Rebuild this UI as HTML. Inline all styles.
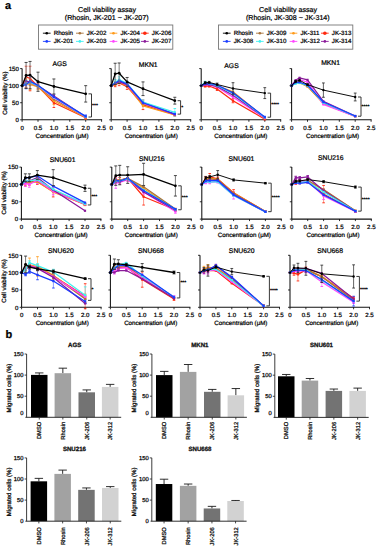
<!DOCTYPE html>
<html><head><meta charset="utf-8"><style>
html,body{margin:0;padding:0;background:#fff;}
body{width:378px;height:550px;overflow:hidden;}
svg{display:block;font-family:"Liberation Sans", sans-serif;text-rendering:geometricPrecision;}
text{stroke:#000;stroke-width:0.22px;paint-order:stroke;}
text.b{stroke:#111;stroke-width:0.28px;}
</style></head><body>
<svg width="378" height="550" viewBox="0 0 378 550">
<rect width="378" height="550" fill="#fff"/>
<text x="4.9" y="8.7" font-size="11" font-weight="bold">a</text>
<text x="107" y="12.4" font-size="7.1" text-anchor="middle" font-weight="normal" fill="#000" >Cell viability assay</text>
<text x="106.7" y="19.8" font-size="7.1" text-anchor="middle" font-weight="normal" fill="#000" >(Rhosin, JK-201 ~ JK-207)</text>
<text x="288.1" y="12.4" font-size="7.1" text-anchor="middle" font-weight="normal" fill="#000" >Cell viability assay</text>
<text x="287.8" y="19.8" font-size="7.1" text-anchor="middle" font-weight="normal" fill="#000" >(Rhosin, JK-308 ~ JK-314)</text>
<rect x="38.5" y="25" width="134.3" height="24.2" fill="none" stroke="#777" stroke-width="0.9"/>
<line x1="42.9" y1="33.2" x2="50.6" y2="33.2" stroke="#000000" stroke-width="0.9" />
<circle cx="46.75" cy="33.2" r="1.3" fill="#000000"/>
<text x="53.7" y="35.2" font-size="6.2" text-anchor="start" font-weight="normal" fill="#000" >Rhosin</text>
<line x1="76" y1="33.2" x2="83.7" y2="33.2" stroke="#a8743c" stroke-width="0.9" />
<circle cx="79.85" cy="33.2" r="1.3" fill="#a8743c"/>
<text x="86.8" y="35.2" font-size="6.2" text-anchor="start" font-weight="normal" fill="#000" >JK-202</text>
<line x1="109.6" y1="33.2" x2="117.3" y2="33.2" stroke="#ff9a1a" stroke-width="0.9" />
<circle cx="113.45" cy="33.2" r="1.3" fill="#ff9a1a"/>
<text x="120.4" y="35.2" font-size="6.2" text-anchor="start" font-weight="normal" fill="#000" >JK-204</text>
<line x1="141" y1="33.2" x2="148.7" y2="33.2" stroke="#ff2a10" stroke-width="0.9" />
<circle cx="144.85" cy="33.2" r="1.8" fill="#ff2a10"/>
<text x="151.8" y="35.2" font-size="6.2" text-anchor="start" font-weight="normal" fill="#000" >JK-206</text>
<line x1="42.9" y1="41.4" x2="50.6" y2="41.4" stroke="#1a3cff" stroke-width="0.9" />
<circle cx="46.75" cy="41.4" r="1.3" fill="#1a3cff"/>
<text x="53.7" y="43.4" font-size="6.2" text-anchor="start" font-weight="normal" fill="#000" >JK-201</text>
<line x1="76" y1="41.4" x2="83.7" y2="41.4" stroke="#3ef0f0" stroke-width="0.9" />
<circle cx="79.85" cy="41.4" r="1.3" fill="#3ef0f0"/>
<text x="86.8" y="43.4" font-size="6.2" text-anchor="start" font-weight="normal" fill="#000" >JK-203</text>
<line x1="109.6" y1="41.4" x2="117.3" y2="41.4" stroke="#ff44ff" stroke-width="0.9" />
<circle cx="113.45" cy="41.4" r="1.3" fill="#ff44ff"/>
<text x="120.4" y="43.4" font-size="6.2" text-anchor="start" font-weight="normal" fill="#000" >JK-205</text>
<line x1="141" y1="41.4" x2="148.7" y2="41.4" stroke="#8a1a9a" stroke-width="0.9" />
<circle cx="144.85" cy="41.4" r="1.3" fill="#8a1a9a"/>
<text x="151.8" y="43.4" font-size="6.2" text-anchor="start" font-weight="normal" fill="#000" >JK-207</text>
<rect x="218.5" y="25" width="134.3" height="24.2" fill="none" stroke="#777" stroke-width="0.9"/>
<line x1="222.9" y1="33.2" x2="230.6" y2="33.2" stroke="#000000" stroke-width="0.9" />
<circle cx="226.75" cy="33.2" r="1.3" fill="#000000"/>
<text x="233.7" y="35.2" font-size="6.2" text-anchor="start" font-weight="normal" fill="#000" >Rhosin</text>
<line x1="256" y1="33.2" x2="263.7" y2="33.2" stroke="#a8743c" stroke-width="0.9" />
<circle cx="259.85" cy="33.2" r="1.3" fill="#a8743c"/>
<text x="266.8" y="35.2" font-size="6.2" text-anchor="start" font-weight="normal" fill="#000" >JK-309</text>
<line x1="289.6" y1="33.2" x2="297.3" y2="33.2" stroke="#ff9a1a" stroke-width="0.9" />
<circle cx="293.45" cy="33.2" r="1.3" fill="#ff9a1a"/>
<text x="300.4" y="35.2" font-size="6.2" text-anchor="start" font-weight="normal" fill="#000" >JK-311</text>
<line x1="321" y1="33.2" x2="328.7" y2="33.2" stroke="#ff2a10" stroke-width="0.9" />
<circle cx="324.85" cy="33.2" r="1.8" fill="#ff2a10"/>
<text x="331.8" y="35.2" font-size="6.2" text-anchor="start" font-weight="normal" fill="#000" >JK-313</text>
<line x1="222.9" y1="41.4" x2="230.6" y2="41.4" stroke="#1a3cff" stroke-width="0.9" />
<circle cx="226.75" cy="41.4" r="1.3" fill="#1a3cff"/>
<text x="233.7" y="43.4" font-size="6.2" text-anchor="start" font-weight="normal" fill="#000" >JK-308</text>
<line x1="256" y1="41.4" x2="263.7" y2="41.4" stroke="#3ef0f0" stroke-width="0.9" />
<circle cx="259.85" cy="41.4" r="1.3" fill="#3ef0f0"/>
<text x="266.8" y="43.4" font-size="6.2" text-anchor="start" font-weight="normal" fill="#000" >JK-310</text>
<line x1="289.6" y1="41.4" x2="297.3" y2="41.4" stroke="#ff44ff" stroke-width="0.9" />
<circle cx="293.45" cy="41.4" r="1.3" fill="#ff44ff"/>
<text x="300.4" y="43.4" font-size="6.2" text-anchor="start" font-weight="normal" fill="#000" >JK-312</text>
<line x1="321" y1="41.4" x2="328.7" y2="41.4" stroke="#8a1a9a" stroke-width="0.9" />
<circle cx="324.85" cy="41.4" r="1.3" fill="#8a1a9a"/>
<text x="331.8" y="43.4" font-size="6.2" text-anchor="start" font-weight="normal" fill="#000" >JK-314</text>
<text x="59.7" y="66.3" font-size="6.8" text-anchor="middle" font-weight="normal" fill="#000" >AGS</text>
<line x1="22.1" y1="119.8" x2="22.1" y2="68.6" stroke="#111" stroke-width="1.05" />
<line x1="20.1" y1="119.8" x2="22.1" y2="119.8" stroke="#000" stroke-width="0.8" />
<line x1="20.1" y1="102.73" x2="22.1" y2="102.73" stroke="#000" stroke-width="0.8" />
<line x1="20.1" y1="85.67" x2="22.1" y2="85.67" stroke="#000" stroke-width="0.8" />
<line x1="20.1" y1="68.6" x2="22.1" y2="68.6" stroke="#000" stroke-width="0.8" />
<line x1="22.1" y1="119.8" x2="102.1" y2="119.8" stroke="#111" stroke-width="1.05" />
<line x1="22.1" y1="119.8" x2="22.1" y2="121.8" stroke="#000" stroke-width="0.8" />
<text x="22.1" y="129.7" font-size="6.1" text-anchor="middle" font-weight="normal" fill="#000" >0</text>
<line x1="38" y1="119.8" x2="38" y2="121.8" stroke="#000" stroke-width="0.8" />
<text x="38" y="129.7" font-size="6.1" text-anchor="middle" font-weight="normal" fill="#000" >0.5</text>
<line x1="53.9" y1="119.8" x2="53.9" y2="121.8" stroke="#000" stroke-width="0.8" />
<text x="53.9" y="129.7" font-size="6.1" text-anchor="middle" font-weight="normal" fill="#000" >1.0</text>
<line x1="69.8" y1="119.8" x2="69.8" y2="121.8" stroke="#000" stroke-width="0.8" />
<text x="69.8" y="129.7" font-size="6.1" text-anchor="middle" font-weight="normal" fill="#000" >1.5</text>
<line x1="85.7" y1="119.8" x2="85.7" y2="121.8" stroke="#000" stroke-width="0.8" />
<text x="85.7" y="129.7" font-size="6.1" text-anchor="middle" font-weight="normal" fill="#000" >2.0</text>
<line x1="101.6" y1="119.8" x2="101.6" y2="121.8" stroke="#000" stroke-width="0.8" />
<text x="101.6" y="129.7" font-size="6.1" text-anchor="middle" font-weight="normal" fill="#000" >2.5</text>
<text x="62" y="137.7" font-size="6.2" text-anchor="middle" font-weight="normal" fill="#000" >Concentration (μM)</text>
<text x="18.9" y="122" font-size="6.1" text-anchor="end" font-weight="normal" fill="#000" >0</text>
<text x="18.9" y="104.93" font-size="6.1" text-anchor="end" font-weight="normal" fill="#000" >50</text>
<text x="18.9" y="87.87" font-size="6.1" text-anchor="end" font-weight="normal" fill="#000" >100</text>
<text x="18.9" y="70.8" font-size="6.1" text-anchor="end" font-weight="normal" fill="#000" >150</text>
<text transform="translate(6.9,93.15) rotate(-90)" font-size="6.1" text-anchor="middle">Cell viability (%)</text>
<line x1="26.08" y1="87.37" x2="26.08" y2="66.21" stroke="#ff2a10" stroke-width="0.5" />
<line x1="24.78" y1="66.21" x2="27.38" y2="66.21" stroke="#ff2a10" stroke-width="0.9" />
<line x1="24.78" y1="87.37" x2="27.38" y2="87.37" stroke="#ff2a10" stroke-width="0.9" />
<line x1="30.05" y1="90.79" x2="30.05" y2="66.21" stroke="#ff2a10" stroke-width="0.5" />
<line x1="28.75" y1="66.21" x2="31.35" y2="66.21" stroke="#ff2a10" stroke-width="0.9" />
<line x1="28.75" y1="90.79" x2="31.35" y2="90.79" stroke="#ff2a10" stroke-width="0.9" />
<line x1="38" y1="89.08" x2="38" y2="83.62" stroke="#ff2a10" stroke-width="0.5" />
<line x1="36.7" y1="83.62" x2="39.3" y2="83.62" stroke="#ff2a10" stroke-width="0.9" />
<line x1="36.7" y1="89.08" x2="39.3" y2="89.08" stroke="#ff2a10" stroke-width="0.9" />
<line x1="53.9" y1="107.51" x2="53.9" y2="97.95" stroke="#ff2a10" stroke-width="0.5" />
<line x1="52.6" y1="97.95" x2="55.2" y2="97.95" stroke="#ff2a10" stroke-width="0.9" />
<line x1="52.6" y1="107.51" x2="55.2" y2="107.51" stroke="#ff2a10" stroke-width="0.9" />
<line x1="85.7" y1="119.12" x2="85.7" y2="116.39" stroke="#ff2a10" stroke-width="0.5" />
<line x1="84.4" y1="116.39" x2="87" y2="116.39" stroke="#ff2a10" stroke-width="0.9" />
<line x1="84.4" y1="119.12" x2="87" y2="119.12" stroke="#ff2a10" stroke-width="0.9" />
<line x1="26.08" y1="88.4" x2="26.08" y2="78.84" stroke="#ff9a1a" stroke-width="0.5" />
<line x1="24.78" y1="78.84" x2="27.38" y2="78.84" stroke="#ff9a1a" stroke-width="0.9" />
<line x1="24.78" y1="88.4" x2="27.38" y2="88.4" stroke="#ff9a1a" stroke-width="0.9" />
<line x1="30.05" y1="89.76" x2="30.05" y2="78.84" stroke="#ff9a1a" stroke-width="0.5" />
<line x1="28.75" y1="78.84" x2="31.35" y2="78.84" stroke="#ff9a1a" stroke-width="0.9" />
<line x1="28.75" y1="89.76" x2="31.35" y2="89.76" stroke="#ff9a1a" stroke-width="0.9" />
<line x1="38" y1="89.76" x2="38" y2="84.3" stroke="#ff9a1a" stroke-width="0.5" />
<line x1="36.7" y1="84.3" x2="39.3" y2="84.3" stroke="#ff9a1a" stroke-width="0.9" />
<line x1="36.7" y1="89.76" x2="39.3" y2="89.76" stroke="#ff9a1a" stroke-width="0.9" />
<line x1="53.9" y1="104.44" x2="53.9" y2="97.61" stroke="#ff9a1a" stroke-width="0.5" />
<line x1="52.6" y1="97.61" x2="55.2" y2="97.61" stroke="#ff9a1a" stroke-width="0.9" />
<line x1="52.6" y1="104.44" x2="55.2" y2="104.44" stroke="#ff9a1a" stroke-width="0.9" />
<line x1="85.7" y1="118.78" x2="85.7" y2="116.05" stroke="#ff9a1a" stroke-width="0.5" />
<line x1="84.4" y1="116.05" x2="87" y2="116.05" stroke="#ff9a1a" stroke-width="0.9" />
<line x1="84.4" y1="118.78" x2="87" y2="118.78" stroke="#ff9a1a" stroke-width="0.9" />
<line x1="26.08" y1="88.74" x2="26.08" y2="80.55" stroke="#1a3cff" stroke-width="0.5" />
<line x1="24.78" y1="80.55" x2="27.38" y2="80.55" stroke="#1a3cff" stroke-width="0.9" />
<line x1="24.78" y1="88.74" x2="27.38" y2="88.74" stroke="#1a3cff" stroke-width="0.9" />
<line x1="30.05" y1="85.33" x2="30.05" y2="77.13" stroke="#1a3cff" stroke-width="0.5" />
<line x1="28.75" y1="77.13" x2="31.35" y2="77.13" stroke="#1a3cff" stroke-width="0.9" />
<line x1="28.75" y1="85.33" x2="31.35" y2="85.33" stroke="#1a3cff" stroke-width="0.9" />
<line x1="38" y1="88.06" x2="38" y2="82.59" stroke="#1a3cff" stroke-width="0.5" />
<line x1="36.7" y1="82.59" x2="39.3" y2="82.59" stroke="#1a3cff" stroke-width="0.9" />
<line x1="36.7" y1="88.06" x2="39.3" y2="88.06" stroke="#1a3cff" stroke-width="0.9" />
<line x1="53.9" y1="98.98" x2="53.9" y2="94.88" stroke="#1a3cff" stroke-width="0.5" />
<line x1="52.6" y1="94.88" x2="55.2" y2="94.88" stroke="#1a3cff" stroke-width="0.9" />
<line x1="52.6" y1="98.98" x2="55.2" y2="98.98" stroke="#1a3cff" stroke-width="0.9" />
<line x1="85.7" y1="117.75" x2="85.7" y2="115.02" stroke="#1a3cff" stroke-width="0.5" />
<line x1="84.4" y1="115.02" x2="87" y2="115.02" stroke="#1a3cff" stroke-width="0.9" />
<line x1="84.4" y1="117.75" x2="87" y2="117.75" stroke="#1a3cff" stroke-width="0.9" />
<polyline points="22.1,85.67 26.08,76.79 30.05,78.5 38,86.35 53.9,102.73 85.7,117.75" fill="none" stroke="#ff2a10" stroke-width="1.25" stroke-linejoin="round"/>
<rect x="21" y="84.57" width="2.2" height="2.2" fill="#ff2a10"/>
<rect x="24.98" y="75.69" width="2.2" height="2.2" fill="#ff2a10"/>
<rect x="28.95" y="77.4" width="2.2" height="2.2" fill="#ff2a10"/>
<rect x="36.9" y="85.25" width="2.2" height="2.2" fill="#ff2a10"/>
<rect x="52.8" y="101.63" width="2.2" height="2.2" fill="#ff2a10"/>
<rect x="84.6" y="116.65" width="2.2" height="2.2" fill="#ff2a10"/>
<polyline points="22.1,85.67 26.08,83.62 30.05,84.3 38,87.03 53.9,101.03 85.7,117.41" fill="none" stroke="#ff9a1a" stroke-width="1.25" stroke-linejoin="round"/>
<rect x="21" y="84.57" width="2.2" height="2.2" fill="#ff9a1a"/>
<rect x="24.98" y="82.52" width="2.2" height="2.2" fill="#ff9a1a"/>
<rect x="28.95" y="83.2" width="2.2" height="2.2" fill="#ff9a1a"/>
<rect x="36.9" y="85.93" width="2.2" height="2.2" fill="#ff9a1a"/>
<rect x="52.8" y="99.93" width="2.2" height="2.2" fill="#ff9a1a"/>
<rect x="84.6" y="116.31" width="2.2" height="2.2" fill="#ff9a1a"/>
<polyline points="22.1,85.67 26.08,82.94 30.05,82.94 38,86.35 53.9,99.32 85.7,117.07" fill="none" stroke="#a8743c" stroke-width="1.25" stroke-linejoin="round"/>
<rect x="21" y="84.57" width="2.2" height="2.2" fill="#a8743c"/>
<rect x="24.98" y="81.84" width="2.2" height="2.2" fill="#a8743c"/>
<rect x="28.95" y="81.84" width="2.2" height="2.2" fill="#a8743c"/>
<rect x="36.9" y="85.25" width="2.2" height="2.2" fill="#a8743c"/>
<rect x="52.8" y="98.22" width="2.2" height="2.2" fill="#a8743c"/>
<rect x="84.6" y="115.97" width="2.2" height="2.2" fill="#a8743c"/>
<polyline points="22.1,85.67 26.08,82.25 30.05,82.25 38,86.01 53.9,97.95 85.7,117.07" fill="none" stroke="#ff44ff" stroke-width="1.25" stroke-linejoin="round"/>
<rect x="21" y="84.57" width="2.2" height="2.2" fill="#ff44ff"/>
<rect x="24.98" y="81.15" width="2.2" height="2.2" fill="#ff44ff"/>
<rect x="28.95" y="81.15" width="2.2" height="2.2" fill="#ff44ff"/>
<rect x="36.9" y="84.91" width="2.2" height="2.2" fill="#ff44ff"/>
<rect x="52.8" y="96.85" width="2.2" height="2.2" fill="#ff44ff"/>
<rect x="84.6" y="115.97" width="2.2" height="2.2" fill="#ff44ff"/>
<polyline points="22.1,85.67 26.08,81.57 30.05,81.57 38,85.67 53.9,95.91 85.7,116.73" fill="none" stroke="#8a1a9a" stroke-width="1.25" stroke-linejoin="round"/>
<rect x="21" y="84.57" width="2.2" height="2.2" fill="#8a1a9a"/>
<rect x="24.98" y="80.47" width="2.2" height="2.2" fill="#8a1a9a"/>
<rect x="28.95" y="80.47" width="2.2" height="2.2" fill="#8a1a9a"/>
<rect x="36.9" y="84.57" width="2.2" height="2.2" fill="#8a1a9a"/>
<rect x="52.8" y="94.81" width="2.2" height="2.2" fill="#8a1a9a"/>
<rect x="84.6" y="115.63" width="2.2" height="2.2" fill="#8a1a9a"/>
<polyline points="22.1,85.67 26.08,83.62 30.05,82.25 38,85.67 53.9,97.27 85.7,116.73" fill="none" stroke="#3ef0f0" stroke-width="1.25" stroke-linejoin="round"/>
<rect x="21" y="84.57" width="2.2" height="2.2" fill="#3ef0f0"/>
<rect x="24.98" y="82.52" width="2.2" height="2.2" fill="#3ef0f0"/>
<rect x="28.95" y="81.15" width="2.2" height="2.2" fill="#3ef0f0"/>
<rect x="36.9" y="84.57" width="2.2" height="2.2" fill="#3ef0f0"/>
<rect x="52.8" y="96.17" width="2.2" height="2.2" fill="#3ef0f0"/>
<rect x="84.6" y="115.63" width="2.2" height="2.2" fill="#3ef0f0"/>
<polyline points="22.1,85.67 26.08,84.64 30.05,81.23 38,85.33 53.9,96.93 85.7,116.39" fill="none" stroke="#1a3cff" stroke-width="1.25" stroke-linejoin="round"/>
<rect x="21" y="84.57" width="2.2" height="2.2" fill="#1a3cff"/>
<rect x="24.98" y="83.54" width="2.2" height="2.2" fill="#1a3cff"/>
<rect x="28.95" y="80.13" width="2.2" height="2.2" fill="#1a3cff"/>
<rect x="36.9" y="84.23" width="2.2" height="2.2" fill="#1a3cff"/>
<rect x="52.8" y="95.83" width="2.2" height="2.2" fill="#1a3cff"/>
<rect x="84.6" y="115.29" width="2.2" height="2.2" fill="#1a3cff"/>
<line x1="26.08" y1="88.4" x2="26.08" y2="62.46" stroke="#7a7a7a" stroke-width="1.0" />
<line x1="24.58" y1="62.46" x2="27.58" y2="62.46" stroke="#333" stroke-width="0.9" />
<line x1="24.58" y1="88.4" x2="27.58" y2="88.4" stroke="#333" stroke-width="0.9" />
<line x1="30.05" y1="88.74" x2="30.05" y2="61.43" stroke="#7a7a7a" stroke-width="1.0" />
<line x1="28.55" y1="61.43" x2="31.55" y2="61.43" stroke="#333" stroke-width="0.9" />
<line x1="28.55" y1="88.74" x2="31.55" y2="88.74" stroke="#333" stroke-width="0.9" />
<line x1="38" y1="91.3" x2="38" y2="72.18" stroke="#7a7a7a" stroke-width="1.0" />
<line x1="36.5" y1="72.18" x2="39.5" y2="72.18" stroke="#333" stroke-width="0.9" />
<line x1="36.5" y1="91.3" x2="39.5" y2="91.3" stroke="#333" stroke-width="0.9" />
<line x1="53.9" y1="94" x2="53.9" y2="78.98" stroke="#7a7a7a" stroke-width="1.0" />
<line x1="52.4" y1="78.98" x2="55.4" y2="78.98" stroke="#333" stroke-width="0.9" />
<line x1="52.4" y1="94" x2="55.4" y2="94" stroke="#333" stroke-width="0.9" />
<line x1="85.7" y1="102.05" x2="85.7" y2="85.67" stroke="#7a7a7a" stroke-width="1.0" />
<line x1="84.2" y1="85.67" x2="87.2" y2="85.67" stroke="#333" stroke-width="0.9" />
<line x1="84.2" y1="102.05" x2="87.2" y2="102.05" stroke="#333" stroke-width="0.9" />
<polyline points="22.1,85.67 26.08,75.43 30.05,75.09 38,81.74 53.9,86.49 85.7,93.86" fill="none" stroke="#000" stroke-width="1.3" stroke-linejoin="round"/>
<circle cx="22.1" cy="85.67" r="1.4" fill="#000"/>
<circle cx="26.08" cy="75.43" r="1.4" fill="#000"/>
<circle cx="30.05" cy="75.09" r="1.4" fill="#000"/>
<circle cx="38" cy="81.74" r="1.4" fill="#000"/>
<circle cx="53.9" cy="86.49" r="1.4" fill="#000"/>
<circle cx="85.7" cy="93.86" r="1.4" fill="#000"/>
<polyline points="88.5,93.86 91.5,93.86 91.5,117.02 88.5,117.02" fill="none" stroke="#222" stroke-width="0.9"/>
<text x="92.1" y="107.14" font-size="5.0" text-anchor="start" font-weight="normal" fill="#000" >***</text>
<text x="148.2" y="67.4" font-size="6.8" text-anchor="middle" font-weight="normal" fill="#000" >MKN1</text>
<line x1="111.2" y1="119.8" x2="111.2" y2="68.6" stroke="#111" stroke-width="1.05" />
<line x1="109.2" y1="119.8" x2="111.2" y2="119.8" stroke="#000" stroke-width="0.8" />
<line x1="109.2" y1="102.73" x2="111.2" y2="102.73" stroke="#000" stroke-width="0.8" />
<line x1="109.2" y1="85.67" x2="111.2" y2="85.67" stroke="#000" stroke-width="0.8" />
<line x1="109.2" y1="68.6" x2="111.2" y2="68.6" stroke="#000" stroke-width="0.8" />
<line x1="111.2" y1="119.8" x2="191.2" y2="119.8" stroke="#111" stroke-width="1.05" />
<line x1="111.2" y1="119.8" x2="111.2" y2="121.8" stroke="#000" stroke-width="0.8" />
<text x="111.2" y="129.7" font-size="6.1" text-anchor="middle" font-weight="normal" fill="#000" >0</text>
<line x1="127.1" y1="119.8" x2="127.1" y2="121.8" stroke="#000" stroke-width="0.8" />
<text x="127.1" y="129.7" font-size="6.1" text-anchor="middle" font-weight="normal" fill="#000" >0.5</text>
<line x1="143" y1="119.8" x2="143" y2="121.8" stroke="#000" stroke-width="0.8" />
<text x="143" y="129.7" font-size="6.1" text-anchor="middle" font-weight="normal" fill="#000" >1.0</text>
<line x1="158.9" y1="119.8" x2="158.9" y2="121.8" stroke="#000" stroke-width="0.8" />
<text x="158.9" y="129.7" font-size="6.1" text-anchor="middle" font-weight="normal" fill="#000" >1.5</text>
<line x1="174.8" y1="119.8" x2="174.8" y2="121.8" stroke="#000" stroke-width="0.8" />
<text x="174.8" y="129.7" font-size="6.1" text-anchor="middle" font-weight="normal" fill="#000" >2.0</text>
<line x1="190.7" y1="119.8" x2="190.7" y2="121.8" stroke="#000" stroke-width="0.8" />
<text x="190.7" y="129.7" font-size="6.1" text-anchor="middle" font-weight="normal" fill="#000" >2.5</text>
<text x="151.2" y="137.7" font-size="6.2" text-anchor="middle" font-weight="normal" fill="#000" >Concentration (μM)</text>
<line x1="115.17" y1="86.69" x2="115.17" y2="82.59" stroke="#ff2a10" stroke-width="0.5" />
<line x1="113.88" y1="82.59" x2="116.47" y2="82.59" stroke="#ff2a10" stroke-width="0.9" />
<line x1="113.88" y1="86.69" x2="116.47" y2="86.69" stroke="#ff2a10" stroke-width="0.9" />
<line x1="119.15" y1="85.67" x2="119.15" y2="80.21" stroke="#ff2a10" stroke-width="0.5" />
<line x1="117.85" y1="80.21" x2="120.45" y2="80.21" stroke="#ff2a10" stroke-width="0.9" />
<line x1="117.85" y1="85.67" x2="120.45" y2="85.67" stroke="#ff2a10" stroke-width="0.9" />
<line x1="127.1" y1="89.42" x2="127.1" y2="83.96" stroke="#ff2a10" stroke-width="0.5" />
<line x1="125.8" y1="83.96" x2="128.4" y2="83.96" stroke="#ff2a10" stroke-width="0.9" />
<line x1="125.8" y1="89.42" x2="128.4" y2="89.42" stroke="#ff2a10" stroke-width="0.9" />
<line x1="143" y1="109.56" x2="143" y2="100" stroke="#ff2a10" stroke-width="0.5" />
<line x1="141.7" y1="100" x2="144.3" y2="100" stroke="#ff2a10" stroke-width="0.9" />
<line x1="141.7" y1="109.56" x2="144.3" y2="109.56" stroke="#ff2a10" stroke-width="0.9" />
<line x1="174.8" y1="116.05" x2="174.8" y2="113.31" stroke="#ff2a10" stroke-width="0.5" />
<line x1="173.5" y1="113.31" x2="176.1" y2="113.31" stroke="#ff2a10" stroke-width="0.9" />
<line x1="173.5" y1="116.05" x2="176.1" y2="116.05" stroke="#ff2a10" stroke-width="0.9" />
<line x1="115.17" y1="84.98" x2="115.17" y2="79.52" stroke="#3ef0f0" stroke-width="0.5" />
<line x1="113.88" y1="79.52" x2="116.47" y2="79.52" stroke="#3ef0f0" stroke-width="0.9" />
<line x1="113.88" y1="84.98" x2="116.47" y2="84.98" stroke="#3ef0f0" stroke-width="0.9" />
<line x1="119.15" y1="82.25" x2="119.15" y2="76.79" stroke="#3ef0f0" stroke-width="0.5" />
<line x1="117.85" y1="76.79" x2="120.45" y2="76.79" stroke="#3ef0f0" stroke-width="0.9" />
<line x1="117.85" y1="82.25" x2="120.45" y2="82.25" stroke="#3ef0f0" stroke-width="0.9" />
<line x1="127.1" y1="85.67" x2="127.1" y2="81.57" stroke="#3ef0f0" stroke-width="0.5" />
<line x1="125.8" y1="81.57" x2="128.4" y2="81.57" stroke="#3ef0f0" stroke-width="0.9" />
<line x1="125.8" y1="85.67" x2="128.4" y2="85.67" stroke="#3ef0f0" stroke-width="0.9" />
<line x1="143" y1="104.1" x2="143" y2="100" stroke="#3ef0f0" stroke-width="0.5" />
<line x1="141.7" y1="100" x2="144.3" y2="100" stroke="#3ef0f0" stroke-width="0.9" />
<line x1="141.7" y1="104.1" x2="144.3" y2="104.1" stroke="#3ef0f0" stroke-width="0.9" />
<line x1="174.8" y1="116.05" x2="174.8" y2="108.54" stroke="#3ef0f0" stroke-width="0.5" />
<line x1="173.5" y1="108.54" x2="176.1" y2="108.54" stroke="#3ef0f0" stroke-width="0.9" />
<line x1="173.5" y1="116.05" x2="176.1" y2="116.05" stroke="#3ef0f0" stroke-width="0.9" />
<polyline points="111.2,85.67 115.17,84.64 119.15,82.94 127.1,86.69 143,104.78 174.8,114.68" fill="none" stroke="#ff2a10" stroke-width="1.25" stroke-linejoin="round"/>
<rect x="110.1" y="84.57" width="2.2" height="2.2" fill="#ff2a10"/>
<rect x="114.08" y="83.54" width="2.2" height="2.2" fill="#ff2a10"/>
<rect x="118.05" y="81.84" width="2.2" height="2.2" fill="#ff2a10"/>
<rect x="126" y="85.59" width="2.2" height="2.2" fill="#ff2a10"/>
<rect x="141.9" y="103.68" width="2.2" height="2.2" fill="#ff2a10"/>
<rect x="173.7" y="113.58" width="2.2" height="2.2" fill="#ff2a10"/>
<polyline points="111.2,85.67 115.17,84.3 119.15,82.42 127.1,85.67 143,105.81 174.8,115.02" fill="none" stroke="#ff9a1a" stroke-width="1.25" stroke-linejoin="round"/>
<rect x="110.1" y="84.57" width="2.2" height="2.2" fill="#ff9a1a"/>
<rect x="114.08" y="83.2" width="2.2" height="2.2" fill="#ff9a1a"/>
<rect x="118.05" y="81.32" width="2.2" height="2.2" fill="#ff9a1a"/>
<rect x="126" y="84.57" width="2.2" height="2.2" fill="#ff9a1a"/>
<rect x="141.9" y="104.71" width="2.2" height="2.2" fill="#ff9a1a"/>
<rect x="173.7" y="113.92" width="2.2" height="2.2" fill="#ff9a1a"/>
<polyline points="111.2,85.67 115.17,83.62 119.15,82.25 127.1,84.98 143,103.76 174.8,114.34" fill="none" stroke="#a8743c" stroke-width="1.25" stroke-linejoin="round"/>
<rect x="110.1" y="84.57" width="2.2" height="2.2" fill="#a8743c"/>
<rect x="114.08" y="82.52" width="2.2" height="2.2" fill="#a8743c"/>
<rect x="118.05" y="81.15" width="2.2" height="2.2" fill="#a8743c"/>
<rect x="126" y="83.88" width="2.2" height="2.2" fill="#a8743c"/>
<rect x="141.9" y="102.66" width="2.2" height="2.2" fill="#a8743c"/>
<rect x="173.7" y="113.24" width="2.2" height="2.2" fill="#a8743c"/>
<polyline points="111.2,85.67 115.17,83.28 119.15,81.57 127.1,84.98 143,103.07 174.8,114.34" fill="none" stroke="#ff44ff" stroke-width="1.25" stroke-linejoin="round"/>
<rect x="110.1" y="84.57" width="2.2" height="2.2" fill="#ff44ff"/>
<rect x="114.08" y="82.18" width="2.2" height="2.2" fill="#ff44ff"/>
<rect x="118.05" y="80.47" width="2.2" height="2.2" fill="#ff44ff"/>
<rect x="126" y="83.88" width="2.2" height="2.2" fill="#ff44ff"/>
<rect x="141.9" y="101.97" width="2.2" height="2.2" fill="#ff44ff"/>
<rect x="173.7" y="113.24" width="2.2" height="2.2" fill="#ff44ff"/>
<polyline points="111.2,85.67 115.17,82.94 119.15,81.57 127.1,84.64 143,102.39 174.8,114.34" fill="none" stroke="#8a1a9a" stroke-width="1.25" stroke-linejoin="round"/>
<rect x="110.1" y="84.57" width="2.2" height="2.2" fill="#8a1a9a"/>
<rect x="114.08" y="81.84" width="2.2" height="2.2" fill="#8a1a9a"/>
<rect x="118.05" y="80.47" width="2.2" height="2.2" fill="#8a1a9a"/>
<rect x="126" y="83.54" width="2.2" height="2.2" fill="#8a1a9a"/>
<rect x="141.9" y="101.29" width="2.2" height="2.2" fill="#8a1a9a"/>
<rect x="173.7" y="113.24" width="2.2" height="2.2" fill="#8a1a9a"/>
<polyline points="111.2,85.67 115.17,82.25 119.15,79.52 127.1,83.62 143,102.05 174.8,112.29" fill="none" stroke="#3ef0f0" stroke-width="1.25" stroke-linejoin="round"/>
<rect x="110.1" y="84.57" width="2.2" height="2.2" fill="#3ef0f0"/>
<rect x="114.08" y="81.15" width="2.2" height="2.2" fill="#3ef0f0"/>
<rect x="118.05" y="78.42" width="2.2" height="2.2" fill="#3ef0f0"/>
<rect x="126" y="82.52" width="2.2" height="2.2" fill="#3ef0f0"/>
<rect x="141.9" y="100.95" width="2.2" height="2.2" fill="#3ef0f0"/>
<rect x="173.7" y="111.19" width="2.2" height="2.2" fill="#3ef0f0"/>
<polyline points="111.2,85.67 115.17,82.94 119.15,80.68 127.1,83.96 143,102.73 174.8,114" fill="none" stroke="#1a3cff" stroke-width="1.25" stroke-linejoin="round"/>
<rect x="110.1" y="84.57" width="2.2" height="2.2" fill="#1a3cff"/>
<rect x="114.08" y="81.84" width="2.2" height="2.2" fill="#1a3cff"/>
<rect x="118.05" y="79.58" width="2.2" height="2.2" fill="#1a3cff"/>
<rect x="126" y="82.86" width="2.2" height="2.2" fill="#1a3cff"/>
<rect x="141.9" y="101.63" width="2.2" height="2.2" fill="#1a3cff"/>
<rect x="173.7" y="112.9" width="2.2" height="2.2" fill="#1a3cff"/>
<line x1="115.17" y1="84.4" x2="115.17" y2="63.24" stroke="#7a7a7a" stroke-width="1.0" />
<line x1="113.67" y1="63.24" x2="116.67" y2="63.24" stroke="#333" stroke-width="0.9" />
<line x1="113.67" y1="84.4" x2="116.67" y2="84.4" stroke="#333" stroke-width="0.9" />
<line x1="119.15" y1="83.45" x2="119.15" y2="62.97" stroke="#7a7a7a" stroke-width="1.0" />
<line x1="117.65" y1="62.97" x2="120.65" y2="62.97" stroke="#333" stroke-width="0.9" />
<line x1="117.65" y1="83.45" x2="120.65" y2="83.45" stroke="#333" stroke-width="0.9" />
<line x1="127.1" y1="86.35" x2="127.1" y2="77.47" stroke="#7a7a7a" stroke-width="1.0" />
<line x1="125.6" y1="77.47" x2="128.6" y2="77.47" stroke="#333" stroke-width="0.9" />
<line x1="125.6" y1="86.35" x2="128.6" y2="86.35" stroke="#333" stroke-width="0.9" />
<line x1="143" y1="95.57" x2="143" y2="81.91" stroke="#7a7a7a" stroke-width="1.0" />
<line x1="141.5" y1="81.91" x2="144.5" y2="81.91" stroke="#333" stroke-width="0.9" />
<line x1="141.5" y1="95.57" x2="144.5" y2="95.57" stroke="#333" stroke-width="0.9" />
<line x1="174.8" y1="104.1" x2="174.8" y2="97.27" stroke="#7a7a7a" stroke-width="1.0" />
<line x1="173.3" y1="97.27" x2="176.3" y2="97.27" stroke="#333" stroke-width="0.9" />
<line x1="173.3" y1="104.1" x2="176.3" y2="104.1" stroke="#333" stroke-width="0.9" />
<polyline points="111.2,85.67 115.17,73.82 119.15,73.21 127.1,81.91 143,88.74 174.8,100.69" fill="none" stroke="#000" stroke-width="1.3" stroke-linejoin="round"/>
<circle cx="111.2" cy="85.67" r="1.4" fill="#000"/>
<circle cx="115.17" cy="73.82" r="1.4" fill="#000"/>
<circle cx="119.15" cy="73.21" r="1.4" fill="#000"/>
<circle cx="127.1" cy="81.91" r="1.4" fill="#000"/>
<circle cx="143" cy="88.74" r="1.4" fill="#000"/>
<circle cx="174.8" cy="100.69" r="1.4" fill="#000"/>
<polyline points="177.6,100.69 180.6,100.69 180.6,114.14 177.6,114.14" fill="none" stroke="#222" stroke-width="0.9"/>
<text x="181.2" y="109.11" font-size="5.0" text-anchor="start" font-weight="normal" fill="#000" >*</text>
<text x="231.5" y="67.8" font-size="6.8" text-anchor="middle" font-weight="normal" fill="#000" >AGS</text>
<line x1="201.2" y1="119.8" x2="201.2" y2="68.6" stroke="#111" stroke-width="1.05" />
<line x1="199.2" y1="119.8" x2="201.2" y2="119.8" stroke="#000" stroke-width="0.8" />
<line x1="199.2" y1="102.73" x2="201.2" y2="102.73" stroke="#000" stroke-width="0.8" />
<line x1="199.2" y1="85.67" x2="201.2" y2="85.67" stroke="#000" stroke-width="0.8" />
<line x1="199.2" y1="68.6" x2="201.2" y2="68.6" stroke="#000" stroke-width="0.8" />
<line x1="201.2" y1="119.8" x2="281.2" y2="119.8" stroke="#111" stroke-width="1.05" />
<line x1="201.2" y1="119.8" x2="201.2" y2="121.8" stroke="#000" stroke-width="0.8" />
<text x="201.2" y="129.7" font-size="6.1" text-anchor="middle" font-weight="normal" fill="#000" >0</text>
<line x1="217.1" y1="119.8" x2="217.1" y2="121.8" stroke="#000" stroke-width="0.8" />
<text x="217.1" y="129.7" font-size="6.1" text-anchor="middle" font-weight="normal" fill="#000" >0.5</text>
<line x1="233" y1="119.8" x2="233" y2="121.8" stroke="#000" stroke-width="0.8" />
<text x="233" y="129.7" font-size="6.1" text-anchor="middle" font-weight="normal" fill="#000" >1.0</text>
<line x1="248.9" y1="119.8" x2="248.9" y2="121.8" stroke="#000" stroke-width="0.8" />
<text x="248.9" y="129.7" font-size="6.1" text-anchor="middle" font-weight="normal" fill="#000" >1.5</text>
<line x1="264.8" y1="119.8" x2="264.8" y2="121.8" stroke="#000" stroke-width="0.8" />
<text x="264.8" y="129.7" font-size="6.1" text-anchor="middle" font-weight="normal" fill="#000" >2.0</text>
<line x1="280.7" y1="119.8" x2="280.7" y2="121.8" stroke="#000" stroke-width="0.8" />
<text x="280.7" y="129.7" font-size="6.1" text-anchor="middle" font-weight="normal" fill="#000" >2.5</text>
<text x="240.9" y="137.7" font-size="6.2" text-anchor="middle" font-weight="normal" fill="#000" >Concentration (μM)</text>
<line x1="205.17" y1="87.03" x2="205.17" y2="84.98" stroke="#ff2a10" stroke-width="0.5" />
<line x1="203.87" y1="84.98" x2="206.47" y2="84.98" stroke="#ff2a10" stroke-width="0.9" />
<line x1="203.87" y1="87.03" x2="206.47" y2="87.03" stroke="#ff2a10" stroke-width="0.9" />
<line x1="209.15" y1="87.03" x2="209.15" y2="84.98" stroke="#ff2a10" stroke-width="0.5" />
<line x1="207.85" y1="84.98" x2="210.45" y2="84.98" stroke="#ff2a10" stroke-width="0.9" />
<line x1="207.85" y1="87.03" x2="210.45" y2="87.03" stroke="#ff2a10" stroke-width="0.9" />
<line x1="217.1" y1="90.45" x2="217.1" y2="87.71" stroke="#ff2a10" stroke-width="0.5" />
<line x1="215.8" y1="87.71" x2="218.4" y2="87.71" stroke="#ff2a10" stroke-width="0.9" />
<line x1="215.8" y1="90.45" x2="218.4" y2="90.45" stroke="#ff2a10" stroke-width="0.9" />
<line x1="233" y1="102.73" x2="233" y2="98.64" stroke="#ff2a10" stroke-width="0.5" />
<line x1="231.7" y1="98.64" x2="234.3" y2="98.64" stroke="#ff2a10" stroke-width="0.9" />
<line x1="231.7" y1="102.73" x2="234.3" y2="102.73" stroke="#ff2a10" stroke-width="0.9" />
<line x1="264.8" y1="119.8" x2="264.8" y2="118.43" stroke="#ff2a10" stroke-width="0.5" />
<line x1="263.5" y1="118.43" x2="266.1" y2="118.43" stroke="#ff2a10" stroke-width="0.9" />
<line x1="263.5" y1="119.8" x2="266.1" y2="119.8" stroke="#ff2a10" stroke-width="0.9" />
<polyline points="201.2,85.67 205.17,86.01 209.15,86.01 217.1,89.08 233,100.69 264.8,119.12" fill="none" stroke="#ff2a10" stroke-width="1.25" stroke-linejoin="round"/>
<rect x="200.1" y="84.57" width="2.2" height="2.2" fill="#ff2a10"/>
<rect x="204.07" y="84.91" width="2.2" height="2.2" fill="#ff2a10"/>
<rect x="208.05" y="84.91" width="2.2" height="2.2" fill="#ff2a10"/>
<rect x="216" y="87.98" width="2.2" height="2.2" fill="#ff2a10"/>
<rect x="231.9" y="99.59" width="2.2" height="2.2" fill="#ff2a10"/>
<rect x="263.7" y="118.02" width="2.2" height="2.2" fill="#ff2a10"/>
<polyline points="201.2,85.67 205.17,84.3 209.15,84.3 217.1,85.67 233,91.81 264.8,117.75" fill="none" stroke="#ff9a1a" stroke-width="1.25" stroke-linejoin="round"/>
<rect x="200.1" y="84.57" width="2.2" height="2.2" fill="#ff9a1a"/>
<rect x="204.07" y="83.2" width="2.2" height="2.2" fill="#ff9a1a"/>
<rect x="208.05" y="83.2" width="2.2" height="2.2" fill="#ff9a1a"/>
<rect x="216" y="84.57" width="2.2" height="2.2" fill="#ff9a1a"/>
<rect x="231.9" y="90.71" width="2.2" height="2.2" fill="#ff9a1a"/>
<rect x="263.7" y="116.65" width="2.2" height="2.2" fill="#ff9a1a"/>
<polyline points="201.2,85.67 205.17,84.3 209.15,84.64 217.1,86.01 233,92.49 264.8,117.75" fill="none" stroke="#a8743c" stroke-width="1.25" stroke-linejoin="round"/>
<rect x="200.1" y="84.57" width="2.2" height="2.2" fill="#a8743c"/>
<rect x="204.07" y="83.2" width="2.2" height="2.2" fill="#a8743c"/>
<rect x="208.05" y="83.54" width="2.2" height="2.2" fill="#a8743c"/>
<rect x="216" y="84.91" width="2.2" height="2.2" fill="#a8743c"/>
<rect x="231.9" y="91.39" width="2.2" height="2.2" fill="#a8743c"/>
<rect x="263.7" y="116.65" width="2.2" height="2.2" fill="#a8743c"/>
<polyline points="201.2,85.67 205.17,84.64 209.15,84.98 217.1,87.03 233,97.27 264.8,118.09" fill="none" stroke="#ff44ff" stroke-width="1.25" stroke-linejoin="round"/>
<rect x="200.1" y="84.57" width="2.2" height="2.2" fill="#ff44ff"/>
<rect x="204.07" y="83.54" width="2.2" height="2.2" fill="#ff44ff"/>
<rect x="208.05" y="83.88" width="2.2" height="2.2" fill="#ff44ff"/>
<rect x="216" y="85.93" width="2.2" height="2.2" fill="#ff44ff"/>
<rect x="231.9" y="96.17" width="2.2" height="2.2" fill="#ff44ff"/>
<rect x="263.7" y="116.99" width="2.2" height="2.2" fill="#ff44ff"/>
<polyline points="201.2,85.67 205.17,84.3 209.15,84.64 217.1,86.35 233,95.22 264.8,117.75" fill="none" stroke="#8a1a9a" stroke-width="1.25" stroke-linejoin="round"/>
<rect x="200.1" y="84.57" width="2.2" height="2.2" fill="#8a1a9a"/>
<rect x="204.07" y="83.2" width="2.2" height="2.2" fill="#8a1a9a"/>
<rect x="208.05" y="83.54" width="2.2" height="2.2" fill="#8a1a9a"/>
<rect x="216" y="85.25" width="2.2" height="2.2" fill="#8a1a9a"/>
<rect x="231.9" y="94.12" width="2.2" height="2.2" fill="#8a1a9a"/>
<rect x="263.7" y="116.65" width="2.2" height="2.2" fill="#8a1a9a"/>
<polyline points="201.2,85.67 205.17,81.91 209.15,83.62 217.1,85.67 233,93.52 264.8,117.41" fill="none" stroke="#3ef0f0" stroke-width="1.25" stroke-linejoin="round"/>
<rect x="200.1" y="84.57" width="2.2" height="2.2" fill="#3ef0f0"/>
<rect x="204.07" y="80.81" width="2.2" height="2.2" fill="#3ef0f0"/>
<rect x="208.05" y="82.52" width="2.2" height="2.2" fill="#3ef0f0"/>
<rect x="216" y="84.57" width="2.2" height="2.2" fill="#3ef0f0"/>
<rect x="231.9" y="92.42" width="2.2" height="2.2" fill="#3ef0f0"/>
<rect x="263.7" y="116.31" width="2.2" height="2.2" fill="#3ef0f0"/>
<polyline points="201.2,85.67 205.17,83.62 209.15,83.28 217.1,84.98 233,92.83 264.8,116.9" fill="none" stroke="#1a3cff" stroke-width="1.25" stroke-linejoin="round"/>
<rect x="200.1" y="84.57" width="2.2" height="2.2" fill="#1a3cff"/>
<rect x="204.07" y="82.52" width="2.2" height="2.2" fill="#1a3cff"/>
<rect x="208.05" y="82.18" width="2.2" height="2.2" fill="#1a3cff"/>
<rect x="216" y="83.88" width="2.2" height="2.2" fill="#1a3cff"/>
<rect x="231.9" y="91.73" width="2.2" height="2.2" fill="#1a3cff"/>
<rect x="263.7" y="115.8" width="2.2" height="2.2" fill="#1a3cff"/>
<line x1="205.17" y1="83.79" x2="205.17" y2="81.74" stroke="#222" stroke-width="0.7" />
<line x1="203.77" y1="81.74" x2="206.57" y2="81.74" stroke="#222" stroke-width="0.8" />
<line x1="203.77" y1="83.79" x2="206.57" y2="83.79" stroke="#222" stroke-width="0.8" />
<line x1="209.15" y1="83.45" x2="209.15" y2="81.4" stroke="#222" stroke-width="0.7" />
<line x1="207.75" y1="81.4" x2="210.55" y2="81.4" stroke="#222" stroke-width="0.8" />
<line x1="207.75" y1="83.45" x2="210.55" y2="83.45" stroke="#222" stroke-width="0.8" />
<line x1="217.1" y1="85.84" x2="217.1" y2="83.11" stroke="#222" stroke-width="0.7" />
<line x1="215.7" y1="83.11" x2="218.5" y2="83.11" stroke="#222" stroke-width="0.8" />
<line x1="215.7" y1="85.84" x2="218.5" y2="85.84" stroke="#222" stroke-width="0.8" />
<line x1="233" y1="94.3" x2="233" y2="82.7" stroke="#222" stroke-width="0.7" />
<line x1="231.6" y1="82.7" x2="234.4" y2="82.7" stroke="#222" stroke-width="0.8" />
<line x1="231.6" y1="94.3" x2="234.4" y2="94.3" stroke="#222" stroke-width="0.8" />
<line x1="264.8" y1="98.57" x2="264.8" y2="87.65" stroke="#222" stroke-width="0.7" />
<line x1="263.4" y1="87.65" x2="266.2" y2="87.65" stroke="#222" stroke-width="0.8" />
<line x1="263.4" y1="98.57" x2="266.2" y2="98.57" stroke="#222" stroke-width="0.8" />
<polyline points="201.2,85.67 205.17,82.77 209.15,82.42 217.1,84.47 233,88.5 264.8,93.11" fill="none" stroke="#000" stroke-width="0.95" stroke-linejoin="round"/>
<circle cx="201.2" cy="85.67" r="1.2" fill="#000"/>
<circle cx="205.17" cy="82.77" r="1.2" fill="#000"/>
<circle cx="209.15" cy="82.42" r="1.2" fill="#000"/>
<circle cx="217.1" cy="84.47" r="1.2" fill="#000"/>
<circle cx="233" cy="88.5" r="1.2" fill="#000"/>
<circle cx="264.8" cy="93.11" r="1.2" fill="#000"/>
<polyline points="267.6,93.11 270.6,93.11 270.6,117.21 267.6,117.21" fill="none" stroke="#222" stroke-width="0.9"/>
<text x="271.2" y="106.46" font-size="5.0" text-anchor="start" font-weight="normal" fill="#000" >****</text>
<text x="330.6" y="64.9" font-size="6.8" text-anchor="middle" font-weight="normal" fill="#000" >MKN1</text>
<line x1="291.6" y1="119.8" x2="291.6" y2="68.6" stroke="#111" stroke-width="1.05" />
<line x1="289.6" y1="119.8" x2="291.6" y2="119.8" stroke="#000" stroke-width="0.8" />
<line x1="289.6" y1="102.73" x2="291.6" y2="102.73" stroke="#000" stroke-width="0.8" />
<line x1="289.6" y1="85.67" x2="291.6" y2="85.67" stroke="#000" stroke-width="0.8" />
<line x1="289.6" y1="68.6" x2="291.6" y2="68.6" stroke="#000" stroke-width="0.8" />
<line x1="291.6" y1="119.8" x2="371.6" y2="119.8" stroke="#111" stroke-width="1.05" />
<line x1="291.6" y1="119.8" x2="291.6" y2="121.8" stroke="#000" stroke-width="0.8" />
<text x="291.6" y="129.7" font-size="6.1" text-anchor="middle" font-weight="normal" fill="#000" >0</text>
<line x1="307.5" y1="119.8" x2="307.5" y2="121.8" stroke="#000" stroke-width="0.8" />
<text x="307.5" y="129.7" font-size="6.1" text-anchor="middle" font-weight="normal" fill="#000" >0.5</text>
<line x1="323.4" y1="119.8" x2="323.4" y2="121.8" stroke="#000" stroke-width="0.8" />
<text x="323.4" y="129.7" font-size="6.1" text-anchor="middle" font-weight="normal" fill="#000" >1.0</text>
<line x1="339.3" y1="119.8" x2="339.3" y2="121.8" stroke="#000" stroke-width="0.8" />
<text x="339.3" y="129.7" font-size="6.1" text-anchor="middle" font-weight="normal" fill="#000" >1.5</text>
<line x1="355.2" y1="119.8" x2="355.2" y2="121.8" stroke="#000" stroke-width="0.8" />
<text x="355.2" y="129.7" font-size="6.1" text-anchor="middle" font-weight="normal" fill="#000" >2.0</text>
<line x1="371.1" y1="119.8" x2="371.1" y2="121.8" stroke="#000" stroke-width="0.8" />
<text x="371.1" y="129.7" font-size="6.1" text-anchor="middle" font-weight="normal" fill="#000" >2.5</text>
<text x="332.6" y="137.7" font-size="6.2" text-anchor="middle" font-weight="normal" fill="#000" >Concentration (μM)</text>
<polyline points="291.6,85.67 295.58,82.94 299.55,82.25 307.5,86.35 323.4,103.42 355.2,116.39" fill="none" stroke="#ff2a10" stroke-width="1.25" stroke-linejoin="round"/>
<rect x="290.5" y="84.57" width="2.2" height="2.2" fill="#ff2a10"/>
<rect x="294.48" y="81.84" width="2.2" height="2.2" fill="#ff2a10"/>
<rect x="298.45" y="81.15" width="2.2" height="2.2" fill="#ff2a10"/>
<rect x="306.4" y="85.25" width="2.2" height="2.2" fill="#ff2a10"/>
<rect x="322.3" y="102.32" width="2.2" height="2.2" fill="#ff2a10"/>
<rect x="354.1" y="115.29" width="2.2" height="2.2" fill="#ff2a10"/>
<polyline points="291.6,85.67 295.58,82.94 299.55,82.94 307.5,86.35 323.4,103.42 355.2,116.22" fill="none" stroke="#ff9a1a" stroke-width="1.25" stroke-linejoin="round"/>
<rect x="290.5" y="84.57" width="2.2" height="2.2" fill="#ff9a1a"/>
<rect x="294.48" y="81.84" width="2.2" height="2.2" fill="#ff9a1a"/>
<rect x="298.45" y="81.84" width="2.2" height="2.2" fill="#ff9a1a"/>
<rect x="306.4" y="85.25" width="2.2" height="2.2" fill="#ff9a1a"/>
<rect x="322.3" y="102.32" width="2.2" height="2.2" fill="#ff9a1a"/>
<rect x="354.1" y="115.12" width="2.2" height="2.2" fill="#ff9a1a"/>
<polyline points="291.6,85.67 295.58,82.25 299.55,82.25 307.5,85.67 323.4,102.73 355.2,116.22" fill="none" stroke="#a8743c" stroke-width="1.25" stroke-linejoin="round"/>
<rect x="290.5" y="84.57" width="2.2" height="2.2" fill="#a8743c"/>
<rect x="294.48" y="81.15" width="2.2" height="2.2" fill="#a8743c"/>
<rect x="298.45" y="81.15" width="2.2" height="2.2" fill="#a8743c"/>
<rect x="306.4" y="84.57" width="2.2" height="2.2" fill="#a8743c"/>
<rect x="322.3" y="101.63" width="2.2" height="2.2" fill="#a8743c"/>
<rect x="354.1" y="115.12" width="2.2" height="2.2" fill="#a8743c"/>
<polyline points="291.6,85.67 295.58,81.57 299.55,79.52 307.5,82.25 323.4,104.44 355.2,116.39" fill="none" stroke="#ff44ff" stroke-width="1.25" stroke-linejoin="round"/>
<rect x="290.5" y="84.57" width="2.2" height="2.2" fill="#ff44ff"/>
<rect x="294.48" y="80.47" width="2.2" height="2.2" fill="#ff44ff"/>
<rect x="298.45" y="78.42" width="2.2" height="2.2" fill="#ff44ff"/>
<rect x="306.4" y="81.15" width="2.2" height="2.2" fill="#ff44ff"/>
<rect x="322.3" y="103.34" width="2.2" height="2.2" fill="#ff44ff"/>
<rect x="354.1" y="115.29" width="2.2" height="2.2" fill="#ff44ff"/>
<polyline points="291.6,85.67 295.58,80.21 299.55,77.82 307.5,79.86 323.4,101.37 355.2,116.05" fill="none" stroke="#8a1a9a" stroke-width="1.25" stroke-linejoin="round"/>
<rect x="290.5" y="84.57" width="2.2" height="2.2" fill="#8a1a9a"/>
<rect x="294.48" y="79.11" width="2.2" height="2.2" fill="#8a1a9a"/>
<rect x="298.45" y="76.72" width="2.2" height="2.2" fill="#8a1a9a"/>
<rect x="306.4" y="78.76" width="2.2" height="2.2" fill="#8a1a9a"/>
<rect x="322.3" y="100.27" width="2.2" height="2.2" fill="#8a1a9a"/>
<rect x="354.1" y="114.95" width="2.2" height="2.2" fill="#8a1a9a"/>
<polyline points="291.6,85.67 295.58,83.62 299.55,82.94 307.5,85.67 323.4,102.73 355.2,116.22" fill="none" stroke="#3ef0f0" stroke-width="1.25" stroke-linejoin="round"/>
<rect x="290.5" y="84.57" width="2.2" height="2.2" fill="#3ef0f0"/>
<rect x="294.48" y="82.52" width="2.2" height="2.2" fill="#3ef0f0"/>
<rect x="298.45" y="81.84" width="2.2" height="2.2" fill="#3ef0f0"/>
<rect x="306.4" y="84.57" width="2.2" height="2.2" fill="#3ef0f0"/>
<rect x="322.3" y="101.63" width="2.2" height="2.2" fill="#3ef0f0"/>
<rect x="354.1" y="115.12" width="2.2" height="2.2" fill="#3ef0f0"/>
<polyline points="291.6,85.67 295.58,82.25 299.55,82.25 307.5,84.98 323.4,102.05 355.2,115.98" fill="none" stroke="#1a3cff" stroke-width="1.25" stroke-linejoin="round"/>
<rect x="290.5" y="84.57" width="2.2" height="2.2" fill="#1a3cff"/>
<rect x="294.48" y="81.15" width="2.2" height="2.2" fill="#1a3cff"/>
<rect x="298.45" y="81.15" width="2.2" height="2.2" fill="#1a3cff"/>
<rect x="306.4" y="83.88" width="2.2" height="2.2" fill="#1a3cff"/>
<rect x="322.3" y="100.95" width="2.2" height="2.2" fill="#1a3cff"/>
<rect x="354.1" y="114.88" width="2.2" height="2.2" fill="#1a3cff"/>
<line x1="295.58" y1="82.59" x2="295.58" y2="80.55" stroke="#222" stroke-width="0.7" />
<line x1="294.18" y1="80.55" x2="296.98" y2="80.55" stroke="#222" stroke-width="0.8" />
<line x1="294.18" y1="82.59" x2="296.98" y2="82.59" stroke="#222" stroke-width="0.8" />
<line x1="299.55" y1="81.23" x2="299.55" y2="79.18" stroke="#222" stroke-width="0.7" />
<line x1="298.15" y1="79.18" x2="300.95" y2="79.18" stroke="#222" stroke-width="0.8" />
<line x1="298.15" y1="81.23" x2="300.95" y2="81.23" stroke="#222" stroke-width="0.8" />
<line x1="307.5" y1="85.67" x2="307.5" y2="83.62" stroke="#222" stroke-width="0.7" />
<line x1="306.1" y1="83.62" x2="308.9" y2="83.62" stroke="#222" stroke-width="0.8" />
<line x1="306.1" y1="85.67" x2="308.9" y2="85.67" stroke="#222" stroke-width="0.8" />
<line x1="323.4" y1="97.27" x2="323.4" y2="82.94" stroke="#222" stroke-width="0.7" />
<line x1="322" y1="82.94" x2="324.8" y2="82.94" stroke="#222" stroke-width="0.8" />
<line x1="322" y1="97.27" x2="324.8" y2="97.27" stroke="#222" stroke-width="0.8" />
<line x1="355.2" y1="100.92" x2="355.2" y2="93.07" stroke="#222" stroke-width="0.7" />
<line x1="353.8" y1="93.07" x2="356.6" y2="93.07" stroke="#222" stroke-width="0.8" />
<line x1="353.8" y1="100.92" x2="356.6" y2="100.92" stroke="#222" stroke-width="0.8" />
<polyline points="291.6,85.67 295.58,81.57 299.55,80.21 307.5,84.64 323.4,90.1 355.2,97" fill="none" stroke="#000" stroke-width="0.95" stroke-linejoin="round"/>
<circle cx="291.6" cy="85.67" r="1.2" fill="#000"/>
<circle cx="295.58" cy="81.57" r="1.2" fill="#000"/>
<circle cx="299.55" cy="80.21" r="1.2" fill="#000"/>
<circle cx="307.5" cy="84.64" r="1.2" fill="#000"/>
<circle cx="323.4" cy="90.1" r="1.2" fill="#000"/>
<circle cx="355.2" cy="97" r="1.2" fill="#000"/>
<polyline points="358,97 361,97 361,116.21 358,116.21" fill="none" stroke="#222" stroke-width="0.9"/>
<text x="361.6" y="108.1" font-size="5.0" text-anchor="start" font-weight="normal" fill="#000" >****</text>
<text x="62.6" y="161.6" font-size="6.8" text-anchor="middle" font-weight="normal" fill="#000" >SNU601</text>
<line x1="21.4" y1="219.1" x2="21.4" y2="167.1" stroke="#111" stroke-width="1.05" />
<line x1="19.4" y1="219.1" x2="21.4" y2="219.1" stroke="#000" stroke-width="0.8" />
<line x1="19.4" y1="201.77" x2="21.4" y2="201.77" stroke="#000" stroke-width="0.8" />
<line x1="19.4" y1="184.43" x2="21.4" y2="184.43" stroke="#000" stroke-width="0.8" />
<line x1="19.4" y1="167.1" x2="21.4" y2="167.1" stroke="#000" stroke-width="0.8" />
<line x1="21.4" y1="219.1" x2="101.4" y2="219.1" stroke="#111" stroke-width="1.05" />
<line x1="21.4" y1="219.1" x2="21.4" y2="221.1" stroke="#000" stroke-width="0.8" />
<text x="21.4" y="229" font-size="6.1" text-anchor="middle" font-weight="normal" fill="#000" >0</text>
<line x1="37.3" y1="219.1" x2="37.3" y2="221.1" stroke="#000" stroke-width="0.8" />
<text x="37.3" y="229" font-size="6.1" text-anchor="middle" font-weight="normal" fill="#000" >0.5</text>
<line x1="53.2" y1="219.1" x2="53.2" y2="221.1" stroke="#000" stroke-width="0.8" />
<text x="53.2" y="229" font-size="6.1" text-anchor="middle" font-weight="normal" fill="#000" >1.0</text>
<line x1="69.1" y1="219.1" x2="69.1" y2="221.1" stroke="#000" stroke-width="0.8" />
<text x="69.1" y="229" font-size="6.1" text-anchor="middle" font-weight="normal" fill="#000" >1.5</text>
<line x1="85" y1="219.1" x2="85" y2="221.1" stroke="#000" stroke-width="0.8" />
<text x="85" y="229" font-size="6.1" text-anchor="middle" font-weight="normal" fill="#000" >2.0</text>
<line x1="100.9" y1="219.1" x2="100.9" y2="221.1" stroke="#000" stroke-width="0.8" />
<text x="100.9" y="229" font-size="6.1" text-anchor="middle" font-weight="normal" fill="#000" >2.5</text>
<text x="61.1" y="237" font-size="6.2" text-anchor="middle" font-weight="normal" fill="#000" >Concentration (μM)</text>
<text x="18.2" y="221.3" font-size="6.1" text-anchor="end" font-weight="normal" fill="#000" >0</text>
<text x="18.2" y="203.97" font-size="6.1" text-anchor="end" font-weight="normal" fill="#000" >50</text>
<text x="18.2" y="186.63" font-size="6.1" text-anchor="end" font-weight="normal" fill="#000" >100</text>
<text x="18.2" y="169.3" font-size="6.1" text-anchor="end" font-weight="normal" fill="#000" >150</text>
<text transform="translate(6.2,192.8) rotate(-90)" font-size="6.1" text-anchor="middle">Cell viability (%)</text>
<line x1="25.38" y1="185.82" x2="25.38" y2="180.27" stroke="#ff2a10" stroke-width="0.5" />
<line x1="24.07" y1="180.27" x2="26.68" y2="180.27" stroke="#ff2a10" stroke-width="0.9" />
<line x1="24.07" y1="185.82" x2="26.68" y2="185.82" stroke="#ff2a10" stroke-width="0.9" />
<line x1="29.35" y1="185.13" x2="29.35" y2="179.58" stroke="#ff2a10" stroke-width="0.5" />
<line x1="28.05" y1="179.58" x2="30.65" y2="179.58" stroke="#ff2a10" stroke-width="0.9" />
<line x1="28.05" y1="185.13" x2="30.65" y2="185.13" stroke="#ff2a10" stroke-width="0.9" />
<line x1="37.3" y1="184.43" x2="37.3" y2="178.89" stroke="#ff2a10" stroke-width="0.5" />
<line x1="36" y1="178.89" x2="38.6" y2="178.89" stroke="#ff2a10" stroke-width="0.9" />
<line x1="36" y1="184.43" x2="38.6" y2="184.43" stroke="#ff2a10" stroke-width="0.9" />
<line x1="53.2" y1="196.91" x2="53.2" y2="185.82" stroke="#ff2a10" stroke-width="0.5" />
<line x1="51.9" y1="185.82" x2="54.5" y2="185.82" stroke="#ff2a10" stroke-width="0.9" />
<line x1="51.9" y1="196.91" x2="54.5" y2="196.91" stroke="#ff2a10" stroke-width="0.9" />
<line x1="85" y1="205.58" x2="85" y2="203.5" stroke="#ff2a10" stroke-width="0.5" />
<line x1="83.7" y1="203.5" x2="86.3" y2="203.5" stroke="#ff2a10" stroke-width="0.9" />
<line x1="83.7" y1="205.58" x2="86.3" y2="205.58" stroke="#ff2a10" stroke-width="0.9" />
<line x1="25.38" y1="186.51" x2="25.38" y2="180.97" stroke="#ff44ff" stroke-width="0.5" />
<line x1="24.07" y1="180.97" x2="26.68" y2="180.97" stroke="#ff44ff" stroke-width="0.9" />
<line x1="24.07" y1="186.51" x2="26.68" y2="186.51" stroke="#ff44ff" stroke-width="0.9" />
<line x1="29.35" y1="187.21" x2="29.35" y2="181.66" stroke="#ff44ff" stroke-width="0.5" />
<line x1="28.05" y1="181.66" x2="30.65" y2="181.66" stroke="#ff44ff" stroke-width="0.9" />
<line x1="28.05" y1="187.21" x2="30.65" y2="187.21" stroke="#ff44ff" stroke-width="0.9" />
<line x1="37.3" y1="183.74" x2="37.3" y2="176.81" stroke="#ff44ff" stroke-width="0.5" />
<line x1="36" y1="176.81" x2="38.6" y2="176.81" stroke="#ff44ff" stroke-width="0.9" />
<line x1="36" y1="183.74" x2="38.6" y2="183.74" stroke="#ff44ff" stroke-width="0.9" />
<line x1="53.2" y1="194.83" x2="53.2" y2="187.9" stroke="#ff44ff" stroke-width="0.5" />
<line x1="51.9" y1="187.9" x2="54.5" y2="187.9" stroke="#ff44ff" stroke-width="0.9" />
<line x1="51.9" y1="194.83" x2="54.5" y2="194.83" stroke="#ff44ff" stroke-width="0.9" />
<line x1="85" y1="205.23" x2="85" y2="203.15" stroke="#ff44ff" stroke-width="0.5" />
<line x1="83.7" y1="203.15" x2="86.3" y2="203.15" stroke="#ff44ff" stroke-width="0.9" />
<line x1="83.7" y1="205.23" x2="86.3" y2="205.23" stroke="#ff44ff" stroke-width="0.9" />
<line x1="25.38" y1="183.05" x2="25.38" y2="178.89" stroke="#3ef0f0" stroke-width="0.5" />
<line x1="24.07" y1="178.89" x2="26.68" y2="178.89" stroke="#3ef0f0" stroke-width="0.9" />
<line x1="24.07" y1="183.05" x2="26.68" y2="183.05" stroke="#3ef0f0" stroke-width="0.9" />
<line x1="29.35" y1="183.05" x2="29.35" y2="178.89" stroke="#3ef0f0" stroke-width="0.5" />
<line x1="28.05" y1="178.89" x2="30.65" y2="178.89" stroke="#3ef0f0" stroke-width="0.9" />
<line x1="28.05" y1="183.05" x2="30.65" y2="183.05" stroke="#3ef0f0" stroke-width="0.9" />
<line x1="37.3" y1="181.66" x2="37.3" y2="177.5" stroke="#3ef0f0" stroke-width="0.5" />
<line x1="36" y1="177.5" x2="38.6" y2="177.5" stroke="#3ef0f0" stroke-width="0.9" />
<line x1="36" y1="181.66" x2="38.6" y2="181.66" stroke="#3ef0f0" stroke-width="0.9" />
<line x1="53.2" y1="192.06" x2="53.2" y2="186.51" stroke="#3ef0f0" stroke-width="0.5" />
<line x1="51.9" y1="186.51" x2="54.5" y2="186.51" stroke="#3ef0f0" stroke-width="0.9" />
<line x1="51.9" y1="192.06" x2="54.5" y2="192.06" stroke="#3ef0f0" stroke-width="0.9" />
<line x1="85" y1="204.89" x2="85" y2="202.81" stroke="#3ef0f0" stroke-width="0.5" />
<line x1="83.7" y1="202.81" x2="86.3" y2="202.81" stroke="#3ef0f0" stroke-width="0.9" />
<line x1="83.7" y1="204.89" x2="86.3" y2="204.89" stroke="#3ef0f0" stroke-width="0.9" />
<polyline points="21.4,184.43 25.38,183.05 29.35,182.35 37.3,181.66 53.2,191.37 85,204.54" fill="none" stroke="#ff2a10" stroke-width="1.25" stroke-linejoin="round"/>
<rect x="20.3" y="183.33" width="2.2" height="2.2" fill="#ff2a10"/>
<rect x="24.27" y="181.95" width="2.2" height="2.2" fill="#ff2a10"/>
<rect x="28.25" y="181.25" width="2.2" height="2.2" fill="#ff2a10"/>
<rect x="36.2" y="180.56" width="2.2" height="2.2" fill="#ff2a10"/>
<rect x="52.1" y="190.27" width="2.2" height="2.2" fill="#ff2a10"/>
<rect x="83.9" y="203.44" width="2.2" height="2.2" fill="#ff2a10"/>
<polyline points="21.4,184.43 25.38,183.05 29.35,182.35 37.3,181.66 53.2,192.06 85,204.54" fill="none" stroke="#ff9a1a" stroke-width="1.25" stroke-linejoin="round"/>
<rect x="20.3" y="183.33" width="2.2" height="2.2" fill="#ff9a1a"/>
<rect x="24.27" y="181.95" width="2.2" height="2.2" fill="#ff9a1a"/>
<rect x="28.25" y="181.25" width="2.2" height="2.2" fill="#ff9a1a"/>
<rect x="36.2" y="180.56" width="2.2" height="2.2" fill="#ff9a1a"/>
<rect x="52.1" y="190.96" width="2.2" height="2.2" fill="#ff9a1a"/>
<rect x="83.9" y="203.44" width="2.2" height="2.2" fill="#ff9a1a"/>
<polyline points="21.4,184.43 25.38,182.35 29.35,181.66 37.3,180.97 53.2,190.67 85,204.19" fill="none" stroke="#a8743c" stroke-width="1.25" stroke-linejoin="round"/>
<rect x="20.3" y="183.33" width="2.2" height="2.2" fill="#a8743c"/>
<rect x="24.27" y="181.25" width="2.2" height="2.2" fill="#a8743c"/>
<rect x="28.25" y="180.56" width="2.2" height="2.2" fill="#a8743c"/>
<rect x="36.2" y="179.87" width="2.2" height="2.2" fill="#a8743c"/>
<rect x="52.1" y="189.57" width="2.2" height="2.2" fill="#a8743c"/>
<rect x="83.9" y="203.09" width="2.2" height="2.2" fill="#a8743c"/>
<polyline points="21.4,184.43 25.38,183.74 29.35,184.43 37.3,180.27 53.2,191.37 85,204.19" fill="none" stroke="#ff44ff" stroke-width="1.25" stroke-linejoin="round"/>
<rect x="20.3" y="183.33" width="2.2" height="2.2" fill="#ff44ff"/>
<rect x="24.27" y="182.64" width="2.2" height="2.2" fill="#ff44ff"/>
<rect x="28.25" y="183.33" width="2.2" height="2.2" fill="#ff44ff"/>
<rect x="36.2" y="179.17" width="2.2" height="2.2" fill="#ff44ff"/>
<rect x="52.1" y="190.27" width="2.2" height="2.2" fill="#ff44ff"/>
<rect x="83.9" y="203.09" width="2.2" height="2.2" fill="#ff44ff"/>
<polyline points="21.4,184.43 25.38,181.66 29.35,180.97 37.3,177.5 53.2,189.98 85,210.78" fill="none" stroke="#8a1a9a" stroke-width="1.25" stroke-linejoin="round"/>
<rect x="20.3" y="183.33" width="2.2" height="2.2" fill="#8a1a9a"/>
<rect x="24.27" y="180.56" width="2.2" height="2.2" fill="#8a1a9a"/>
<rect x="28.25" y="179.87" width="2.2" height="2.2" fill="#8a1a9a"/>
<rect x="36.2" y="176.4" width="2.2" height="2.2" fill="#8a1a9a"/>
<rect x="52.1" y="188.88" width="2.2" height="2.2" fill="#8a1a9a"/>
<rect x="83.9" y="209.68" width="2.2" height="2.2" fill="#8a1a9a"/>
<polyline points="21.4,184.43 25.38,180.97 29.35,180.97 37.3,179.58 53.2,189.29 85,203.85" fill="none" stroke="#3ef0f0" stroke-width="1.25" stroke-linejoin="round"/>
<rect x="20.3" y="183.33" width="2.2" height="2.2" fill="#3ef0f0"/>
<rect x="24.27" y="179.87" width="2.2" height="2.2" fill="#3ef0f0"/>
<rect x="28.25" y="179.87" width="2.2" height="2.2" fill="#3ef0f0"/>
<rect x="36.2" y="178.48" width="2.2" height="2.2" fill="#3ef0f0"/>
<rect x="52.1" y="188.19" width="2.2" height="2.2" fill="#3ef0f0"/>
<rect x="83.9" y="202.75" width="2.2" height="2.2" fill="#3ef0f0"/>
<polyline points="21.4,184.43 25.38,178.19 29.35,177.5 37.3,175.77 53.2,186.17 85,202.63" fill="none" stroke="#1a3cff" stroke-width="1.25" stroke-linejoin="round"/>
<rect x="20.3" y="183.33" width="2.2" height="2.2" fill="#1a3cff"/>
<rect x="24.27" y="177.09" width="2.2" height="2.2" fill="#1a3cff"/>
<rect x="28.25" y="176.4" width="2.2" height="2.2" fill="#1a3cff"/>
<rect x="36.2" y="174.67" width="2.2" height="2.2" fill="#1a3cff"/>
<rect x="52.1" y="185.07" width="2.2" height="2.2" fill="#1a3cff"/>
<rect x="83.9" y="201.53" width="2.2" height="2.2" fill="#1a3cff"/>
<line x1="25.38" y1="181.45" x2="25.38" y2="173.83" stroke="#7a7a7a" stroke-width="1.0" />
<line x1="23.88" y1="173.83" x2="26.88" y2="173.83" stroke="#333" stroke-width="0.9" />
<line x1="23.88" y1="181.45" x2="26.88" y2="181.45" stroke="#333" stroke-width="0.9" />
<line x1="29.35" y1="181.45" x2="29.35" y2="173.83" stroke="#7a7a7a" stroke-width="1.0" />
<line x1="27.85" y1="173.83" x2="30.85" y2="173.83" stroke="#333" stroke-width="0.9" />
<line x1="27.85" y1="181.45" x2="30.85" y2="181.45" stroke="#333" stroke-width="0.9" />
<line x1="37.3" y1="179.58" x2="37.3" y2="170.57" stroke="#7a7a7a" stroke-width="1.0" />
<line x1="35.8" y1="170.57" x2="38.8" y2="170.57" stroke="#333" stroke-width="0.9" />
<line x1="35.8" y1="179.58" x2="38.8" y2="179.58" stroke="#333" stroke-width="0.9" />
<line x1="53.2" y1="185.61" x2="53.2" y2="169.67" stroke="#7a7a7a" stroke-width="1.0" />
<line x1="51.7" y1="169.67" x2="54.7" y2="169.67" stroke="#333" stroke-width="0.9" />
<line x1="51.7" y1="185.61" x2="54.7" y2="185.61" stroke="#333" stroke-width="0.9" />
<line x1="85" y1="191.37" x2="85" y2="185.13" stroke="#7a7a7a" stroke-width="1.0" />
<line x1="83.5" y1="185.13" x2="86.5" y2="185.13" stroke="#333" stroke-width="0.9" />
<line x1="83.5" y1="191.37" x2="86.5" y2="191.37" stroke="#333" stroke-width="0.9" />
<polyline points="21.4,184.43 25.38,177.64 29.35,177.64 37.3,175.07 53.2,177.64 85,188.25" fill="none" stroke="#000" stroke-width="1.3" stroke-linejoin="round"/>
<circle cx="21.4" cy="184.43" r="1.4" fill="#000"/>
<circle cx="25.38" cy="177.64" r="1.4" fill="#000"/>
<circle cx="29.35" cy="177.64" r="1.4" fill="#000"/>
<circle cx="37.3" cy="175.07" r="1.4" fill="#000"/>
<circle cx="53.2" cy="177.64" r="1.4" fill="#000"/>
<circle cx="85" cy="188.25" r="1.4" fill="#000"/>
<polyline points="87.8,188.25 90.8,188.25 90.8,204.96 87.8,204.96" fill="none" stroke="#222" stroke-width="0.9"/>
<text x="91.4" y="198.3" font-size="5.0" text-anchor="start" font-weight="normal" fill="#000" >***</text>
<text x="151.8" y="161.1" font-size="6.8" text-anchor="middle" font-weight="normal" fill="#000" >SNU216</text>
<line x1="111.8" y1="219.1" x2="111.8" y2="167.1" stroke="#111" stroke-width="1.05" />
<line x1="109.8" y1="219.1" x2="111.8" y2="219.1" stroke="#000" stroke-width="0.8" />
<line x1="109.8" y1="201.77" x2="111.8" y2="201.77" stroke="#000" stroke-width="0.8" />
<line x1="109.8" y1="184.43" x2="111.8" y2="184.43" stroke="#000" stroke-width="0.8" />
<line x1="109.8" y1="167.1" x2="111.8" y2="167.1" stroke="#000" stroke-width="0.8" />
<line x1="111.8" y1="219.1" x2="191.8" y2="219.1" stroke="#111" stroke-width="1.05" />
<line x1="111.8" y1="219.1" x2="111.8" y2="221.1" stroke="#000" stroke-width="0.8" />
<text x="111.8" y="229" font-size="6.1" text-anchor="middle" font-weight="normal" fill="#000" >0</text>
<line x1="127.7" y1="219.1" x2="127.7" y2="221.1" stroke="#000" stroke-width="0.8" />
<text x="127.7" y="229" font-size="6.1" text-anchor="middle" font-weight="normal" fill="#000" >0.5</text>
<line x1="143.6" y1="219.1" x2="143.6" y2="221.1" stroke="#000" stroke-width="0.8" />
<text x="143.6" y="229" font-size="6.1" text-anchor="middle" font-weight="normal" fill="#000" >1.0</text>
<line x1="159.5" y1="219.1" x2="159.5" y2="221.1" stroke="#000" stroke-width="0.8" />
<text x="159.5" y="229" font-size="6.1" text-anchor="middle" font-weight="normal" fill="#000" >1.5</text>
<line x1="175.4" y1="219.1" x2="175.4" y2="221.1" stroke="#000" stroke-width="0.8" />
<text x="175.4" y="229" font-size="6.1" text-anchor="middle" font-weight="normal" fill="#000" >2.0</text>
<line x1="191.3" y1="219.1" x2="191.3" y2="221.1" stroke="#000" stroke-width="0.8" />
<text x="191.3" y="229" font-size="6.1" text-anchor="middle" font-weight="normal" fill="#000" >2.5</text>
<text x="151.3" y="237" font-size="6.2" text-anchor="middle" font-weight="normal" fill="#000" >Concentration (μM)</text>
<line x1="115.77" y1="182.35" x2="115.77" y2="176.81" stroke="#ff2a10" stroke-width="0.5" />
<line x1="114.47" y1="176.81" x2="117.07" y2="176.81" stroke="#ff2a10" stroke-width="0.9" />
<line x1="114.47" y1="182.35" x2="117.07" y2="182.35" stroke="#ff2a10" stroke-width="0.9" />
<line x1="119.75" y1="183.05" x2="119.75" y2="177.5" stroke="#ff2a10" stroke-width="0.5" />
<line x1="118.45" y1="177.5" x2="121.05" y2="177.5" stroke="#ff2a10" stroke-width="0.9" />
<line x1="118.45" y1="183.05" x2="121.05" y2="183.05" stroke="#ff2a10" stroke-width="0.9" />
<line x1="127.7" y1="180.97" x2="127.7" y2="175.42" stroke="#ff2a10" stroke-width="0.5" />
<line x1="126.4" y1="175.42" x2="129" y2="175.42" stroke="#ff2a10" stroke-width="0.9" />
<line x1="126.4" y1="180.97" x2="129" y2="180.97" stroke="#ff2a10" stroke-width="0.9" />
<line x1="143.6" y1="205.06" x2="143.6" y2="188.42" stroke="#ff2a10" stroke-width="0.5" />
<line x1="142.3" y1="188.42" x2="144.9" y2="188.42" stroke="#ff2a10" stroke-width="0.9" />
<line x1="142.3" y1="205.06" x2="144.9" y2="205.06" stroke="#ff2a10" stroke-width="0.9" />
<line x1="175.4" y1="211.13" x2="175.4" y2="208.35" stroke="#ff2a10" stroke-width="0.5" />
<line x1="174.1" y1="208.35" x2="176.7" y2="208.35" stroke="#ff2a10" stroke-width="0.9" />
<line x1="174.1" y1="211.13" x2="176.7" y2="211.13" stroke="#ff2a10" stroke-width="0.9" />
<line x1="115.77" y1="188.25" x2="115.77" y2="177.85" stroke="#ff44ff" stroke-width="0.5" />
<line x1="114.47" y1="177.85" x2="117.07" y2="177.85" stroke="#ff44ff" stroke-width="0.9" />
<line x1="114.47" y1="188.25" x2="117.07" y2="188.25" stroke="#ff44ff" stroke-width="0.9" />
<line x1="119.75" y1="184.43" x2="119.75" y2="180.27" stroke="#ff44ff" stroke-width="0.5" />
<line x1="118.45" y1="180.27" x2="121.05" y2="180.27" stroke="#ff44ff" stroke-width="0.9" />
<line x1="118.45" y1="184.43" x2="121.05" y2="184.43" stroke="#ff44ff" stroke-width="0.9" />
<line x1="127.7" y1="181.66" x2="127.7" y2="177.5" stroke="#ff44ff" stroke-width="0.5" />
<line x1="126.4" y1="177.5" x2="129" y2="177.5" stroke="#ff44ff" stroke-width="0.9" />
<line x1="126.4" y1="181.66" x2="129" y2="181.66" stroke="#ff44ff" stroke-width="0.9" />
<line x1="143.6" y1="194.14" x2="143.6" y2="189.98" stroke="#ff44ff" stroke-width="0.5" />
<line x1="142.3" y1="189.98" x2="144.9" y2="189.98" stroke="#ff44ff" stroke-width="0.9" />
<line x1="142.3" y1="194.14" x2="144.9" y2="194.14" stroke="#ff44ff" stroke-width="0.9" />
<line x1="175.4" y1="213.21" x2="175.4" y2="209.74" stroke="#ff44ff" stroke-width="0.5" />
<line x1="174.1" y1="209.74" x2="176.7" y2="209.74" stroke="#ff44ff" stroke-width="0.9" />
<line x1="174.1" y1="213.21" x2="176.7" y2="213.21" stroke="#ff44ff" stroke-width="0.9" />
<polyline points="111.8,184.43 115.77,179.58 119.75,180.27 127.7,178.19 143.6,196.74 175.4,209.74" fill="none" stroke="#ff2a10" stroke-width="1.25" stroke-linejoin="round"/>
<rect x="110.7" y="183.33" width="2.2" height="2.2" fill="#ff2a10"/>
<rect x="114.67" y="178.48" width="2.2" height="2.2" fill="#ff2a10"/>
<rect x="118.65" y="179.17" width="2.2" height="2.2" fill="#ff2a10"/>
<rect x="126.6" y="177.09" width="2.2" height="2.2" fill="#ff2a10"/>
<rect x="142.5" y="195.64" width="2.2" height="2.2" fill="#ff2a10"/>
<rect x="174.3" y="208.64" width="2.2" height="2.2" fill="#ff2a10"/>
<polyline points="111.8,184.43 115.77,180.27 119.75,180.27 127.7,178.19 143.6,188.59 175.4,209.39" fill="none" stroke="#ff9a1a" stroke-width="1.25" stroke-linejoin="round"/>
<rect x="110.7" y="183.33" width="2.2" height="2.2" fill="#ff9a1a"/>
<rect x="114.67" y="179.17" width="2.2" height="2.2" fill="#ff9a1a"/>
<rect x="118.65" y="179.17" width="2.2" height="2.2" fill="#ff9a1a"/>
<rect x="126.6" y="177.09" width="2.2" height="2.2" fill="#ff9a1a"/>
<rect x="142.5" y="187.49" width="2.2" height="2.2" fill="#ff9a1a"/>
<rect x="174.3" y="208.29" width="2.2" height="2.2" fill="#ff9a1a"/>
<polyline points="111.8,184.43 115.77,180.97 119.75,180.27 127.7,178.19 143.6,186.86 175.4,209.05" fill="none" stroke="#a8743c" stroke-width="1.25" stroke-linejoin="round"/>
<rect x="110.7" y="183.33" width="2.2" height="2.2" fill="#a8743c"/>
<rect x="114.67" y="179.87" width="2.2" height="2.2" fill="#a8743c"/>
<rect x="118.65" y="179.17" width="2.2" height="2.2" fill="#a8743c"/>
<rect x="126.6" y="177.09" width="2.2" height="2.2" fill="#a8743c"/>
<rect x="142.5" y="185.76" width="2.2" height="2.2" fill="#a8743c"/>
<rect x="174.3" y="207.95" width="2.2" height="2.2" fill="#a8743c"/>
<polyline points="111.8,184.43 115.77,183.05 119.75,182.35 127.7,179.58 143.6,192.06 175.4,211.47" fill="none" stroke="#ff44ff" stroke-width="1.25" stroke-linejoin="round"/>
<rect x="110.7" y="183.33" width="2.2" height="2.2" fill="#ff44ff"/>
<rect x="114.67" y="181.95" width="2.2" height="2.2" fill="#ff44ff"/>
<rect x="118.65" y="181.25" width="2.2" height="2.2" fill="#ff44ff"/>
<rect x="126.6" y="178.48" width="2.2" height="2.2" fill="#ff44ff"/>
<rect x="142.5" y="190.96" width="2.2" height="2.2" fill="#ff44ff"/>
<rect x="174.3" y="210.37" width="2.2" height="2.2" fill="#ff44ff"/>
<polyline points="111.8,184.43 115.77,181.66 119.75,181.66 127.7,178.89 143.6,192.06 175.4,210.09" fill="none" stroke="#8a1a9a" stroke-width="1.25" stroke-linejoin="round"/>
<rect x="110.7" y="183.33" width="2.2" height="2.2" fill="#8a1a9a"/>
<rect x="114.67" y="180.56" width="2.2" height="2.2" fill="#8a1a9a"/>
<rect x="118.65" y="180.56" width="2.2" height="2.2" fill="#8a1a9a"/>
<rect x="126.6" y="177.79" width="2.2" height="2.2" fill="#8a1a9a"/>
<rect x="142.5" y="190.96" width="2.2" height="2.2" fill="#8a1a9a"/>
<rect x="174.3" y="208.99" width="2.2" height="2.2" fill="#8a1a9a"/>
<polyline points="111.8,184.43 115.77,180.97 119.75,180.97 127.7,178.89 143.6,189.98 175.4,209.39" fill="none" stroke="#3ef0f0" stroke-width="1.25" stroke-linejoin="round"/>
<rect x="110.7" y="183.33" width="2.2" height="2.2" fill="#3ef0f0"/>
<rect x="114.67" y="179.87" width="2.2" height="2.2" fill="#3ef0f0"/>
<rect x="118.65" y="179.87" width="2.2" height="2.2" fill="#3ef0f0"/>
<rect x="126.6" y="177.79" width="2.2" height="2.2" fill="#3ef0f0"/>
<rect x="142.5" y="188.88" width="2.2" height="2.2" fill="#3ef0f0"/>
<rect x="174.3" y="208.29" width="2.2" height="2.2" fill="#3ef0f0"/>
<polyline points="111.8,184.43 115.77,180.27 119.75,180.97 127.7,178.19 143.6,190.67 175.4,209.15" fill="none" stroke="#1a3cff" stroke-width="1.25" stroke-linejoin="round"/>
<rect x="110.7" y="183.33" width="2.2" height="2.2" fill="#1a3cff"/>
<rect x="114.67" y="179.17" width="2.2" height="2.2" fill="#1a3cff"/>
<rect x="118.65" y="179.87" width="2.2" height="2.2" fill="#1a3cff"/>
<rect x="126.6" y="177.09" width="2.2" height="2.2" fill="#1a3cff"/>
<rect x="142.5" y="189.57" width="2.2" height="2.2" fill="#1a3cff"/>
<rect x="174.3" y="208.05" width="2.2" height="2.2" fill="#1a3cff"/>
<line x1="115.77" y1="185.33" x2="115.77" y2="165.92" stroke="#7a7a7a" stroke-width="1.0" />
<line x1="114.27" y1="165.92" x2="117.27" y2="165.92" stroke="#333" stroke-width="0.9" />
<line x1="114.27" y1="185.33" x2="117.27" y2="185.33" stroke="#333" stroke-width="0.9" />
<line x1="119.75" y1="184.78" x2="119.75" y2="165.37" stroke="#7a7a7a" stroke-width="1.0" />
<line x1="118.25" y1="165.37" x2="121.25" y2="165.37" stroke="#333" stroke-width="0.9" />
<line x1="118.25" y1="184.78" x2="121.25" y2="184.78" stroke="#333" stroke-width="0.9" />
<line x1="127.7" y1="183.39" x2="127.7" y2="166.75" stroke="#7a7a7a" stroke-width="1.0" />
<line x1="126.2" y1="166.75" x2="129.2" y2="166.75" stroke="#333" stroke-width="0.9" />
<line x1="126.2" y1="183.39" x2="129.2" y2="183.39" stroke="#333" stroke-width="0.9" />
<line x1="143.6" y1="185.47" x2="143.6" y2="163.29" stroke="#7a7a7a" stroke-width="1.0" />
<line x1="142.1" y1="163.29" x2="145.1" y2="163.29" stroke="#333" stroke-width="0.9" />
<line x1="142.1" y1="185.47" x2="145.1" y2="185.47" stroke="#333" stroke-width="0.9" />
<line x1="175.4" y1="196.05" x2="175.4" y2="175.59" stroke="#7a7a7a" stroke-width="1.0" />
<line x1="173.9" y1="175.59" x2="176.9" y2="175.59" stroke="#333" stroke-width="0.9" />
<line x1="173.9" y1="196.05" x2="176.9" y2="196.05" stroke="#333" stroke-width="0.9" />
<polyline points="111.8,184.43 115.77,175.63 119.75,175.07 127.7,175.07 143.6,174.38 175.4,185.82" fill="none" stroke="#000" stroke-width="1.3" stroke-linejoin="round"/>
<circle cx="111.8" cy="184.43" r="1.4" fill="#000"/>
<circle cx="115.77" cy="175.63" r="1.4" fill="#000"/>
<circle cx="119.75" cy="175.07" r="1.4" fill="#000"/>
<circle cx="127.7" cy="175.07" r="1.4" fill="#000"/>
<circle cx="143.6" cy="174.38" r="1.4" fill="#000"/>
<circle cx="175.4" cy="185.82" r="1.4" fill="#000"/>
<polyline points="178.2,185.82 181.2,185.82 181.2,209.75 178.2,209.75" fill="none" stroke="#222" stroke-width="0.9"/>
<text x="181.8" y="199.49" font-size="5.0" text-anchor="start" font-weight="normal" fill="#000" >***</text>
<text x="241.4" y="160.8" font-size="6.8" text-anchor="middle" font-weight="normal" fill="#000" >SNU601</text>
<line x1="201.8" y1="219.1" x2="201.8" y2="167.1" stroke="#111" stroke-width="1.05" />
<line x1="199.8" y1="219.1" x2="201.8" y2="219.1" stroke="#000" stroke-width="0.8" />
<line x1="199.8" y1="201.77" x2="201.8" y2="201.77" stroke="#000" stroke-width="0.8" />
<line x1="199.8" y1="184.43" x2="201.8" y2="184.43" stroke="#000" stroke-width="0.8" />
<line x1="199.8" y1="167.1" x2="201.8" y2="167.1" stroke="#000" stroke-width="0.8" />
<line x1="201.8" y1="219.1" x2="281.8" y2="219.1" stroke="#111" stroke-width="1.05" />
<line x1="201.8" y1="219.1" x2="201.8" y2="221.1" stroke="#000" stroke-width="0.8" />
<text x="201.8" y="229" font-size="6.1" text-anchor="middle" font-weight="normal" fill="#000" >0</text>
<line x1="217.7" y1="219.1" x2="217.7" y2="221.1" stroke="#000" stroke-width="0.8" />
<text x="217.7" y="229" font-size="6.1" text-anchor="middle" font-weight="normal" fill="#000" >0.5</text>
<line x1="233.6" y1="219.1" x2="233.6" y2="221.1" stroke="#000" stroke-width="0.8" />
<text x="233.6" y="229" font-size="6.1" text-anchor="middle" font-weight="normal" fill="#000" >1.0</text>
<line x1="249.5" y1="219.1" x2="249.5" y2="221.1" stroke="#000" stroke-width="0.8" />
<text x="249.5" y="229" font-size="6.1" text-anchor="middle" font-weight="normal" fill="#000" >1.5</text>
<line x1="265.4" y1="219.1" x2="265.4" y2="221.1" stroke="#000" stroke-width="0.8" />
<text x="265.4" y="229" font-size="6.1" text-anchor="middle" font-weight="normal" fill="#000" >2.0</text>
<line x1="281.3" y1="219.1" x2="281.3" y2="221.1" stroke="#000" stroke-width="0.8" />
<text x="281.3" y="229" font-size="6.1" text-anchor="middle" font-weight="normal" fill="#000" >2.5</text>
<text x="244.4" y="237" font-size="6.2" text-anchor="middle" font-weight="normal" fill="#000" >Concentration (μM)</text>
<line x1="205.78" y1="179.93" x2="205.78" y2="176.46" stroke="#ff2a10" stroke-width="0.5" />
<line x1="204.47" y1="176.46" x2="207.08" y2="176.46" stroke="#ff2a10" stroke-width="0.9" />
<line x1="204.47" y1="179.93" x2="207.08" y2="179.93" stroke="#ff2a10" stroke-width="0.9" />
<line x1="209.75" y1="180.45" x2="209.75" y2="173.51" stroke="#ff2a10" stroke-width="0.5" />
<line x1="208.45" y1="173.51" x2="211.05" y2="173.51" stroke="#ff2a10" stroke-width="0.9" />
<line x1="208.45" y1="180.45" x2="211.05" y2="180.45" stroke="#ff2a10" stroke-width="0.9" />
<line x1="217.7" y1="180.62" x2="217.7" y2="177.15" stroke="#ff2a10" stroke-width="0.5" />
<line x1="216.4" y1="177.15" x2="219" y2="177.15" stroke="#ff2a10" stroke-width="0.9" />
<line x1="216.4" y1="180.62" x2="219" y2="180.62" stroke="#ff2a10" stroke-width="0.9" />
<line x1="233.6" y1="195.87" x2="233.6" y2="189.63" stroke="#ff2a10" stroke-width="0.5" />
<line x1="232.3" y1="189.63" x2="234.9" y2="189.63" stroke="#ff2a10" stroke-width="0.9" />
<line x1="232.3" y1="195.87" x2="234.9" y2="195.87" stroke="#ff2a10" stroke-width="0.9" />
<line x1="265.4" y1="212.17" x2="265.4" y2="210.78" stroke="#ff2a10" stroke-width="0.5" />
<line x1="264.1" y1="210.78" x2="266.7" y2="210.78" stroke="#ff2a10" stroke-width="0.9" />
<line x1="264.1" y1="212.17" x2="266.7" y2="212.17" stroke="#ff2a10" stroke-width="0.9" />
<line x1="205.78" y1="183.74" x2="205.78" y2="180.97" stroke="#ff44ff" stroke-width="0.5" />
<line x1="204.47" y1="180.97" x2="207.08" y2="180.97" stroke="#ff44ff" stroke-width="0.9" />
<line x1="204.47" y1="183.74" x2="207.08" y2="183.74" stroke="#ff44ff" stroke-width="0.9" />
<line x1="209.75" y1="183.74" x2="209.75" y2="180.97" stroke="#ff44ff" stroke-width="0.5" />
<line x1="208.45" y1="180.97" x2="211.05" y2="180.97" stroke="#ff44ff" stroke-width="0.9" />
<line x1="208.45" y1="183.74" x2="211.05" y2="183.74" stroke="#ff44ff" stroke-width="0.9" />
<line x1="217.7" y1="183.05" x2="217.7" y2="180.27" stroke="#ff44ff" stroke-width="0.5" />
<line x1="216.4" y1="180.27" x2="219" y2="180.27" stroke="#ff44ff" stroke-width="0.9" />
<line x1="216.4" y1="183.05" x2="219" y2="183.05" stroke="#ff44ff" stroke-width="0.9" />
<line x1="233.6" y1="198.99" x2="233.6" y2="192.06" stroke="#ff44ff" stroke-width="0.5" />
<line x1="232.3" y1="192.06" x2="234.9" y2="192.06" stroke="#ff44ff" stroke-width="0.9" />
<line x1="232.3" y1="198.99" x2="234.9" y2="198.99" stroke="#ff44ff" stroke-width="0.9" />
<line x1="265.4" y1="212.51" x2="265.4" y2="211.13" stroke="#ff44ff" stroke-width="0.5" />
<line x1="264.1" y1="211.13" x2="266.7" y2="211.13" stroke="#ff44ff" stroke-width="0.9" />
<line x1="264.1" y1="212.51" x2="266.7" y2="212.51" stroke="#ff44ff" stroke-width="0.9" />
<polyline points="201.8,184.43 205.78,178.19 209.75,176.98 217.7,178.89 233.6,192.75 265.4,211.47" fill="none" stroke="#ff2a10" stroke-width="1.25" stroke-linejoin="round"/>
<rect x="200.7" y="183.33" width="2.2" height="2.2" fill="#ff2a10"/>
<rect x="204.68" y="177.09" width="2.2" height="2.2" fill="#ff2a10"/>
<rect x="208.65" y="175.88" width="2.2" height="2.2" fill="#ff2a10"/>
<rect x="216.6" y="177.79" width="2.2" height="2.2" fill="#ff2a10"/>
<rect x="232.5" y="191.65" width="2.2" height="2.2" fill="#ff2a10"/>
<rect x="264.3" y="210.37" width="2.2" height="2.2" fill="#ff2a10"/>
<polyline points="201.8,184.43 205.78,178.89 209.75,178.19 217.7,179.23 233.6,193.1 265.4,211.47" fill="none" stroke="#ff9a1a" stroke-width="1.25" stroke-linejoin="round"/>
<rect x="200.7" y="183.33" width="2.2" height="2.2" fill="#ff9a1a"/>
<rect x="204.68" y="177.79" width="2.2" height="2.2" fill="#ff9a1a"/>
<rect x="208.65" y="177.09" width="2.2" height="2.2" fill="#ff9a1a"/>
<rect x="216.6" y="178.13" width="2.2" height="2.2" fill="#ff9a1a"/>
<rect x="232.5" y="192" width="2.2" height="2.2" fill="#ff9a1a"/>
<rect x="264.3" y="210.37" width="2.2" height="2.2" fill="#ff9a1a"/>
<polyline points="201.8,184.43 205.78,179.58 209.75,178.89 217.7,179.58 233.6,193.45 265.4,211.47" fill="none" stroke="#a8743c" stroke-width="1.25" stroke-linejoin="round"/>
<rect x="200.7" y="183.33" width="2.2" height="2.2" fill="#a8743c"/>
<rect x="204.68" y="178.48" width="2.2" height="2.2" fill="#a8743c"/>
<rect x="208.65" y="177.79" width="2.2" height="2.2" fill="#a8743c"/>
<rect x="216.6" y="178.48" width="2.2" height="2.2" fill="#a8743c"/>
<rect x="232.5" y="192.35" width="2.2" height="2.2" fill="#a8743c"/>
<rect x="264.3" y="210.37" width="2.2" height="2.2" fill="#a8743c"/>
<polyline points="201.8,184.43 205.78,182.35 209.75,182.35 217.7,181.66 233.6,195.53 265.4,211.82" fill="none" stroke="#ff44ff" stroke-width="1.25" stroke-linejoin="round"/>
<rect x="200.7" y="183.33" width="2.2" height="2.2" fill="#ff44ff"/>
<rect x="204.68" y="181.25" width="2.2" height="2.2" fill="#ff44ff"/>
<rect x="208.65" y="181.25" width="2.2" height="2.2" fill="#ff44ff"/>
<rect x="216.6" y="180.56" width="2.2" height="2.2" fill="#ff44ff"/>
<rect x="232.5" y="194.43" width="2.2" height="2.2" fill="#ff44ff"/>
<rect x="264.3" y="210.72" width="2.2" height="2.2" fill="#ff44ff"/>
<polyline points="201.8,184.43 205.78,180.27 209.75,180.27 217.7,180.27 233.6,194.49 265.4,211.82" fill="none" stroke="#8a1a9a" stroke-width="1.25" stroke-linejoin="round"/>
<rect x="200.7" y="183.33" width="2.2" height="2.2" fill="#8a1a9a"/>
<rect x="204.68" y="179.17" width="2.2" height="2.2" fill="#8a1a9a"/>
<rect x="208.65" y="179.17" width="2.2" height="2.2" fill="#8a1a9a"/>
<rect x="216.6" y="179.17" width="2.2" height="2.2" fill="#8a1a9a"/>
<rect x="232.5" y="193.39" width="2.2" height="2.2" fill="#8a1a9a"/>
<rect x="264.3" y="210.72" width="2.2" height="2.2" fill="#8a1a9a"/>
<polyline points="201.8,184.43 205.78,181.66 209.75,182.01 217.7,181.66 233.6,195.53 265.4,211.82" fill="none" stroke="#3ef0f0" stroke-width="1.25" stroke-linejoin="round"/>
<rect x="200.7" y="183.33" width="2.2" height="2.2" fill="#3ef0f0"/>
<rect x="204.68" y="180.56" width="2.2" height="2.2" fill="#3ef0f0"/>
<rect x="208.65" y="180.91" width="2.2" height="2.2" fill="#3ef0f0"/>
<rect x="216.6" y="180.56" width="2.2" height="2.2" fill="#3ef0f0"/>
<rect x="232.5" y="194.43" width="2.2" height="2.2" fill="#3ef0f0"/>
<rect x="264.3" y="210.72" width="2.2" height="2.2" fill="#3ef0f0"/>
<polyline points="201.8,184.43 205.78,180.97 209.75,180.62 217.7,180.62 233.6,194.83 265.4,211.82" fill="none" stroke="#1a3cff" stroke-width="1.25" stroke-linejoin="round"/>
<rect x="200.7" y="183.33" width="2.2" height="2.2" fill="#1a3cff"/>
<rect x="204.68" y="179.87" width="2.2" height="2.2" fill="#1a3cff"/>
<rect x="208.65" y="179.52" width="2.2" height="2.2" fill="#1a3cff"/>
<rect x="216.6" y="179.52" width="2.2" height="2.2" fill="#1a3cff"/>
<rect x="232.5" y="193.73" width="2.2" height="2.2" fill="#1a3cff"/>
<rect x="264.3" y="210.72" width="2.2" height="2.2" fill="#1a3cff"/>
<line x1="205.78" y1="179.23" x2="205.78" y2="176.46" stroke="#222" stroke-width="0.7" />
<line x1="204.38" y1="176.46" x2="207.18" y2="176.46" stroke="#222" stroke-width="0.8" />
<line x1="204.38" y1="179.23" x2="207.18" y2="179.23" stroke="#222" stroke-width="0.8" />
<line x1="209.75" y1="178.3" x2="209.75" y2="175.52" stroke="#222" stroke-width="0.7" />
<line x1="208.35" y1="175.52" x2="211.15" y2="175.52" stroke="#222" stroke-width="0.8" />
<line x1="208.35" y1="178.3" x2="211.15" y2="178.3" stroke="#222" stroke-width="0.8" />
<line x1="217.7" y1="178.89" x2="217.7" y2="170.57" stroke="#222" stroke-width="0.7" />
<line x1="216.3" y1="170.57" x2="219.1" y2="170.57" stroke="#222" stroke-width="0.8" />
<line x1="216.3" y1="178.89" x2="219.1" y2="178.89" stroke="#222" stroke-width="0.8" />
<line x1="233.6" y1="180.97" x2="233.6" y2="178.89" stroke="#222" stroke-width="0.7" />
<line x1="232.2" y1="178.89" x2="235" y2="178.89" stroke="#222" stroke-width="0.8" />
<line x1="232.2" y1="180.97" x2="235" y2="180.97" stroke="#222" stroke-width="0.8" />
<line x1="265.4" y1="183.84" x2="265.4" y2="182.46" stroke="#222" stroke-width="0.7" />
<line x1="264" y1="182.46" x2="266.8" y2="182.46" stroke="#222" stroke-width="0.8" />
<line x1="264" y1="183.84" x2="266.8" y2="183.84" stroke="#222" stroke-width="0.8" />
<polyline points="201.8,184.43 205.78,177.85 209.75,176.91 217.7,174.73 233.6,179.93 265.4,183.15" fill="none" stroke="#000" stroke-width="0.95" stroke-linejoin="round"/>
<circle cx="201.8" cy="184.43" r="1.2" fill="#000"/>
<circle cx="205.78" cy="177.85" r="1.2" fill="#000"/>
<circle cx="209.75" cy="176.91" r="1.2" fill="#000"/>
<circle cx="217.7" cy="174.73" r="1.2" fill="#000"/>
<circle cx="233.6" cy="179.93" r="1.2" fill="#000"/>
<circle cx="265.4" cy="183.15" r="1.2" fill="#000"/>
<polyline points="268.2,183.15 271.2,183.15 271.2,211.67 268.2,211.67" fill="none" stroke="#222" stroke-width="0.9"/>
<text x="271.8" y="199.11" font-size="5.0" text-anchor="start" font-weight="normal" fill="#000" >****</text>
<text x="330.8" y="159.5" font-size="6.8" text-anchor="middle" font-weight="normal" fill="#000" >SNU216</text>
<line x1="291.8" y1="219.1" x2="291.8" y2="167.1" stroke="#111" stroke-width="1.05" />
<line x1="289.8" y1="219.1" x2="291.8" y2="219.1" stroke="#000" stroke-width="0.8" />
<line x1="289.8" y1="201.77" x2="291.8" y2="201.77" stroke="#000" stroke-width="0.8" />
<line x1="289.8" y1="184.43" x2="291.8" y2="184.43" stroke="#000" stroke-width="0.8" />
<line x1="289.8" y1="167.1" x2="291.8" y2="167.1" stroke="#000" stroke-width="0.8" />
<line x1="291.8" y1="219.1" x2="371.8" y2="219.1" stroke="#111" stroke-width="1.05" />
<line x1="291.8" y1="219.1" x2="291.8" y2="221.1" stroke="#000" stroke-width="0.8" />
<text x="291.8" y="229" font-size="6.1" text-anchor="middle" font-weight="normal" fill="#000" >0</text>
<line x1="307.7" y1="219.1" x2="307.7" y2="221.1" stroke="#000" stroke-width="0.8" />
<text x="307.7" y="229" font-size="6.1" text-anchor="middle" font-weight="normal" fill="#000" >0.5</text>
<line x1="323.6" y1="219.1" x2="323.6" y2="221.1" stroke="#000" stroke-width="0.8" />
<text x="323.6" y="229" font-size="6.1" text-anchor="middle" font-weight="normal" fill="#000" >1.0</text>
<line x1="339.5" y1="219.1" x2="339.5" y2="221.1" stroke="#000" stroke-width="0.8" />
<text x="339.5" y="229" font-size="6.1" text-anchor="middle" font-weight="normal" fill="#000" >1.5</text>
<line x1="355.4" y1="219.1" x2="355.4" y2="221.1" stroke="#000" stroke-width="0.8" />
<text x="355.4" y="229" font-size="6.1" text-anchor="middle" font-weight="normal" fill="#000" >2.0</text>
<line x1="371.3" y1="219.1" x2="371.3" y2="221.1" stroke="#000" stroke-width="0.8" />
<text x="371.3" y="229" font-size="6.1" text-anchor="middle" font-weight="normal" fill="#000" >2.5</text>
<text x="333" y="237" font-size="6.2" text-anchor="middle" font-weight="normal" fill="#000" >Concentration (μM)</text>
<line x1="295.78" y1="184.43" x2="295.78" y2="180.27" stroke="#ff2a10" stroke-width="0.5" />
<line x1="294.48" y1="180.27" x2="297.08" y2="180.27" stroke="#ff2a10" stroke-width="0.9" />
<line x1="294.48" y1="184.43" x2="297.08" y2="184.43" stroke="#ff2a10" stroke-width="0.9" />
<line x1="299.75" y1="183.74" x2="299.75" y2="179.58" stroke="#ff2a10" stroke-width="0.5" />
<line x1="298.45" y1="179.58" x2="301.05" y2="179.58" stroke="#ff2a10" stroke-width="0.9" />
<line x1="298.45" y1="183.74" x2="301.05" y2="183.74" stroke="#ff2a10" stroke-width="0.9" />
<line x1="307.7" y1="183.05" x2="307.7" y2="178.89" stroke="#ff2a10" stroke-width="0.5" />
<line x1="306.4" y1="178.89" x2="309" y2="178.89" stroke="#ff2a10" stroke-width="0.9" />
<line x1="306.4" y1="183.05" x2="309" y2="183.05" stroke="#ff2a10" stroke-width="0.9" />
<line x1="323.6" y1="202.81" x2="323.6" y2="185.47" stroke="#ff2a10" stroke-width="0.5" />
<line x1="322.3" y1="185.47" x2="324.9" y2="185.47" stroke="#ff2a10" stroke-width="0.9" />
<line x1="322.3" y1="202.81" x2="324.9" y2="202.81" stroke="#ff2a10" stroke-width="0.9" />
<line x1="355.4" y1="212.51" x2="355.4" y2="210.43" stroke="#ff2a10" stroke-width="0.5" />
<line x1="354.1" y1="210.43" x2="356.7" y2="210.43" stroke="#ff2a10" stroke-width="0.9" />
<line x1="354.1" y1="212.51" x2="356.7" y2="212.51" stroke="#ff2a10" stroke-width="0.9" />
<line x1="295.78" y1="183.74" x2="295.78" y2="179.58" stroke="#ff44ff" stroke-width="0.5" />
<line x1="294.48" y1="179.58" x2="297.08" y2="179.58" stroke="#ff44ff" stroke-width="0.9" />
<line x1="294.48" y1="183.74" x2="297.08" y2="183.74" stroke="#ff44ff" stroke-width="0.9" />
<line x1="299.75" y1="183.74" x2="299.75" y2="179.58" stroke="#ff44ff" stroke-width="0.5" />
<line x1="298.45" y1="179.58" x2="301.05" y2="179.58" stroke="#ff44ff" stroke-width="0.9" />
<line x1="298.45" y1="183.74" x2="301.05" y2="183.74" stroke="#ff44ff" stroke-width="0.9" />
<line x1="307.7" y1="183.05" x2="307.7" y2="178.89" stroke="#ff44ff" stroke-width="0.5" />
<line x1="306.4" y1="178.89" x2="309" y2="178.89" stroke="#ff44ff" stroke-width="0.9" />
<line x1="306.4" y1="183.05" x2="309" y2="183.05" stroke="#ff44ff" stroke-width="0.9" />
<line x1="323.6" y1="199.48" x2="323.6" y2="192.55" stroke="#ff44ff" stroke-width="0.5" />
<line x1="322.3" y1="192.55" x2="324.9" y2="192.55" stroke="#ff44ff" stroke-width="0.9" />
<line x1="322.3" y1="199.48" x2="324.9" y2="199.48" stroke="#ff44ff" stroke-width="0.9" />
<line x1="355.4" y1="212.51" x2="355.4" y2="210.43" stroke="#ff44ff" stroke-width="0.5" />
<line x1="354.1" y1="210.43" x2="356.7" y2="210.43" stroke="#ff44ff" stroke-width="0.9" />
<line x1="354.1" y1="212.51" x2="356.7" y2="212.51" stroke="#ff44ff" stroke-width="0.9" />
<line x1="295.78" y1="179.03" x2="295.78" y2="176.25" stroke="#8a1a9a" stroke-width="0.5" />
<line x1="294.48" y1="176.25" x2="297.08" y2="176.25" stroke="#8a1a9a" stroke-width="0.9" />
<line x1="294.48" y1="179.03" x2="297.08" y2="179.03" stroke="#8a1a9a" stroke-width="0.9" />
<line x1="299.75" y1="179.34" x2="299.75" y2="176.56" stroke="#8a1a9a" stroke-width="0.5" />
<line x1="298.45" y1="176.56" x2="301.05" y2="176.56" stroke="#8a1a9a" stroke-width="0.9" />
<line x1="298.45" y1="179.34" x2="301.05" y2="179.34" stroke="#8a1a9a" stroke-width="0.9" />
<line x1="307.7" y1="178.3" x2="307.7" y2="175.52" stroke="#8a1a9a" stroke-width="0.5" />
<line x1="306.4" y1="175.52" x2="309" y2="175.52" stroke="#8a1a9a" stroke-width="0.9" />
<line x1="306.4" y1="178.3" x2="309" y2="178.3" stroke="#8a1a9a" stroke-width="0.9" />
<line x1="323.6" y1="192.06" x2="323.6" y2="189.29" stroke="#8a1a9a" stroke-width="0.5" />
<line x1="322.3" y1="189.29" x2="324.9" y2="189.29" stroke="#8a1a9a" stroke-width="0.9" />
<line x1="322.3" y1="192.06" x2="324.9" y2="192.06" stroke="#8a1a9a" stroke-width="0.9" />
<line x1="355.4" y1="211.82" x2="355.4" y2="210.43" stroke="#8a1a9a" stroke-width="0.5" />
<line x1="354.1" y1="210.43" x2="356.7" y2="210.43" stroke="#8a1a9a" stroke-width="0.9" />
<line x1="354.1" y1="211.82" x2="356.7" y2="211.82" stroke="#8a1a9a" stroke-width="0.9" />
<polyline points="291.8,184.43 295.78,182.35 299.75,181.66 307.7,180.97 323.6,194.14 355.4,211.47" fill="none" stroke="#ff2a10" stroke-width="1.25" stroke-linejoin="round"/>
<rect x="290.7" y="183.33" width="2.2" height="2.2" fill="#ff2a10"/>
<rect x="294.68" y="181.25" width="2.2" height="2.2" fill="#ff2a10"/>
<rect x="298.65" y="180.56" width="2.2" height="2.2" fill="#ff2a10"/>
<rect x="306.6" y="179.87" width="2.2" height="2.2" fill="#ff2a10"/>
<rect x="322.5" y="193.04" width="2.2" height="2.2" fill="#ff2a10"/>
<rect x="354.3" y="210.37" width="2.2" height="2.2" fill="#ff2a10"/>
<polyline points="291.8,184.43 295.78,181.66 299.75,181.31 307.7,180.97 323.6,189.98 355.4,210.78" fill="none" stroke="#ff9a1a" stroke-width="1.25" stroke-linejoin="round"/>
<rect x="290.7" y="183.33" width="2.2" height="2.2" fill="#ff9a1a"/>
<rect x="294.68" y="180.56" width="2.2" height="2.2" fill="#ff9a1a"/>
<rect x="298.65" y="180.21" width="2.2" height="2.2" fill="#ff9a1a"/>
<rect x="306.6" y="179.87" width="2.2" height="2.2" fill="#ff9a1a"/>
<rect x="322.5" y="188.88" width="2.2" height="2.2" fill="#ff9a1a"/>
<rect x="354.3" y="209.68" width="2.2" height="2.2" fill="#ff9a1a"/>
<polyline points="291.8,184.43 295.78,180.97 299.75,180.97 307.7,180.27 323.6,189.46 355.4,210.78" fill="none" stroke="#a8743c" stroke-width="1.25" stroke-linejoin="round"/>
<rect x="290.7" y="183.33" width="2.2" height="2.2" fill="#a8743c"/>
<rect x="294.68" y="179.87" width="2.2" height="2.2" fill="#a8743c"/>
<rect x="298.65" y="179.87" width="2.2" height="2.2" fill="#a8743c"/>
<rect x="306.6" y="179.17" width="2.2" height="2.2" fill="#a8743c"/>
<rect x="322.5" y="188.36" width="2.2" height="2.2" fill="#a8743c"/>
<rect x="354.3" y="209.68" width="2.2" height="2.2" fill="#a8743c"/>
<polyline points="291.8,184.43 295.78,181.66 299.75,181.66 307.7,180.97 323.6,196.01 355.4,211.47" fill="none" stroke="#ff44ff" stroke-width="1.25" stroke-linejoin="round"/>
<rect x="290.7" y="183.33" width="2.2" height="2.2" fill="#ff44ff"/>
<rect x="294.68" y="180.56" width="2.2" height="2.2" fill="#ff44ff"/>
<rect x="298.65" y="180.56" width="2.2" height="2.2" fill="#ff44ff"/>
<rect x="306.6" y="179.87" width="2.2" height="2.2" fill="#ff44ff"/>
<rect x="322.5" y="194.91" width="2.2" height="2.2" fill="#ff44ff"/>
<rect x="354.3" y="210.37" width="2.2" height="2.2" fill="#ff44ff"/>
<polyline points="291.8,184.43 295.78,177.64 299.75,177.95 307.7,176.91 323.6,190.67 355.4,211.13" fill="none" stroke="#8a1a9a" stroke-width="1.25" stroke-linejoin="round"/>
<rect x="290.7" y="183.33" width="2.2" height="2.2" fill="#8a1a9a"/>
<rect x="294.68" y="176.54" width="2.2" height="2.2" fill="#8a1a9a"/>
<rect x="298.65" y="176.85" width="2.2" height="2.2" fill="#8a1a9a"/>
<rect x="306.6" y="175.81" width="2.2" height="2.2" fill="#8a1a9a"/>
<rect x="322.5" y="189.57" width="2.2" height="2.2" fill="#8a1a9a"/>
<rect x="354.3" y="210.03" width="2.2" height="2.2" fill="#8a1a9a"/>
<polyline points="291.8,184.43 295.78,182.35 299.75,182.35 307.7,181.66 323.6,192.06 355.4,211.13" fill="none" stroke="#3ef0f0" stroke-width="1.25" stroke-linejoin="round"/>
<rect x="290.7" y="183.33" width="2.2" height="2.2" fill="#3ef0f0"/>
<rect x="294.68" y="181.25" width="2.2" height="2.2" fill="#3ef0f0"/>
<rect x="298.65" y="181.25" width="2.2" height="2.2" fill="#3ef0f0"/>
<rect x="306.6" y="180.56" width="2.2" height="2.2" fill="#3ef0f0"/>
<rect x="322.5" y="190.96" width="2.2" height="2.2" fill="#3ef0f0"/>
<rect x="354.3" y="210.03" width="2.2" height="2.2" fill="#3ef0f0"/>
<polyline points="291.8,184.43 295.78,182.87 299.75,183.39 307.7,182.35 323.6,194.83 355.4,211.13" fill="none" stroke="#1a3cff" stroke-width="1.25" stroke-linejoin="round"/>
<rect x="290.7" y="183.33" width="2.2" height="2.2" fill="#1a3cff"/>
<rect x="294.68" y="181.77" width="2.2" height="2.2" fill="#1a3cff"/>
<rect x="298.65" y="182.29" width="2.2" height="2.2" fill="#1a3cff"/>
<rect x="306.6" y="181.25" width="2.2" height="2.2" fill="#1a3cff"/>
<rect x="322.5" y="193.73" width="2.2" height="2.2" fill="#1a3cff"/>
<rect x="354.3" y="210.03" width="2.2" height="2.2" fill="#1a3cff"/>
<line x1="295.78" y1="182.35" x2="295.78" y2="180.27" stroke="#222" stroke-width="0.7" />
<line x1="294.38" y1="180.27" x2="297.18" y2="180.27" stroke="#222" stroke-width="0.8" />
<line x1="294.38" y1="182.35" x2="297.18" y2="182.35" stroke="#222" stroke-width="0.8" />
<line x1="299.75" y1="182.01" x2="299.75" y2="179.93" stroke="#222" stroke-width="0.7" />
<line x1="298.35" y1="179.93" x2="301.15" y2="179.93" stroke="#222" stroke-width="0.8" />
<line x1="298.35" y1="182.01" x2="301.15" y2="182.01" stroke="#222" stroke-width="0.8" />
<line x1="307.7" y1="180.62" x2="307.7" y2="178.54" stroke="#222" stroke-width="0.7" />
<line x1="306.3" y1="178.54" x2="309.1" y2="178.54" stroke="#222" stroke-width="0.8" />
<line x1="306.3" y1="180.62" x2="309.1" y2="180.62" stroke="#222" stroke-width="0.8" />
<line x1="323.6" y1="182.7" x2="323.6" y2="180.62" stroke="#222" stroke-width="0.7" />
<line x1="322.2" y1="180.62" x2="325" y2="180.62" stroke="#222" stroke-width="0.8" />
<line x1="322.2" y1="182.7" x2="325" y2="182.7" stroke="#222" stroke-width="0.8" />
<line x1="355.4" y1="188.11" x2="355.4" y2="186.03" stroke="#222" stroke-width="0.7" />
<line x1="354" y1="186.03" x2="356.8" y2="186.03" stroke="#222" stroke-width="0.8" />
<line x1="354" y1="188.11" x2="356.8" y2="188.11" stroke="#222" stroke-width="0.8" />
<polyline points="291.8,184.43 295.78,181.31 299.75,180.97 307.7,179.58 323.6,181.66 355.4,187.07" fill="none" stroke="#000" stroke-width="0.95" stroke-linejoin="round"/>
<circle cx="291.8" cy="184.43" r="1.2" fill="#000"/>
<circle cx="295.78" cy="181.31" r="1.2" fill="#000"/>
<circle cx="299.75" cy="180.97" r="1.2" fill="#000"/>
<circle cx="307.7" cy="179.58" r="1.2" fill="#000"/>
<circle cx="323.6" cy="181.66" r="1.2" fill="#000"/>
<circle cx="355.4" cy="187.07" r="1.2" fill="#000"/>
<polyline points="358.2,187.07 361.2,187.07 361.2,211.13 358.2,211.13" fill="none" stroke="#222" stroke-width="0.9"/>
<text x="361.8" y="200.8" font-size="5.0" text-anchor="start" font-weight="normal" fill="#000" >****</text>
<text x="60.9" y="252.9" font-size="6.8" text-anchor="middle" font-weight="normal" fill="#000" >SNU620</text>
<line x1="21.6" y1="307.3" x2="21.6" y2="255.3" stroke="#111" stroke-width="1.05" />
<line x1="19.6" y1="307.3" x2="21.6" y2="307.3" stroke="#000" stroke-width="0.8" />
<line x1="19.6" y1="289.97" x2="21.6" y2="289.97" stroke="#000" stroke-width="0.8" />
<line x1="19.6" y1="272.63" x2="21.6" y2="272.63" stroke="#000" stroke-width="0.8" />
<line x1="19.6" y1="255.3" x2="21.6" y2="255.3" stroke="#000" stroke-width="0.8" />
<line x1="21.6" y1="307.3" x2="101.6" y2="307.3" stroke="#111" stroke-width="1.05" />
<line x1="21.6" y1="307.3" x2="21.6" y2="309.3" stroke="#000" stroke-width="0.8" />
<text x="21.6" y="317.2" font-size="6.1" text-anchor="middle" font-weight="normal" fill="#000" >0</text>
<line x1="37.5" y1="307.3" x2="37.5" y2="309.3" stroke="#000" stroke-width="0.8" />
<text x="37.5" y="317.2" font-size="6.1" text-anchor="middle" font-weight="normal" fill="#000" >0.5</text>
<line x1="53.4" y1="307.3" x2="53.4" y2="309.3" stroke="#000" stroke-width="0.8" />
<text x="53.4" y="317.2" font-size="6.1" text-anchor="middle" font-weight="normal" fill="#000" >1.0</text>
<line x1="69.3" y1="307.3" x2="69.3" y2="309.3" stroke="#000" stroke-width="0.8" />
<text x="69.3" y="317.2" font-size="6.1" text-anchor="middle" font-weight="normal" fill="#000" >1.5</text>
<line x1="85.2" y1="307.3" x2="85.2" y2="309.3" stroke="#000" stroke-width="0.8" />
<text x="85.2" y="317.2" font-size="6.1" text-anchor="middle" font-weight="normal" fill="#000" >2.0</text>
<line x1="101.1" y1="307.3" x2="101.1" y2="309.3" stroke="#000" stroke-width="0.8" />
<text x="101.1" y="317.2" font-size="6.1" text-anchor="middle" font-weight="normal" fill="#000" >2.5</text>
<text x="62.2" y="325.2" font-size="6.2" text-anchor="middle" font-weight="normal" fill="#000" >Concentration (μM)</text>
<text x="18.4" y="309.5" font-size="6.1" text-anchor="end" font-weight="normal" fill="#000" >0</text>
<text x="18.4" y="292.17" font-size="6.1" text-anchor="end" font-weight="normal" fill="#000" >50</text>
<text x="18.4" y="274.83" font-size="6.1" text-anchor="end" font-weight="normal" fill="#000" >100</text>
<text x="18.4" y="257.5" font-size="6.1" text-anchor="end" font-weight="normal" fill="#000" >150</text>
<text transform="translate(6.4,281) rotate(-90)" font-size="6.1" text-anchor="middle">Cell viability (%)</text>
<line x1="25.58" y1="270.55" x2="25.58" y2="266.39" stroke="#ff2a10" stroke-width="0.5" />
<line x1="24.28" y1="266.39" x2="26.88" y2="266.39" stroke="#ff2a10" stroke-width="0.9" />
<line x1="24.28" y1="270.55" x2="26.88" y2="270.55" stroke="#ff2a10" stroke-width="0.9" />
<line x1="29.55" y1="267.78" x2="29.55" y2="263.62" stroke="#ff2a10" stroke-width="0.5" />
<line x1="28.25" y1="263.62" x2="30.85" y2="263.62" stroke="#ff2a10" stroke-width="0.9" />
<line x1="28.25" y1="267.78" x2="30.85" y2="267.78" stroke="#ff2a10" stroke-width="0.9" />
<line x1="37.5" y1="270.41" x2="37.5" y2="264.87" stroke="#ff2a10" stroke-width="0.5" />
<line x1="36.2" y1="264.87" x2="38.8" y2="264.87" stroke="#ff2a10" stroke-width="0.9" />
<line x1="36.2" y1="270.41" x2="38.8" y2="270.41" stroke="#ff2a10" stroke-width="0.9" />
<line x1="53.4" y1="278.87" x2="53.4" y2="273.33" stroke="#ff2a10" stroke-width="0.5" />
<line x1="52.1" y1="273.33" x2="54.7" y2="273.33" stroke="#ff2a10" stroke-width="0.9" />
<line x1="52.1" y1="278.87" x2="54.7" y2="278.87" stroke="#ff2a10" stroke-width="0.9" />
<line x1="85.2" y1="308.69" x2="85.2" y2="283.73" stroke="#ff2a10" stroke-width="0.5" />
<line x1="83.9" y1="283.73" x2="86.5" y2="283.73" stroke="#ff2a10" stroke-width="0.9" />
<line x1="83.9" y1="308.69" x2="86.5" y2="308.69" stroke="#ff2a10" stroke-width="0.9" />
<line x1="25.58" y1="271.25" x2="25.58" y2="264.31" stroke="#ff9a1a" stroke-width="0.5" />
<line x1="24.28" y1="264.31" x2="26.88" y2="264.31" stroke="#ff9a1a" stroke-width="0.9" />
<line x1="24.28" y1="271.25" x2="26.88" y2="271.25" stroke="#ff9a1a" stroke-width="0.9" />
<line x1="29.55" y1="271.94" x2="29.55" y2="258.07" stroke="#ff9a1a" stroke-width="0.5" />
<line x1="28.25" y1="258.07" x2="30.85" y2="258.07" stroke="#ff9a1a" stroke-width="0.9" />
<line x1="28.25" y1="271.94" x2="30.85" y2="271.94" stroke="#ff9a1a" stroke-width="0.9" />
<line x1="37.5" y1="276.1" x2="37.5" y2="256.69" stroke="#ff9a1a" stroke-width="0.5" />
<line x1="36.2" y1="256.69" x2="38.8" y2="256.69" stroke="#ff9a1a" stroke-width="0.9" />
<line x1="36.2" y1="276.1" x2="38.8" y2="276.1" stroke="#ff9a1a" stroke-width="0.9" />
<line x1="53.4" y1="278.87" x2="53.4" y2="271.94" stroke="#ff9a1a" stroke-width="0.5" />
<line x1="52.1" y1="271.94" x2="54.7" y2="271.94" stroke="#ff9a1a" stroke-width="0.9" />
<line x1="52.1" y1="278.87" x2="54.7" y2="278.87" stroke="#ff9a1a" stroke-width="0.9" />
<line x1="85.2" y1="302.45" x2="85.2" y2="294.13" stroke="#ff9a1a" stroke-width="0.5" />
<line x1="83.9" y1="294.13" x2="86.5" y2="294.13" stroke="#ff9a1a" stroke-width="0.9" />
<line x1="83.9" y1="302.45" x2="86.5" y2="302.45" stroke="#ff9a1a" stroke-width="0.9" />
<line x1="25.58" y1="271.25" x2="25.58" y2="267.09" stroke="#3ef0f0" stroke-width="0.5" />
<line x1="24.28" y1="267.09" x2="26.88" y2="267.09" stroke="#3ef0f0" stroke-width="0.9" />
<line x1="24.28" y1="271.25" x2="26.88" y2="271.25" stroke="#3ef0f0" stroke-width="0.9" />
<line x1="29.55" y1="265.01" x2="29.55" y2="260.85" stroke="#3ef0f0" stroke-width="0.5" />
<line x1="28.25" y1="260.85" x2="30.85" y2="260.85" stroke="#3ef0f0" stroke-width="0.9" />
<line x1="28.25" y1="265.01" x2="30.85" y2="265.01" stroke="#3ef0f0" stroke-width="0.9" />
<line x1="37.5" y1="267.78" x2="37.5" y2="263.62" stroke="#3ef0f0" stroke-width="0.5" />
<line x1="36.2" y1="263.62" x2="38.8" y2="263.62" stroke="#3ef0f0" stroke-width="0.9" />
<line x1="36.2" y1="267.78" x2="38.8" y2="267.78" stroke="#3ef0f0" stroke-width="0.9" />
<line x1="53.4" y1="274.85" x2="53.4" y2="269.31" stroke="#3ef0f0" stroke-width="0.5" />
<line x1="52.1" y1="269.31" x2="54.7" y2="269.31" stroke="#3ef0f0" stroke-width="0.9" />
<line x1="52.1" y1="274.85" x2="54.7" y2="274.85" stroke="#3ef0f0" stroke-width="0.9" />
<line x1="85.2" y1="303.49" x2="85.2" y2="286.85" stroke="#3ef0f0" stroke-width="0.5" />
<line x1="83.9" y1="286.85" x2="86.5" y2="286.85" stroke="#3ef0f0" stroke-width="0.9" />
<line x1="83.9" y1="303.49" x2="86.5" y2="303.49" stroke="#3ef0f0" stroke-width="0.9" />
<line x1="25.58" y1="275.75" x2="25.58" y2="272.98" stroke="#1a3cff" stroke-width="0.5" />
<line x1="24.28" y1="272.98" x2="26.88" y2="272.98" stroke="#1a3cff" stroke-width="0.9" />
<line x1="24.28" y1="275.75" x2="26.88" y2="275.75" stroke="#1a3cff" stroke-width="0.9" />
<line x1="29.55" y1="273.19" x2="29.55" y2="269.72" stroke="#1a3cff" stroke-width="0.5" />
<line x1="28.25" y1="269.72" x2="30.85" y2="269.72" stroke="#1a3cff" stroke-width="0.9" />
<line x1="28.25" y1="273.19" x2="30.85" y2="273.19" stroke="#1a3cff" stroke-width="0.9" />
<line x1="37.5" y1="279.74" x2="37.5" y2="270.03" stroke="#1a3cff" stroke-width="0.5" />
<line x1="36.2" y1="270.03" x2="38.8" y2="270.03" stroke="#1a3cff" stroke-width="0.9" />
<line x1="36.2" y1="279.74" x2="38.8" y2="279.74" stroke="#1a3cff" stroke-width="0.9" />
<line x1="53.4" y1="288.03" x2="53.4" y2="274.16" stroke="#1a3cff" stroke-width="0.5" />
<line x1="52.1" y1="274.16" x2="54.7" y2="274.16" stroke="#1a3cff" stroke-width="0.9" />
<line x1="52.1" y1="288.03" x2="54.7" y2="288.03" stroke="#1a3cff" stroke-width="0.9" />
<line x1="85.2" y1="303.49" x2="85.2" y2="299.33" stroke="#1a3cff" stroke-width="0.5" />
<line x1="83.9" y1="299.33" x2="86.5" y2="299.33" stroke="#1a3cff" stroke-width="0.9" />
<line x1="83.9" y1="303.49" x2="86.5" y2="303.49" stroke="#1a3cff" stroke-width="0.9" />
<polyline points="21.6,272.63 25.58,268.47 29.55,265.7 37.5,267.64 53.4,276.1 85.2,296.21" fill="none" stroke="#ff2a10" stroke-width="1.25" stroke-linejoin="round"/>
<rect x="20.5" y="271.53" width="2.2" height="2.2" fill="#ff2a10"/>
<rect x="24.48" y="267.37" width="2.2" height="2.2" fill="#ff2a10"/>
<rect x="28.45" y="264.6" width="2.2" height="2.2" fill="#ff2a10"/>
<rect x="36.4" y="266.54" width="2.2" height="2.2" fill="#ff2a10"/>
<rect x="52.3" y="275" width="2.2" height="2.2" fill="#ff2a10"/>
<rect x="84.1" y="295.11" width="2.2" height="2.2" fill="#ff2a10"/>
<polyline points="21.6,272.63 25.58,267.78 29.55,265.01 37.5,266.39 53.4,275.41 85.2,298.29" fill="none" stroke="#ff9a1a" stroke-width="1.25" stroke-linejoin="round"/>
<rect x="20.5" y="271.53" width="2.2" height="2.2" fill="#ff9a1a"/>
<rect x="24.48" y="266.68" width="2.2" height="2.2" fill="#ff9a1a"/>
<rect x="28.45" y="263.91" width="2.2" height="2.2" fill="#ff9a1a"/>
<rect x="36.4" y="265.29" width="2.2" height="2.2" fill="#ff9a1a"/>
<rect x="52.3" y="274.31" width="2.2" height="2.2" fill="#ff9a1a"/>
<rect x="84.1" y="297.19" width="2.2" height="2.2" fill="#ff9a1a"/>
<polyline points="21.6,272.63 25.58,267.78 29.55,266.39 37.5,267.78 53.4,276.1 85.2,298.98" fill="none" stroke="#a8743c" stroke-width="1.25" stroke-linejoin="round"/>
<rect x="20.5" y="271.53" width="2.2" height="2.2" fill="#a8743c"/>
<rect x="24.48" y="266.68" width="2.2" height="2.2" fill="#a8743c"/>
<rect x="28.45" y="265.29" width="2.2" height="2.2" fill="#a8743c"/>
<rect x="36.4" y="266.68" width="2.2" height="2.2" fill="#a8743c"/>
<rect x="52.3" y="275" width="2.2" height="2.2" fill="#a8743c"/>
<rect x="84.1" y="297.88" width="2.2" height="2.2" fill="#a8743c"/>
<polyline points="21.6,272.63 25.58,268.47 29.55,265.7 37.5,267.78 53.4,276.79 85.2,296.9" fill="none" stroke="#ff44ff" stroke-width="1.25" stroke-linejoin="round"/>
<rect x="20.5" y="271.53" width="2.2" height="2.2" fill="#ff44ff"/>
<rect x="24.48" y="267.37" width="2.2" height="2.2" fill="#ff44ff"/>
<rect x="28.45" y="264.6" width="2.2" height="2.2" fill="#ff44ff"/>
<rect x="36.4" y="266.68" width="2.2" height="2.2" fill="#ff44ff"/>
<rect x="52.3" y="275.69" width="2.2" height="2.2" fill="#ff44ff"/>
<rect x="84.1" y="295.8" width="2.2" height="2.2" fill="#ff44ff"/>
<polyline points="21.6,272.63 25.58,269.17 29.55,266.39 37.5,268.47 53.4,277.49 85.2,303.49" fill="none" stroke="#8a1a9a" stroke-width="1.25" stroke-linejoin="round"/>
<rect x="20.5" y="271.53" width="2.2" height="2.2" fill="#8a1a9a"/>
<rect x="24.48" y="268.07" width="2.2" height="2.2" fill="#8a1a9a"/>
<rect x="28.45" y="265.29" width="2.2" height="2.2" fill="#8a1a9a"/>
<rect x="36.4" y="267.37" width="2.2" height="2.2" fill="#8a1a9a"/>
<rect x="52.3" y="276.39" width="2.2" height="2.2" fill="#8a1a9a"/>
<rect x="84.1" y="302.39" width="2.2" height="2.2" fill="#8a1a9a"/>
<polyline points="21.6,272.63 25.58,269.17 29.55,262.93 37.5,265.7 53.4,272.08 85.2,295.17" fill="none" stroke="#3ef0f0" stroke-width="1.25" stroke-linejoin="round"/>
<rect x="20.5" y="271.53" width="2.2" height="2.2" fill="#3ef0f0"/>
<rect x="24.48" y="268.07" width="2.2" height="2.2" fill="#3ef0f0"/>
<rect x="28.45" y="261.83" width="2.2" height="2.2" fill="#3ef0f0"/>
<rect x="36.4" y="264.6" width="2.2" height="2.2" fill="#3ef0f0"/>
<rect x="52.3" y="270.98" width="2.2" height="2.2" fill="#3ef0f0"/>
<rect x="84.1" y="294.07" width="2.2" height="2.2" fill="#3ef0f0"/>
<polyline points="21.6,272.63 25.58,274.37 29.55,271.45 37.5,274.89 53.4,281.09 85.2,301.41" fill="none" stroke="#1a3cff" stroke-width="1.25" stroke-linejoin="round"/>
<rect x="20.5" y="271.53" width="2.2" height="2.2" fill="#1a3cff"/>
<rect x="24.48" y="273.27" width="2.2" height="2.2" fill="#1a3cff"/>
<rect x="28.45" y="270.35" width="2.2" height="2.2" fill="#1a3cff"/>
<rect x="36.4" y="273.79" width="2.2" height="2.2" fill="#1a3cff"/>
<rect x="52.3" y="279.99" width="2.2" height="2.2" fill="#1a3cff"/>
<rect x="84.1" y="300.31" width="2.2" height="2.2" fill="#1a3cff"/>
<line x1="25.58" y1="272.74" x2="25.58" y2="256.1" stroke="#7a7a7a" stroke-width="1.0" />
<line x1="24.08" y1="256.1" x2="27.08" y2="256.1" stroke="#333" stroke-width="0.9" />
<line x1="24.08" y1="272.74" x2="27.08" y2="272.74" stroke="#333" stroke-width="0.9" />
<line x1="29.55" y1="268.82" x2="29.55" y2="265.35" stroke="#7a7a7a" stroke-width="1.0" />
<line x1="28.05" y1="265.35" x2="31.05" y2="265.35" stroke="#333" stroke-width="0.9" />
<line x1="28.05" y1="268.82" x2="31.05" y2="268.82" stroke="#333" stroke-width="0.9" />
<line x1="37.5" y1="270.69" x2="37.5" y2="267.23" stroke="#7a7a7a" stroke-width="1.0" />
<line x1="36" y1="267.23" x2="39" y2="267.23" stroke="#333" stroke-width="0.9" />
<line x1="36" y1="270.69" x2="39" y2="270.69" stroke="#333" stroke-width="0.9" />
<line x1="53.4" y1="272.84" x2="53.4" y2="270.07" stroke="#7a7a7a" stroke-width="1.0" />
<line x1="51.9" y1="270.07" x2="54.9" y2="270.07" stroke="#333" stroke-width="0.9" />
<line x1="51.9" y1="272.84" x2="54.9" y2="272.84" stroke="#333" stroke-width="0.9" />
<line x1="85.2" y1="279.39" x2="85.2" y2="278.01" stroke="#7a7a7a" stroke-width="1.0" />
<line x1="83.7" y1="278.01" x2="86.7" y2="278.01" stroke="#333" stroke-width="0.9" />
<line x1="83.7" y1="279.39" x2="86.7" y2="279.39" stroke="#333" stroke-width="0.9" />
<polyline points="21.6,272.63 25.58,264.42 29.55,267.09 37.5,268.96 53.4,271.45 85.2,278.7" fill="none" stroke="#000" stroke-width="1.3" stroke-linejoin="round"/>
<circle cx="21.6" cy="272.63" r="1.4" fill="#000"/>
<circle cx="25.58" cy="264.42" r="1.4" fill="#000"/>
<circle cx="29.55" cy="267.09" r="1.4" fill="#000"/>
<circle cx="37.5" cy="268.96" r="1.4" fill="#000"/>
<circle cx="53.4" cy="271.45" r="1.4" fill="#000"/>
<circle cx="85.2" cy="278.7" r="1.4" fill="#000"/>
<polyline points="88,278.7 91,278.7 91,300.37 88,300.37" fill="none" stroke="#222" stroke-width="0.9"/>
<text x="91.6" y="291.23" font-size="5.0" text-anchor="start" font-weight="normal" fill="#000" >*</text>
<text x="150.9" y="252.5" font-size="6.8" text-anchor="middle" font-weight="normal" fill="#000" >SNU668</text>
<line x1="110.4" y1="307.3" x2="110.4" y2="255.3" stroke="#111" stroke-width="1.05" />
<line x1="108.4" y1="307.3" x2="110.4" y2="307.3" stroke="#000" stroke-width="0.8" />
<line x1="108.4" y1="289.97" x2="110.4" y2="289.97" stroke="#000" stroke-width="0.8" />
<line x1="108.4" y1="272.63" x2="110.4" y2="272.63" stroke="#000" stroke-width="0.8" />
<line x1="108.4" y1="255.3" x2="110.4" y2="255.3" stroke="#000" stroke-width="0.8" />
<line x1="110.4" y1="307.3" x2="190.4" y2="307.3" stroke="#111" stroke-width="1.05" />
<line x1="110.4" y1="307.3" x2="110.4" y2="309.3" stroke="#000" stroke-width="0.8" />
<text x="110.4" y="317.2" font-size="6.1" text-anchor="middle" font-weight="normal" fill="#000" >0</text>
<line x1="126.3" y1="307.3" x2="126.3" y2="309.3" stroke="#000" stroke-width="0.8" />
<text x="126.3" y="317.2" font-size="6.1" text-anchor="middle" font-weight="normal" fill="#000" >0.5</text>
<line x1="142.2" y1="307.3" x2="142.2" y2="309.3" stroke="#000" stroke-width="0.8" />
<text x="142.2" y="317.2" font-size="6.1" text-anchor="middle" font-weight="normal" fill="#000" >1.0</text>
<line x1="158.1" y1="307.3" x2="158.1" y2="309.3" stroke="#000" stroke-width="0.8" />
<text x="158.1" y="317.2" font-size="6.1" text-anchor="middle" font-weight="normal" fill="#000" >1.5</text>
<line x1="174" y1="307.3" x2="174" y2="309.3" stroke="#000" stroke-width="0.8" />
<text x="174" y="317.2" font-size="6.1" text-anchor="middle" font-weight="normal" fill="#000" >2.0</text>
<line x1="189.9" y1="307.3" x2="189.9" y2="309.3" stroke="#000" stroke-width="0.8" />
<text x="189.9" y="317.2" font-size="6.1" text-anchor="middle" font-weight="normal" fill="#000" >2.5</text>
<text x="150.7" y="325.2" font-size="6.2" text-anchor="middle" font-weight="normal" fill="#000" >Concentration (μM)</text>
<line x1="114.38" y1="269.86" x2="114.38" y2="265.7" stroke="#ff2a10" stroke-width="0.5" />
<line x1="113.08" y1="265.7" x2="115.67" y2="265.7" stroke="#ff2a10" stroke-width="0.9" />
<line x1="113.08" y1="269.86" x2="115.67" y2="269.86" stroke="#ff2a10" stroke-width="0.9" />
<line x1="118.35" y1="269.51" x2="118.35" y2="265.35" stroke="#ff2a10" stroke-width="0.5" />
<line x1="117.05" y1="265.35" x2="119.65" y2="265.35" stroke="#ff2a10" stroke-width="0.9" />
<line x1="117.05" y1="269.51" x2="119.65" y2="269.51" stroke="#ff2a10" stroke-width="0.9" />
<line x1="126.3" y1="268.89" x2="126.3" y2="264.73" stroke="#ff2a10" stroke-width="0.5" />
<line x1="125" y1="264.73" x2="127.6" y2="264.73" stroke="#ff2a10" stroke-width="0.9" />
<line x1="125" y1="268.89" x2="127.6" y2="268.89" stroke="#ff2a10" stroke-width="0.9" />
<line x1="142.2" y1="287.19" x2="142.2" y2="271.94" stroke="#ff2a10" stroke-width="0.5" />
<line x1="140.9" y1="271.94" x2="143.5" y2="271.94" stroke="#ff2a10" stroke-width="0.9" />
<line x1="140.9" y1="287.19" x2="143.5" y2="287.19" stroke="#ff2a10" stroke-width="0.9" />
<line x1="174" y1="300.37" x2="174" y2="297.59" stroke="#ff2a10" stroke-width="0.5" />
<line x1="172.7" y1="297.59" x2="175.3" y2="297.59" stroke="#ff2a10" stroke-width="0.9" />
<line x1="172.7" y1="300.37" x2="175.3" y2="300.37" stroke="#ff2a10" stroke-width="0.9" />
<line x1="114.38" y1="274.02" x2="114.38" y2="269.86" stroke="#ff44ff" stroke-width="0.5" />
<line x1="113.08" y1="269.86" x2="115.67" y2="269.86" stroke="#ff44ff" stroke-width="0.9" />
<line x1="113.08" y1="274.02" x2="115.67" y2="274.02" stroke="#ff44ff" stroke-width="0.9" />
<line x1="118.35" y1="270.55" x2="118.35" y2="266.39" stroke="#ff44ff" stroke-width="0.5" />
<line x1="117.05" y1="266.39" x2="119.65" y2="266.39" stroke="#ff44ff" stroke-width="0.9" />
<line x1="117.05" y1="270.55" x2="119.65" y2="270.55" stroke="#ff44ff" stroke-width="0.9" />
<line x1="126.3" y1="269.86" x2="126.3" y2="265.7" stroke="#ff44ff" stroke-width="0.5" />
<line x1="125" y1="265.7" x2="127.6" y2="265.7" stroke="#ff44ff" stroke-width="0.9" />
<line x1="125" y1="269.86" x2="127.6" y2="269.86" stroke="#ff44ff" stroke-width="0.9" />
<line x1="142.2" y1="279.57" x2="142.2" y2="275.41" stroke="#ff44ff" stroke-width="0.5" />
<line x1="140.9" y1="275.41" x2="143.5" y2="275.41" stroke="#ff44ff" stroke-width="0.9" />
<line x1="140.9" y1="279.57" x2="143.5" y2="279.57" stroke="#ff44ff" stroke-width="0.9" />
<line x1="174" y1="298.29" x2="174" y2="295.51" stroke="#ff44ff" stroke-width="0.5" />
<line x1="172.7" y1="295.51" x2="175.3" y2="295.51" stroke="#ff44ff" stroke-width="0.9" />
<line x1="172.7" y1="298.29" x2="175.3" y2="298.29" stroke="#ff44ff" stroke-width="0.9" />
<polyline points="110.4,272.63 114.38,267.78 118.35,267.43 126.3,266.81 142.2,279.57 174,298.98" fill="none" stroke="#ff2a10" stroke-width="1.25" stroke-linejoin="round"/>
<rect x="109.3" y="271.53" width="2.2" height="2.2" fill="#ff2a10"/>
<rect x="113.28" y="266.68" width="2.2" height="2.2" fill="#ff2a10"/>
<rect x="117.25" y="266.33" width="2.2" height="2.2" fill="#ff2a10"/>
<rect x="125.2" y="265.71" width="2.2" height="2.2" fill="#ff2a10"/>
<rect x="141.1" y="278.47" width="2.2" height="2.2" fill="#ff2a10"/>
<rect x="172.9" y="297.88" width="2.2" height="2.2" fill="#ff2a10"/>
<polyline points="110.4,272.63 114.38,267.09 118.35,266.39 126.3,265.7 142.2,277.49 174,297.59" fill="none" stroke="#ff9a1a" stroke-width="1.25" stroke-linejoin="round"/>
<rect x="109.3" y="271.53" width="2.2" height="2.2" fill="#ff9a1a"/>
<rect x="113.28" y="265.99" width="2.2" height="2.2" fill="#ff9a1a"/>
<rect x="117.25" y="265.29" width="2.2" height="2.2" fill="#ff9a1a"/>
<rect x="125.2" y="264.6" width="2.2" height="2.2" fill="#ff9a1a"/>
<rect x="141.1" y="276.39" width="2.2" height="2.2" fill="#ff9a1a"/>
<rect x="172.9" y="296.49" width="2.2" height="2.2" fill="#ff9a1a"/>
<polyline points="110.4,272.63 114.38,267.09 118.35,265.7 126.3,265.7 142.2,276.79 174,297.59" fill="none" stroke="#a8743c" stroke-width="1.25" stroke-linejoin="round"/>
<rect x="109.3" y="271.53" width="2.2" height="2.2" fill="#a8743c"/>
<rect x="113.28" y="265.99" width="2.2" height="2.2" fill="#a8743c"/>
<rect x="117.25" y="264.6" width="2.2" height="2.2" fill="#a8743c"/>
<rect x="125.2" y="264.6" width="2.2" height="2.2" fill="#a8743c"/>
<rect x="141.1" y="275.69" width="2.2" height="2.2" fill="#a8743c"/>
<rect x="172.9" y="296.49" width="2.2" height="2.2" fill="#a8743c"/>
<polyline points="110.4,272.63 114.38,271.94 118.35,268.47 126.3,267.78 142.2,277.49 174,296.9" fill="none" stroke="#ff44ff" stroke-width="1.25" stroke-linejoin="round"/>
<rect x="109.3" y="271.53" width="2.2" height="2.2" fill="#ff44ff"/>
<rect x="113.28" y="270.84" width="2.2" height="2.2" fill="#ff44ff"/>
<rect x="117.25" y="267.37" width="2.2" height="2.2" fill="#ff44ff"/>
<rect x="125.2" y="266.68" width="2.2" height="2.2" fill="#ff44ff"/>
<rect x="141.1" y="276.39" width="2.2" height="2.2" fill="#ff44ff"/>
<rect x="172.9" y="295.8" width="2.2" height="2.2" fill="#ff44ff"/>
<polyline points="110.4,272.63 114.38,272.49 118.35,270.55 126.3,270.55 142.2,278.87 174,298.29" fill="none" stroke="#8a1a9a" stroke-width="1.25" stroke-linejoin="round"/>
<rect x="109.3" y="271.53" width="2.2" height="2.2" fill="#8a1a9a"/>
<rect x="113.28" y="271.39" width="2.2" height="2.2" fill="#8a1a9a"/>
<rect x="117.25" y="269.45" width="2.2" height="2.2" fill="#8a1a9a"/>
<rect x="125.2" y="269.45" width="2.2" height="2.2" fill="#8a1a9a"/>
<rect x="141.1" y="277.77" width="2.2" height="2.2" fill="#8a1a9a"/>
<rect x="172.9" y="297.19" width="2.2" height="2.2" fill="#8a1a9a"/>
<polyline points="110.4,272.63 114.38,267.78 118.35,265.01 126.3,262.93 142.2,276.1 174,296.9" fill="none" stroke="#3ef0f0" stroke-width="1.25" stroke-linejoin="round"/>
<rect x="109.3" y="271.53" width="2.2" height="2.2" fill="#3ef0f0"/>
<rect x="113.28" y="266.68" width="2.2" height="2.2" fill="#3ef0f0"/>
<rect x="117.25" y="263.91" width="2.2" height="2.2" fill="#3ef0f0"/>
<rect x="125.2" y="261.83" width="2.2" height="2.2" fill="#3ef0f0"/>
<rect x="141.1" y="275" width="2.2" height="2.2" fill="#3ef0f0"/>
<rect x="172.9" y="295.8" width="2.2" height="2.2" fill="#3ef0f0"/>
<polyline points="110.4,272.63 114.38,268.82 118.35,265.53 126.3,265.53 142.2,274.71 174,297.25" fill="none" stroke="#1a3cff" stroke-width="1.25" stroke-linejoin="round"/>
<rect x="109.3" y="271.53" width="2.2" height="2.2" fill="#1a3cff"/>
<rect x="113.28" y="267.72" width="2.2" height="2.2" fill="#1a3cff"/>
<rect x="117.25" y="264.43" width="2.2" height="2.2" fill="#1a3cff"/>
<rect x="125.2" y="264.43" width="2.2" height="2.2" fill="#1a3cff"/>
<rect x="141.1" y="273.61" width="2.2" height="2.2" fill="#1a3cff"/>
<rect x="172.9" y="296.15" width="2.2" height="2.2" fill="#1a3cff"/>
<line x1="114.38" y1="269.41" x2="114.38" y2="259.01" stroke="#7a7a7a" stroke-width="1.0" />
<line x1="112.88" y1="259.01" x2="115.88" y2="259.01" stroke="#333" stroke-width="0.9" />
<line x1="112.88" y1="269.41" x2="115.88" y2="269.41" stroke="#333" stroke-width="0.9" />
<line x1="118.35" y1="268.06" x2="118.35" y2="259.74" stroke="#7a7a7a" stroke-width="1.0" />
<line x1="116.85" y1="259.74" x2="119.85" y2="259.74" stroke="#333" stroke-width="0.9" />
<line x1="116.85" y1="268.06" x2="119.85" y2="268.06" stroke="#333" stroke-width="0.9" />
<line x1="126.3" y1="266.19" x2="126.3" y2="263.41" stroke="#7a7a7a" stroke-width="1.0" />
<line x1="124.8" y1="263.41" x2="127.8" y2="263.41" stroke="#333" stroke-width="0.9" />
<line x1="124.8" y1="266.19" x2="127.8" y2="266.19" stroke="#333" stroke-width="0.9" />
<line x1="142.2" y1="271.21" x2="142.2" y2="263.59" stroke="#7a7a7a" stroke-width="1.0" />
<line x1="140.7" y1="263.59" x2="143.7" y2="263.59" stroke="#333" stroke-width="0.9" />
<line x1="140.7" y1="271.21" x2="143.7" y2="271.21" stroke="#333" stroke-width="0.9" />
<line x1="174" y1="273.88" x2="174" y2="271.11" stroke="#7a7a7a" stroke-width="1.0" />
<line x1="172.5" y1="271.11" x2="175.5" y2="271.11" stroke="#333" stroke-width="0.9" />
<line x1="172.5" y1="273.88" x2="175.5" y2="273.88" stroke="#333" stroke-width="0.9" />
<polyline points="110.4,272.63 114.38,264.21 118.35,263.9 126.3,264.8 142.2,267.4 174,272.49" fill="none" stroke="#000" stroke-width="1.3" stroke-linejoin="round"/>
<circle cx="110.4" cy="272.63" r="1.4" fill="#000"/>
<circle cx="114.38" cy="264.21" r="1.4" fill="#000"/>
<circle cx="118.35" cy="263.9" r="1.4" fill="#000"/>
<circle cx="126.3" cy="264.8" r="1.4" fill="#000"/>
<circle cx="142.2" cy="267.4" r="1.4" fill="#000"/>
<circle cx="174" cy="272.49" r="1.4" fill="#000"/>
<polyline points="176.8,272.49 179.8,272.49 179.8,297.94 176.8,297.94" fill="none" stroke="#222" stroke-width="0.9"/>
<text x="180.4" y="284.22" font-size="5.0" text-anchor="start" font-weight="normal" fill="#000" >***</text>
<text x="241.7" y="252.5" font-size="6.8" text-anchor="middle" font-weight="normal" fill="#000" >SNU620</text>
<line x1="200" y1="307.3" x2="200" y2="255.3" stroke="#111" stroke-width="1.05" />
<line x1="198" y1="307.3" x2="200" y2="307.3" stroke="#000" stroke-width="0.8" />
<line x1="198" y1="289.97" x2="200" y2="289.97" stroke="#000" stroke-width="0.8" />
<line x1="198" y1="272.63" x2="200" y2="272.63" stroke="#000" stroke-width="0.8" />
<line x1="198" y1="255.3" x2="200" y2="255.3" stroke="#000" stroke-width="0.8" />
<line x1="200" y1="307.3" x2="280" y2="307.3" stroke="#111" stroke-width="1.05" />
<line x1="200" y1="307.3" x2="200" y2="309.3" stroke="#000" stroke-width="0.8" />
<text x="200" y="317.2" font-size="6.1" text-anchor="middle" font-weight="normal" fill="#000" >0</text>
<line x1="215.9" y1="307.3" x2="215.9" y2="309.3" stroke="#000" stroke-width="0.8" />
<text x="215.9" y="317.2" font-size="6.1" text-anchor="middle" font-weight="normal" fill="#000" >0.5</text>
<line x1="231.8" y1="307.3" x2="231.8" y2="309.3" stroke="#000" stroke-width="0.8" />
<text x="231.8" y="317.2" font-size="6.1" text-anchor="middle" font-weight="normal" fill="#000" >1.0</text>
<line x1="247.7" y1="307.3" x2="247.7" y2="309.3" stroke="#000" stroke-width="0.8" />
<text x="247.7" y="317.2" font-size="6.1" text-anchor="middle" font-weight="normal" fill="#000" >1.5</text>
<line x1="263.6" y1="307.3" x2="263.6" y2="309.3" stroke="#000" stroke-width="0.8" />
<text x="263.6" y="317.2" font-size="6.1" text-anchor="middle" font-weight="normal" fill="#000" >2.0</text>
<line x1="279.5" y1="307.3" x2="279.5" y2="309.3" stroke="#000" stroke-width="0.8" />
<text x="279.5" y="317.2" font-size="6.1" text-anchor="middle" font-weight="normal" fill="#000" >2.5</text>
<text x="240.9" y="325.2" font-size="6.2" text-anchor="middle" font-weight="normal" fill="#000" >Concentration (μM)</text>
<line x1="203.97" y1="271.94" x2="203.97" y2="266.39" stroke="#ff9a1a" stroke-width="0.5" />
<line x1="202.67" y1="266.39" x2="205.28" y2="266.39" stroke="#ff9a1a" stroke-width="0.9" />
<line x1="202.67" y1="271.94" x2="205.28" y2="271.94" stroke="#ff9a1a" stroke-width="0.9" />
<line x1="207.95" y1="270.21" x2="207.95" y2="264.66" stroke="#ff9a1a" stroke-width="0.5" />
<line x1="206.65" y1="264.66" x2="209.25" y2="264.66" stroke="#ff9a1a" stroke-width="0.9" />
<line x1="206.65" y1="270.21" x2="209.25" y2="270.21" stroke="#ff9a1a" stroke-width="0.9" />
<line x1="215.9" y1="269.17" x2="215.9" y2="266.39" stroke="#ff9a1a" stroke-width="0.5" />
<line x1="214.6" y1="266.39" x2="217.2" y2="266.39" stroke="#ff9a1a" stroke-width="0.9" />
<line x1="214.6" y1="269.17" x2="217.2" y2="269.17" stroke="#ff9a1a" stroke-width="0.9" />
<line x1="231.8" y1="280.26" x2="231.8" y2="277.49" stroke="#ff9a1a" stroke-width="0.5" />
<line x1="230.5" y1="277.49" x2="233.1" y2="277.49" stroke="#ff9a1a" stroke-width="0.9" />
<line x1="230.5" y1="280.26" x2="233.1" y2="280.26" stroke="#ff9a1a" stroke-width="0.9" />
<line x1="263.6" y1="306.61" x2="263.6" y2="305.22" stroke="#ff9a1a" stroke-width="0.5" />
<line x1="262.3" y1="305.22" x2="264.9" y2="305.22" stroke="#ff9a1a" stroke-width="0.9" />
<line x1="262.3" y1="306.61" x2="264.9" y2="306.61" stroke="#ff9a1a" stroke-width="0.9" />
<line x1="203.97" y1="274.02" x2="203.97" y2="268.47" stroke="#ff44ff" stroke-width="0.5" />
<line x1="202.67" y1="268.47" x2="205.28" y2="268.47" stroke="#ff44ff" stroke-width="0.9" />
<line x1="202.67" y1="274.02" x2="205.28" y2="274.02" stroke="#ff44ff" stroke-width="0.9" />
<line x1="207.95" y1="274.02" x2="207.95" y2="267.09" stroke="#ff44ff" stroke-width="0.5" />
<line x1="206.65" y1="267.09" x2="209.25" y2="267.09" stroke="#ff44ff" stroke-width="0.9" />
<line x1="206.65" y1="274.02" x2="209.25" y2="274.02" stroke="#ff44ff" stroke-width="0.9" />
<line x1="215.9" y1="271.25" x2="215.9" y2="268.47" stroke="#ff44ff" stroke-width="0.5" />
<line x1="214.6" y1="268.47" x2="217.2" y2="268.47" stroke="#ff44ff" stroke-width="0.9" />
<line x1="214.6" y1="271.25" x2="217.2" y2="271.25" stroke="#ff44ff" stroke-width="0.9" />
<line x1="231.8" y1="283.03" x2="231.8" y2="280.26" stroke="#ff44ff" stroke-width="0.5" />
<line x1="230.5" y1="280.26" x2="233.1" y2="280.26" stroke="#ff44ff" stroke-width="0.9" />
<line x1="230.5" y1="283.03" x2="233.1" y2="283.03" stroke="#ff44ff" stroke-width="0.9" />
<line x1="263.6" y1="306.61" x2="263.6" y2="305.22" stroke="#ff44ff" stroke-width="0.5" />
<line x1="262.3" y1="305.22" x2="264.9" y2="305.22" stroke="#ff44ff" stroke-width="0.9" />
<line x1="262.3" y1="306.61" x2="264.9" y2="306.61" stroke="#ff44ff" stroke-width="0.9" />
<line x1="203.97" y1="273.33" x2="203.97" y2="269.17" stroke="#8a1a9a" stroke-width="0.5" />
<line x1="202.67" y1="269.17" x2="205.28" y2="269.17" stroke="#8a1a9a" stroke-width="0.9" />
<line x1="202.67" y1="273.33" x2="205.28" y2="273.33" stroke="#8a1a9a" stroke-width="0.9" />
<line x1="207.95" y1="272.63" x2="207.95" y2="267.09" stroke="#8a1a9a" stroke-width="0.5" />
<line x1="206.65" y1="267.09" x2="209.25" y2="267.09" stroke="#8a1a9a" stroke-width="0.9" />
<line x1="206.65" y1="272.63" x2="209.25" y2="272.63" stroke="#8a1a9a" stroke-width="0.9" />
<line x1="215.9" y1="267.09" x2="215.9" y2="264.31" stroke="#8a1a9a" stroke-width="0.5" />
<line x1="214.6" y1="264.31" x2="217.2" y2="264.31" stroke="#8a1a9a" stroke-width="0.9" />
<line x1="214.6" y1="267.09" x2="217.2" y2="267.09" stroke="#8a1a9a" stroke-width="0.9" />
<line x1="231.8" y1="279.22" x2="231.8" y2="276.45" stroke="#8a1a9a" stroke-width="0.5" />
<line x1="230.5" y1="276.45" x2="233.1" y2="276.45" stroke="#8a1a9a" stroke-width="0.9" />
<line x1="230.5" y1="279.22" x2="233.1" y2="279.22" stroke="#8a1a9a" stroke-width="0.9" />
<line x1="263.6" y1="306.61" x2="263.6" y2="305.22" stroke="#8a1a9a" stroke-width="0.5" />
<line x1="262.3" y1="305.22" x2="264.9" y2="305.22" stroke="#8a1a9a" stroke-width="0.9" />
<line x1="262.3" y1="306.61" x2="264.9" y2="306.61" stroke="#8a1a9a" stroke-width="0.9" />
<polyline points="200,272.63 203.97,271.25 207.95,270.55 215.9,270.55 231.8,283.31 263.6,305.57" fill="none" stroke="#ff2a10" stroke-width="1.25" stroke-linejoin="round"/>
<rect x="198.9" y="271.53" width="2.2" height="2.2" fill="#ff2a10"/>
<rect x="202.88" y="270.15" width="2.2" height="2.2" fill="#ff2a10"/>
<rect x="206.85" y="269.45" width="2.2" height="2.2" fill="#ff2a10"/>
<rect x="214.8" y="269.45" width="2.2" height="2.2" fill="#ff2a10"/>
<rect x="230.7" y="282.21" width="2.2" height="2.2" fill="#ff2a10"/>
<rect x="262.5" y="304.47" width="2.2" height="2.2" fill="#ff2a10"/>
<polyline points="200,272.63 203.97,269.17 207.95,267.43 215.9,267.78 231.8,278.87 263.6,305.91" fill="none" stroke="#ff9a1a" stroke-width="1.25" stroke-linejoin="round"/>
<rect x="198.9" y="271.53" width="2.2" height="2.2" fill="#ff9a1a"/>
<rect x="202.88" y="268.07" width="2.2" height="2.2" fill="#ff9a1a"/>
<rect x="206.85" y="266.33" width="2.2" height="2.2" fill="#ff9a1a"/>
<rect x="214.8" y="266.68" width="2.2" height="2.2" fill="#ff9a1a"/>
<rect x="230.7" y="277.77" width="2.2" height="2.2" fill="#ff9a1a"/>
<rect x="262.5" y="304.81" width="2.2" height="2.2" fill="#ff9a1a"/>
<polyline points="200,272.63 203.97,269.86 207.95,268.47 215.9,268.47 231.8,279.57 263.6,305.91" fill="none" stroke="#a8743c" stroke-width="1.25" stroke-linejoin="round"/>
<rect x="198.9" y="271.53" width="2.2" height="2.2" fill="#a8743c"/>
<rect x="202.88" y="268.76" width="2.2" height="2.2" fill="#a8743c"/>
<rect x="206.85" y="267.37" width="2.2" height="2.2" fill="#a8743c"/>
<rect x="214.8" y="267.37" width="2.2" height="2.2" fill="#a8743c"/>
<rect x="230.7" y="278.47" width="2.2" height="2.2" fill="#a8743c"/>
<rect x="262.5" y="304.81" width="2.2" height="2.2" fill="#a8743c"/>
<polyline points="200,272.63 203.97,271.25 207.95,270.55 215.9,269.86 231.8,281.65 263.6,305.91" fill="none" stroke="#ff44ff" stroke-width="1.25" stroke-linejoin="round"/>
<rect x="198.9" y="271.53" width="2.2" height="2.2" fill="#ff44ff"/>
<rect x="202.88" y="270.15" width="2.2" height="2.2" fill="#ff44ff"/>
<rect x="206.85" y="269.45" width="2.2" height="2.2" fill="#ff44ff"/>
<rect x="214.8" y="268.76" width="2.2" height="2.2" fill="#ff44ff"/>
<rect x="230.7" y="280.55" width="2.2" height="2.2" fill="#ff44ff"/>
<rect x="262.5" y="304.81" width="2.2" height="2.2" fill="#ff44ff"/>
<polyline points="200,272.63 203.97,271.25 207.95,269.86 215.9,265.7 231.8,277.83 263.6,305.91" fill="none" stroke="#8a1a9a" stroke-width="1.25" stroke-linejoin="round"/>
<rect x="198.9" y="271.53" width="2.2" height="2.2" fill="#8a1a9a"/>
<rect x="202.88" y="270.15" width="2.2" height="2.2" fill="#8a1a9a"/>
<rect x="206.85" y="268.76" width="2.2" height="2.2" fill="#8a1a9a"/>
<rect x="214.8" y="264.6" width="2.2" height="2.2" fill="#8a1a9a"/>
<rect x="230.7" y="276.73" width="2.2" height="2.2" fill="#8a1a9a"/>
<rect x="262.5" y="304.81" width="2.2" height="2.2" fill="#8a1a9a"/>
<polyline points="200,272.63 203.97,270.55 207.95,269.86 215.9,269.17 231.8,280.12 263.6,305.91" fill="none" stroke="#3ef0f0" stroke-width="1.25" stroke-linejoin="round"/>
<rect x="198.9" y="271.53" width="2.2" height="2.2" fill="#3ef0f0"/>
<rect x="202.88" y="269.45" width="2.2" height="2.2" fill="#3ef0f0"/>
<rect x="206.85" y="268.76" width="2.2" height="2.2" fill="#3ef0f0"/>
<rect x="214.8" y="268.07" width="2.2" height="2.2" fill="#3ef0f0"/>
<rect x="230.7" y="279.02" width="2.2" height="2.2" fill="#3ef0f0"/>
<rect x="262.5" y="304.81" width="2.2" height="2.2" fill="#3ef0f0"/>
<polyline points="200,272.63 203.97,270.55 207.95,269.93 215.9,265.53 231.8,277 263.6,305.91" fill="none" stroke="#1a3cff" stroke-width="1.25" stroke-linejoin="round"/>
<rect x="198.9" y="271.53" width="2.2" height="2.2" fill="#1a3cff"/>
<rect x="202.88" y="269.45" width="2.2" height="2.2" fill="#1a3cff"/>
<rect x="206.85" y="268.83" width="2.2" height="2.2" fill="#1a3cff"/>
<rect x="214.8" y="264.43" width="2.2" height="2.2" fill="#1a3cff"/>
<rect x="230.7" y="275.9" width="2.2" height="2.2" fill="#1a3cff"/>
<rect x="262.5" y="304.81" width="2.2" height="2.2" fill="#1a3cff"/>
<line x1="203.97" y1="271.7" x2="203.97" y2="267.54" stroke="#222" stroke-width="0.7" />
<line x1="202.57" y1="267.54" x2="205.38" y2="267.54" stroke="#222" stroke-width="0.8" />
<line x1="202.57" y1="271.7" x2="205.38" y2="271.7" stroke="#222" stroke-width="0.8" />
<line x1="207.95" y1="276.13" x2="207.95" y2="265.04" stroke="#222" stroke-width="0.7" />
<line x1="206.55" y1="265.04" x2="209.35" y2="265.04" stroke="#222" stroke-width="0.8" />
<line x1="206.55" y1="276.13" x2="209.35" y2="276.13" stroke="#222" stroke-width="0.8" />
<line x1="215.9" y1="268.4" x2="215.9" y2="265.63" stroke="#222" stroke-width="0.7" />
<line x1="214.5" y1="265.63" x2="217.3" y2="265.63" stroke="#222" stroke-width="0.8" />
<line x1="214.5" y1="268.4" x2="217.3" y2="268.4" stroke="#222" stroke-width="0.8" />
<line x1="231.8" y1="274.71" x2="231.8" y2="268.47" stroke="#222" stroke-width="0.7" />
<line x1="230.4" y1="268.47" x2="233.2" y2="268.47" stroke="#222" stroke-width="0.8" />
<line x1="230.4" y1="274.71" x2="233.2" y2="274.71" stroke="#222" stroke-width="0.8" />
<line x1="263.6" y1="277" x2="263.6" y2="275.61" stroke="#222" stroke-width="0.7" />
<line x1="262.2" y1="275.61" x2="265" y2="275.61" stroke="#222" stroke-width="0.8" />
<line x1="262.2" y1="277" x2="265" y2="277" stroke="#222" stroke-width="0.8" />
<polyline points="200,272.63 203.97,269.62 207.95,270.59 215.9,267.02 231.8,271.59 263.6,276.31" fill="none" stroke="#000" stroke-width="0.95" stroke-linejoin="round"/>
<circle cx="200" cy="272.63" r="1.2" fill="#000"/>
<circle cx="203.97" cy="269.62" r="1.2" fill="#000"/>
<circle cx="207.95" cy="270.59" r="1.2" fill="#000"/>
<circle cx="215.9" cy="267.02" r="1.2" fill="#000"/>
<circle cx="231.8" cy="271.59" r="1.2" fill="#000"/>
<circle cx="263.6" cy="276.31" r="1.2" fill="#000"/>
<polyline points="266.4,276.31 269.4,276.31 269.4,305.86 266.4,305.86" fill="none" stroke="#222" stroke-width="0.9"/>
<text x="270" y="292.19" font-size="5.0" text-anchor="start" font-weight="normal" fill="#000" >****</text>
<text x="330.1" y="252.5" font-size="6.8" text-anchor="middle" font-weight="normal" fill="#000" >SNU668</text>
<line x1="290" y1="307.3" x2="290" y2="255.3" stroke="#111" stroke-width="1.05" />
<line x1="288" y1="307.3" x2="290" y2="307.3" stroke="#000" stroke-width="0.8" />
<line x1="288" y1="289.97" x2="290" y2="289.97" stroke="#000" stroke-width="0.8" />
<line x1="288" y1="272.63" x2="290" y2="272.63" stroke="#000" stroke-width="0.8" />
<line x1="288" y1="255.3" x2="290" y2="255.3" stroke="#000" stroke-width="0.8" />
<line x1="290" y1="307.3" x2="370" y2="307.3" stroke="#111" stroke-width="1.05" />
<line x1="290" y1="307.3" x2="290" y2="309.3" stroke="#000" stroke-width="0.8" />
<text x="290" y="317.2" font-size="6.1" text-anchor="middle" font-weight="normal" fill="#000" >0</text>
<line x1="305.9" y1="307.3" x2="305.9" y2="309.3" stroke="#000" stroke-width="0.8" />
<text x="305.9" y="317.2" font-size="6.1" text-anchor="middle" font-weight="normal" fill="#000" >0.5</text>
<line x1="321.8" y1="307.3" x2="321.8" y2="309.3" stroke="#000" stroke-width="0.8" />
<text x="321.8" y="317.2" font-size="6.1" text-anchor="middle" font-weight="normal" fill="#000" >1.0</text>
<line x1="337.7" y1="307.3" x2="337.7" y2="309.3" stroke="#000" stroke-width="0.8" />
<text x="337.7" y="317.2" font-size="6.1" text-anchor="middle" font-weight="normal" fill="#000" >1.5</text>
<line x1="353.6" y1="307.3" x2="353.6" y2="309.3" stroke="#000" stroke-width="0.8" />
<text x="353.6" y="317.2" font-size="6.1" text-anchor="middle" font-weight="normal" fill="#000" >2.0</text>
<line x1="369.5" y1="307.3" x2="369.5" y2="309.3" stroke="#000" stroke-width="0.8" />
<text x="369.5" y="317.2" font-size="6.1" text-anchor="middle" font-weight="normal" fill="#000" >2.5</text>
<text x="331.7" y="325.2" font-size="6.2" text-anchor="middle" font-weight="normal" fill="#000" >Concentration (μM)</text>
<line x1="293.98" y1="275.2" x2="293.98" y2="271.04" stroke="#ff2a10" stroke-width="0.5" />
<line x1="292.68" y1="271.04" x2="295.28" y2="271.04" stroke="#ff2a10" stroke-width="0.9" />
<line x1="292.68" y1="275.2" x2="295.28" y2="275.2" stroke="#ff2a10" stroke-width="0.9" />
<line x1="297.95" y1="280.95" x2="297.95" y2="267.78" stroke="#ff2a10" stroke-width="0.5" />
<line x1="296.65" y1="267.78" x2="299.25" y2="267.78" stroke="#ff2a10" stroke-width="0.9" />
<line x1="296.65" y1="280.95" x2="299.25" y2="280.95" stroke="#ff2a10" stroke-width="0.9" />
<line x1="305.9" y1="272.63" x2="305.9" y2="267.09" stroke="#ff2a10" stroke-width="0.5" />
<line x1="304.6" y1="267.09" x2="307.2" y2="267.09" stroke="#ff2a10" stroke-width="0.9" />
<line x1="304.6" y1="272.63" x2="307.2" y2="272.63" stroke="#ff2a10" stroke-width="0.9" />
<line x1="321.8" y1="279.57" x2="321.8" y2="274.02" stroke="#ff2a10" stroke-width="0.5" />
<line x1="320.5" y1="274.02" x2="323.1" y2="274.02" stroke="#ff2a10" stroke-width="0.9" />
<line x1="320.5" y1="279.57" x2="323.1" y2="279.57" stroke="#ff2a10" stroke-width="0.9" />
<line x1="353.6" y1="299.67" x2="353.6" y2="296.9" stroke="#ff2a10" stroke-width="0.5" />
<line x1="352.3" y1="296.9" x2="354.9" y2="296.9" stroke="#ff2a10" stroke-width="0.9" />
<line x1="352.3" y1="299.67" x2="354.9" y2="299.67" stroke="#ff2a10" stroke-width="0.9" />
<line x1="293.98" y1="273.33" x2="293.98" y2="269.17" stroke="#ff44ff" stroke-width="0.5" />
<line x1="292.68" y1="269.17" x2="295.28" y2="269.17" stroke="#ff44ff" stroke-width="0.9" />
<line x1="292.68" y1="273.33" x2="295.28" y2="273.33" stroke="#ff44ff" stroke-width="0.9" />
<line x1="297.95" y1="273.33" x2="297.95" y2="269.17" stroke="#ff44ff" stroke-width="0.5" />
<line x1="296.65" y1="269.17" x2="299.25" y2="269.17" stroke="#ff44ff" stroke-width="0.9" />
<line x1="296.65" y1="273.33" x2="299.25" y2="273.33" stroke="#ff44ff" stroke-width="0.9" />
<line x1="305.9" y1="272.63" x2="305.9" y2="268.47" stroke="#ff44ff" stroke-width="0.5" />
<line x1="304.6" y1="268.47" x2="307.2" y2="268.47" stroke="#ff44ff" stroke-width="0.9" />
<line x1="304.6" y1="272.63" x2="307.2" y2="272.63" stroke="#ff44ff" stroke-width="0.9" />
<line x1="321.8" y1="286.5" x2="321.8" y2="277.49" stroke="#ff44ff" stroke-width="0.5" />
<line x1="320.5" y1="277.49" x2="323.1" y2="277.49" stroke="#ff44ff" stroke-width="0.9" />
<line x1="320.5" y1="286.5" x2="323.1" y2="286.5" stroke="#ff44ff" stroke-width="0.9" />
<line x1="353.6" y1="303.49" x2="353.6" y2="300.71" stroke="#ff44ff" stroke-width="0.5" />
<line x1="352.3" y1="300.71" x2="354.9" y2="300.71" stroke="#ff44ff" stroke-width="0.9" />
<line x1="352.3" y1="303.49" x2="354.9" y2="303.49" stroke="#ff44ff" stroke-width="0.9" />
<line x1="293.98" y1="271.7" x2="293.98" y2="268.92" stroke="#1a3cff" stroke-width="0.5" />
<line x1="292.68" y1="268.92" x2="295.28" y2="268.92" stroke="#1a3cff" stroke-width="0.9" />
<line x1="292.68" y1="271.7" x2="295.28" y2="271.7" stroke="#1a3cff" stroke-width="0.9" />
<line x1="297.95" y1="271.7" x2="297.95" y2="268.92" stroke="#1a3cff" stroke-width="0.5" />
<line x1="296.65" y1="268.92" x2="299.25" y2="268.92" stroke="#1a3cff" stroke-width="0.9" />
<line x1="296.65" y1="271.7" x2="299.25" y2="271.7" stroke="#1a3cff" stroke-width="0.9" />
<line x1="305.9" y1="271.94" x2="305.9" y2="269.17" stroke="#1a3cff" stroke-width="0.5" />
<line x1="304.6" y1="269.17" x2="307.2" y2="269.17" stroke="#1a3cff" stroke-width="0.9" />
<line x1="304.6" y1="271.94" x2="307.2" y2="271.94" stroke="#1a3cff" stroke-width="0.9" />
<line x1="321.8" y1="281.65" x2="321.8" y2="277.49" stroke="#1a3cff" stroke-width="0.5" />
<line x1="320.5" y1="277.49" x2="323.1" y2="277.49" stroke="#1a3cff" stroke-width="0.9" />
<line x1="320.5" y1="281.65" x2="323.1" y2="281.65" stroke="#1a3cff" stroke-width="0.9" />
<line x1="353.6" y1="305.98" x2="353.6" y2="296.28" stroke="#1a3cff" stroke-width="0.5" />
<line x1="352.3" y1="296.28" x2="354.9" y2="296.28" stroke="#1a3cff" stroke-width="0.9" />
<line x1="352.3" y1="305.98" x2="354.9" y2="305.98" stroke="#1a3cff" stroke-width="0.9" />
<polyline points="290,272.63 293.98,273.12 297.95,274.37 305.9,269.86 321.8,276.79 353.6,298.29" fill="none" stroke="#ff2a10" stroke-width="1.25" stroke-linejoin="round"/>
<rect x="288.9" y="271.53" width="2.2" height="2.2" fill="#ff2a10"/>
<rect x="292.88" y="272.02" width="2.2" height="2.2" fill="#ff2a10"/>
<rect x="296.85" y="273.27" width="2.2" height="2.2" fill="#ff2a10"/>
<rect x="304.8" y="268.76" width="2.2" height="2.2" fill="#ff2a10"/>
<rect x="320.7" y="275.69" width="2.2" height="2.2" fill="#ff2a10"/>
<rect x="352.5" y="297.19" width="2.2" height="2.2" fill="#ff2a10"/>
<polyline points="290,272.63 293.98,269.17 297.95,269.17 305.9,269.17 321.8,276.31 353.6,299.67" fill="none" stroke="#ff9a1a" stroke-width="1.25" stroke-linejoin="round"/>
<rect x="288.9" y="271.53" width="2.2" height="2.2" fill="#ff9a1a"/>
<rect x="292.88" y="268.07" width="2.2" height="2.2" fill="#ff9a1a"/>
<rect x="296.85" y="268.07" width="2.2" height="2.2" fill="#ff9a1a"/>
<rect x="304.8" y="268.07" width="2.2" height="2.2" fill="#ff9a1a"/>
<rect x="320.7" y="275.21" width="2.2" height="2.2" fill="#ff9a1a"/>
<rect x="352.5" y="298.57" width="2.2" height="2.2" fill="#ff9a1a"/>
<polyline points="290,272.63 293.98,269.17 297.95,269.17 305.9,269.17 321.8,276.79 353.6,300.37" fill="none" stroke="#a8743c" stroke-width="1.25" stroke-linejoin="round"/>
<rect x="288.9" y="271.53" width="2.2" height="2.2" fill="#a8743c"/>
<rect x="292.88" y="268.07" width="2.2" height="2.2" fill="#a8743c"/>
<rect x="296.85" y="268.07" width="2.2" height="2.2" fill="#a8743c"/>
<rect x="304.8" y="268.07" width="2.2" height="2.2" fill="#a8743c"/>
<rect x="320.7" y="275.69" width="2.2" height="2.2" fill="#a8743c"/>
<rect x="352.5" y="299.27" width="2.2" height="2.2" fill="#a8743c"/>
<polyline points="290,272.63 293.98,271.25 297.95,271.25 305.9,270.55 321.8,281.99 353.6,302.1" fill="none" stroke="#ff44ff" stroke-width="1.25" stroke-linejoin="round"/>
<rect x="288.9" y="271.53" width="2.2" height="2.2" fill="#ff44ff"/>
<rect x="292.88" y="270.15" width="2.2" height="2.2" fill="#ff44ff"/>
<rect x="296.85" y="270.15" width="2.2" height="2.2" fill="#ff44ff"/>
<rect x="304.8" y="269.45" width="2.2" height="2.2" fill="#ff44ff"/>
<rect x="320.7" y="280.89" width="2.2" height="2.2" fill="#ff44ff"/>
<rect x="352.5" y="301" width="2.2" height="2.2" fill="#ff44ff"/>
<polyline points="290,272.63 293.98,269.17 297.95,269.17 305.9,268.47 321.8,273.4 353.6,298.98" fill="none" stroke="#8a1a9a" stroke-width="1.25" stroke-linejoin="round"/>
<rect x="288.9" y="271.53" width="2.2" height="2.2" fill="#8a1a9a"/>
<rect x="292.88" y="268.07" width="2.2" height="2.2" fill="#8a1a9a"/>
<rect x="296.85" y="268.07" width="2.2" height="2.2" fill="#8a1a9a"/>
<rect x="304.8" y="267.37" width="2.2" height="2.2" fill="#8a1a9a"/>
<rect x="320.7" y="272.3" width="2.2" height="2.2" fill="#8a1a9a"/>
<rect x="352.5" y="297.88" width="2.2" height="2.2" fill="#8a1a9a"/>
<polyline points="290,272.63 293.98,269.86 297.95,269.86 305.9,269.86 321.8,280.26 353.6,301.06" fill="none" stroke="#3ef0f0" stroke-width="1.25" stroke-linejoin="round"/>
<rect x="288.9" y="271.53" width="2.2" height="2.2" fill="#3ef0f0"/>
<rect x="292.88" y="268.76" width="2.2" height="2.2" fill="#3ef0f0"/>
<rect x="296.85" y="268.76" width="2.2" height="2.2" fill="#3ef0f0"/>
<rect x="304.8" y="268.76" width="2.2" height="2.2" fill="#3ef0f0"/>
<rect x="320.7" y="279.16" width="2.2" height="2.2" fill="#3ef0f0"/>
<rect x="352.5" y="299.96" width="2.2" height="2.2" fill="#3ef0f0"/>
<polyline points="290,272.63 293.98,270.31 297.95,270.31 305.9,270.55 321.8,279.57 353.6,301.13" fill="none" stroke="#1a3cff" stroke-width="1.25" stroke-linejoin="round"/>
<rect x="288.9" y="271.53" width="2.2" height="2.2" fill="#1a3cff"/>
<rect x="292.88" y="269.21" width="2.2" height="2.2" fill="#1a3cff"/>
<rect x="296.85" y="269.21" width="2.2" height="2.2" fill="#1a3cff"/>
<rect x="304.8" y="269.45" width="2.2" height="2.2" fill="#1a3cff"/>
<rect x="320.7" y="278.47" width="2.2" height="2.2" fill="#1a3cff"/>
<rect x="352.5" y="300.03" width="2.2" height="2.2" fill="#1a3cff"/>
<line x1="293.98" y1="270.55" x2="293.98" y2="265.01" stroke="#222" stroke-width="0.7" />
<line x1="292.58" y1="265.01" x2="295.38" y2="265.01" stroke="#222" stroke-width="0.8" />
<line x1="292.58" y1="270.55" x2="295.38" y2="270.55" stroke="#222" stroke-width="0.8" />
<line x1="297.95" y1="272.67" x2="297.95" y2="263.31" stroke="#222" stroke-width="0.7" />
<line x1="296.55" y1="263.31" x2="299.35" y2="263.31" stroke="#222" stroke-width="0.8" />
<line x1="296.55" y1="272.67" x2="299.35" y2="272.67" stroke="#222" stroke-width="0.8" />
<line x1="305.9" y1="275.23" x2="305.9" y2="261.37" stroke="#222" stroke-width="0.7" />
<line x1="304.5" y1="261.37" x2="307.3" y2="261.37" stroke="#222" stroke-width="0.8" />
<line x1="304.5" y1="275.23" x2="307.3" y2="275.23" stroke="#222" stroke-width="0.8" />
<line x1="321.8" y1="282.48" x2="321.8" y2="265.15" stroke="#222" stroke-width="0.7" />
<line x1="320.4" y1="265.15" x2="323.2" y2="265.15" stroke="#222" stroke-width="0.8" />
<line x1="320.4" y1="282.48" x2="323.2" y2="282.48" stroke="#222" stroke-width="0.8" />
<line x1="353.6" y1="288.06" x2="353.6" y2="264.83" stroke="#222" stroke-width="0.7" />
<line x1="352.2" y1="264.83" x2="355" y2="264.83" stroke="#222" stroke-width="0.8" />
<line x1="352.2" y1="288.06" x2="355" y2="288.06" stroke="#222" stroke-width="0.8" />
<polyline points="290,272.63 293.98,267.78 297.95,267.99 305.9,268.3 321.8,273.81 353.6,276.45" fill="none" stroke="#000" stroke-width="0.95" stroke-linejoin="round"/>
<circle cx="290" cy="272.63" r="1.2" fill="#000"/>
<circle cx="293.98" cy="267.78" r="1.2" fill="#000"/>
<circle cx="297.95" cy="267.99" r="1.2" fill="#000"/>
<circle cx="305.9" cy="268.3" r="1.2" fill="#000"/>
<circle cx="321.8" cy="273.81" r="1.2" fill="#000"/>
<circle cx="353.6" cy="276.45" r="1.2" fill="#000"/>
<polyline points="356.4,276.45 359.4,276.45 359.4,301.13 356.4,301.13" fill="none" stroke="#222" stroke-width="0.9"/>
<text x="360" y="291.29" font-size="5.0" text-anchor="start" font-weight="normal" fill="#000" >****</text>
<text x="5.6" y="338.3" font-size="11" font-weight="bold">b</text>
<text x="74.6" y="346.9" font-size="6.1" text-anchor="middle" font-weight="bold" fill="#111" class="b" >AGS</text>
<line x1="26.6" y1="417.3" x2="26.6" y2="354" stroke="#1a1a1a" stroke-width="0.85" />
<line x1="24.6" y1="396.2" x2="26.6" y2="396.2" stroke="#1a1a1a" stroke-width="0.8" />
<line x1="24.6" y1="375.1" x2="26.6" y2="375.1" stroke="#1a1a1a" stroke-width="0.8" />
<line x1="24.6" y1="354" x2="26.6" y2="354" stroke="#1a1a1a" stroke-width="0.8" />
<text x="23.5" y="414.8" font-size="5.8" text-anchor="end" font-weight="normal" fill="#111" class="b" >0</text>
<text x="23.5" y="398.3" font-size="5.8" text-anchor="end" font-weight="normal" fill="#111" class="b" >50</text>
<text x="23.5" y="377.2" font-size="5.8" text-anchor="end" font-weight="normal" fill="#111" class="b" >100</text>
<text x="23.5" y="356.1" font-size="5.8" text-anchor="end" font-weight="normal" fill="#111" class="b" >150</text>
<text transform="translate(11,388) rotate(-90)" font-size="6.1" text-anchor="middle" fill="#111" class="b">Migrated cells (%)</text>
<line x1="39.25" y1="374.89" x2="39.25" y2="372.91" stroke="#1a1a1a" stroke-width="0.9" />
<line x1="35.05" y1="372.91" x2="43.45" y2="372.91" stroke="#1a1a1a" stroke-width="0.9" />
<rect x="31" y="374.89" width="16.5" height="42.41" fill="#000000"/>
<line x1="39.25" y1="417.3" x2="39.25" y2="419.5" stroke="#1a1a1a" stroke-width="0.8" />
<text transform="translate(41.3,421.8) rotate(-90)" font-size="5.75" text-anchor="end" fill="#111" class="b">DMSO</text>
<line x1="62.85" y1="373.2" x2="62.85" y2="368.18" stroke="#1a1a1a" stroke-width="0.9" />
<line x1="58.65" y1="368.18" x2="67.05" y2="368.18" stroke="#1a1a1a" stroke-width="0.9" />
<rect x="54.6" y="373.2" width="16.5" height="44.1" fill="#a2a2a2"/>
<line x1="62.85" y1="417.3" x2="62.85" y2="419.5" stroke="#1a1a1a" stroke-width="0.8" />
<text transform="translate(64.9,421.8) rotate(-90)" font-size="5.75" text-anchor="end" fill="#111" class="b">Rhosin</text>
<line x1="86.75" y1="392.32" x2="86.75" y2="389.91" stroke="#1a1a1a" stroke-width="0.9" />
<line x1="82.55" y1="389.91" x2="90.95" y2="389.91" stroke="#1a1a1a" stroke-width="0.9" />
<rect x="78.5" y="392.32" width="16.5" height="24.98" fill="#737373"/>
<line x1="86.75" y1="417.3" x2="86.75" y2="419.5" stroke="#1a1a1a" stroke-width="0.8" />
<text transform="translate(88.8,421.8) rotate(-90)" font-size="5.75" text-anchor="end" fill="#111" class="b">JK-206</text>
<line x1="110.15" y1="386.92" x2="110.15" y2="384.38" stroke="#1a1a1a" stroke-width="0.9" />
<line x1="105.95" y1="384.38" x2="114.35" y2="384.38" stroke="#1a1a1a" stroke-width="0.9" />
<rect x="101.9" y="386.92" width="16.5" height="30.38" fill="#d2d2d2"/>
<line x1="110.15" y1="417.3" x2="110.15" y2="419.5" stroke="#1a1a1a" stroke-width="0.8" />
<text transform="translate(112.2,421.8) rotate(-90)" font-size="5.75" text-anchor="end" fill="#111" class="b">JK-312</text>
<line x1="25.4" y1="417.3" x2="121.2" y2="417.3" stroke="#1a1a1a" stroke-width="0.9" />
<text x="199.8" y="346.9" font-size="6.1" text-anchor="middle" font-weight="bold" fill="#111" class="b" >MKN1</text>
<line x1="151.9" y1="417.3" x2="151.9" y2="354" stroke="#1a1a1a" stroke-width="0.85" />
<line x1="149.9" y1="396.2" x2="151.9" y2="396.2" stroke="#1a1a1a" stroke-width="0.8" />
<line x1="149.9" y1="375.1" x2="151.9" y2="375.1" stroke="#1a1a1a" stroke-width="0.8" />
<line x1="149.9" y1="354" x2="151.9" y2="354" stroke="#1a1a1a" stroke-width="0.8" />
<text x="148.8" y="414.8" font-size="5.8" text-anchor="end" font-weight="normal" fill="#111" class="b" >0</text>
<text x="148.8" y="398.3" font-size="5.8" text-anchor="end" font-weight="normal" fill="#111" class="b" >50</text>
<text x="148.8" y="377.2" font-size="5.8" text-anchor="end" font-weight="normal" fill="#111" class="b" >100</text>
<text x="148.8" y="356.1" font-size="5.8" text-anchor="end" font-weight="normal" fill="#111" class="b" >150</text>
<text transform="translate(136.3,388) rotate(-90)" font-size="6.1" text-anchor="middle" fill="#111" class="b">Migrated cells (%)</text>
<line x1="164.25" y1="375.1" x2="164.25" y2="371.39" stroke="#1a1a1a" stroke-width="0.9" />
<line x1="160.05" y1="371.39" x2="168.45" y2="371.39" stroke="#1a1a1a" stroke-width="0.9" />
<rect x="156" y="375.1" width="16.5" height="42.2" fill="#000000"/>
<line x1="164.25" y1="417.3" x2="164.25" y2="419.5" stroke="#1a1a1a" stroke-width="0.8" />
<text transform="translate(166.3,421.8) rotate(-90)" font-size="5.75" text-anchor="end" fill="#111" class="b">DMSO</text>
<line x1="188.15" y1="371.89" x2="188.15" y2="364.51" stroke="#1a1a1a" stroke-width="0.9" />
<line x1="183.95" y1="364.51" x2="192.35" y2="364.51" stroke="#1a1a1a" stroke-width="0.9" />
<rect x="179.9" y="371.89" width="16.5" height="45.41" fill="#a2a2a2"/>
<line x1="188.15" y1="417.3" x2="188.15" y2="419.5" stroke="#1a1a1a" stroke-width="0.8" />
<text transform="translate(190.2,421.8) rotate(-90)" font-size="5.75" text-anchor="end" fill="#111" class="b">Rhosin</text>
<line x1="212.25" y1="391.81" x2="212.25" y2="389.41" stroke="#1a1a1a" stroke-width="0.9" />
<line x1="208.05" y1="389.41" x2="216.45" y2="389.41" stroke="#1a1a1a" stroke-width="0.9" />
<rect x="204" y="391.81" width="16.5" height="25.49" fill="#737373"/>
<line x1="212.25" y1="417.3" x2="212.25" y2="419.5" stroke="#1a1a1a" stroke-width="0.8" />
<text transform="translate(214.3,421.8) rotate(-90)" font-size="5.75" text-anchor="end" fill="#111" class="b">JK-206</text>
<line x1="235.85" y1="395.31" x2="235.85" y2="388.56" stroke="#1a1a1a" stroke-width="0.9" />
<line x1="231.65" y1="388.56" x2="240.05" y2="388.56" stroke="#1a1a1a" stroke-width="0.9" />
<rect x="227.6" y="395.31" width="16.5" height="21.99" fill="#d2d2d2"/>
<line x1="235.85" y1="417.3" x2="235.85" y2="419.5" stroke="#1a1a1a" stroke-width="0.8" />
<text transform="translate(237.9,421.8) rotate(-90)" font-size="5.75" text-anchor="end" fill="#111" class="b">JK-312</text>
<line x1="150.7" y1="417.3" x2="246.9" y2="417.3" stroke="#1a1a1a" stroke-width="0.9" />
<text x="321.5" y="347.4" font-size="6.1" text-anchor="middle" font-weight="bold" fill="#111" class="b" >SNU601</text>
<line x1="274.8" y1="417.4" x2="274.8" y2="354.1" stroke="#1a1a1a" stroke-width="0.85" />
<line x1="272.8" y1="396.3" x2="274.8" y2="396.3" stroke="#1a1a1a" stroke-width="0.8" />
<line x1="272.8" y1="375.2" x2="274.8" y2="375.2" stroke="#1a1a1a" stroke-width="0.8" />
<line x1="272.8" y1="354.1" x2="274.8" y2="354.1" stroke="#1a1a1a" stroke-width="0.8" />
<text x="271.7" y="414.9" font-size="5.8" text-anchor="end" font-weight="normal" fill="#111" class="b" >0</text>
<text x="271.7" y="398.4" font-size="5.8" text-anchor="end" font-weight="normal" fill="#111" class="b" >50</text>
<text x="271.7" y="377.3" font-size="5.8" text-anchor="end" font-weight="normal" fill="#111" class="b" >100</text>
<text x="271.7" y="356.2" font-size="5.8" text-anchor="end" font-weight="normal" fill="#111" class="b" >150</text>
<text transform="translate(259.2,388.1) rotate(-90)" font-size="6.1" text-anchor="middle" fill="#111" class="b">Migrated cells (%)</text>
<line x1="286.25" y1="376.3" x2="286.25" y2="374.48" stroke="#1a1a1a" stroke-width="0.9" />
<line x1="282.05" y1="374.48" x2="290.45" y2="374.48" stroke="#1a1a1a" stroke-width="0.9" />
<rect x="278" y="376.3" width="16.5" height="41.1" fill="#000000"/>
<line x1="286.25" y1="417.4" x2="286.25" y2="419.6" stroke="#1a1a1a" stroke-width="0.8" />
<text transform="translate(288.3,421.9) rotate(-90)" font-size="5.75" text-anchor="end" fill="#111" class="b">DMSO</text>
<line x1="309.95" y1="380.6" x2="309.95" y2="378.49" stroke="#1a1a1a" stroke-width="0.9" />
<line x1="305.75" y1="378.49" x2="314.15" y2="378.49" stroke="#1a1a1a" stroke-width="0.9" />
<rect x="301.7" y="380.6" width="16.5" height="36.8" fill="#a2a2a2"/>
<line x1="309.95" y1="417.4" x2="309.95" y2="419.6" stroke="#1a1a1a" stroke-width="0.8" />
<text transform="translate(312,421.9) rotate(-90)" font-size="5.75" text-anchor="end" fill="#111" class="b">Rhosin</text>
<line x1="333.85" y1="390.9" x2="333.85" y2="389.04" stroke="#1a1a1a" stroke-width="0.9" />
<line x1="329.65" y1="389.04" x2="338.05" y2="389.04" stroke="#1a1a1a" stroke-width="0.9" />
<rect x="325.6" y="390.9" width="16.5" height="26.5" fill="#737373"/>
<line x1="333.85" y1="417.4" x2="333.85" y2="419.6" stroke="#1a1a1a" stroke-width="0.8" />
<text transform="translate(335.9,421.9) rotate(-90)" font-size="5.75" text-anchor="end" fill="#111" class="b">JK-206</text>
<line x1="357.65" y1="390.9" x2="357.65" y2="388.11" stroke="#1a1a1a" stroke-width="0.9" />
<line x1="353.45" y1="388.11" x2="361.85" y2="388.11" stroke="#1a1a1a" stroke-width="0.9" />
<rect x="349.4" y="390.9" width="16.5" height="26.5" fill="#d2d2d2"/>
<line x1="357.65" y1="417.4" x2="357.65" y2="419.6" stroke="#1a1a1a" stroke-width="0.8" />
<text transform="translate(359.7,421.9) rotate(-90)" font-size="5.75" text-anchor="end" fill="#111" class="b">JK-312</text>
<line x1="273.6" y1="417.4" x2="368.7" y2="417.4" stroke="#1a1a1a" stroke-width="0.9" />
<text x="74.4" y="451" font-size="6.1" text-anchor="middle" font-weight="bold" fill="#111" class="b" >SNU216</text>
<line x1="26.6" y1="521.2" x2="26.6" y2="457.9" stroke="#1a1a1a" stroke-width="0.85" />
<line x1="24.6" y1="500.1" x2="26.6" y2="500.1" stroke="#1a1a1a" stroke-width="0.8" />
<line x1="24.6" y1="479" x2="26.6" y2="479" stroke="#1a1a1a" stroke-width="0.8" />
<line x1="24.6" y1="457.9" x2="26.6" y2="457.9" stroke="#1a1a1a" stroke-width="0.8" />
<text x="23.5" y="523.3" font-size="5.8" text-anchor="end" font-weight="normal" fill="#111" class="b" >0</text>
<text x="23.5" y="502.2" font-size="5.8" text-anchor="end" font-weight="normal" fill="#111" class="b" >50</text>
<text x="23.5" y="481.1" font-size="5.8" text-anchor="end" font-weight="normal" fill="#111" class="b" >100</text>
<text x="23.5" y="460" font-size="5.8" text-anchor="end" font-weight="normal" fill="#111" class="b" >150</text>
<text transform="translate(11,491.9) rotate(-90)" font-size="6.1" text-anchor="middle" fill="#111" class="b">Migrated cells (%)</text>
<line x1="38.85" y1="481.32" x2="38.85" y2="478.37" stroke="#1a1a1a" stroke-width="0.9" />
<line x1="34.65" y1="478.37" x2="43.05" y2="478.37" stroke="#1a1a1a" stroke-width="0.9" />
<rect x="30.6" y="481.32" width="16.5" height="39.88" fill="#000000"/>
<line x1="38.85" y1="521.2" x2="38.85" y2="523.4" stroke="#1a1a1a" stroke-width="0.8" />
<text transform="translate(40.9,527.2) rotate(-90)" font-size="5.75" text-anchor="end" fill="#111" class="b">DMSO</text>
<line x1="62.65" y1="473.89" x2="62.65" y2="470.1" stroke="#1a1a1a" stroke-width="0.9" />
<line x1="58.45" y1="470.1" x2="66.85" y2="470.1" stroke="#1a1a1a" stroke-width="0.9" />
<rect x="54.4" y="473.89" width="16.5" height="47.31" fill="#a2a2a2"/>
<line x1="62.65" y1="521.2" x2="62.65" y2="523.4" stroke="#1a1a1a" stroke-width="0.8" />
<text transform="translate(64.7,527.2) rotate(-90)" font-size="5.75" text-anchor="end" fill="#111" class="b">Rhosin</text>
<line x1="86.45" y1="489.85" x2="86.45" y2="487.95" stroke="#1a1a1a" stroke-width="0.9" />
<line x1="82.25" y1="487.95" x2="90.65" y2="487.95" stroke="#1a1a1a" stroke-width="0.9" />
<rect x="78.2" y="489.85" width="16.5" height="31.35" fill="#737373"/>
<line x1="86.45" y1="521.2" x2="86.45" y2="523.4" stroke="#1a1a1a" stroke-width="0.8" />
<text transform="translate(88.5,527.2) rotate(-90)" font-size="5.75" text-anchor="end" fill="#111" class="b">JK-206</text>
<line x1="110.25" y1="487.95" x2="110.25" y2="486.6" stroke="#1a1a1a" stroke-width="0.9" />
<line x1="106.05" y1="486.6" x2="114.45" y2="486.6" stroke="#1a1a1a" stroke-width="0.9" />
<rect x="102" y="487.95" width="16.5" height="33.25" fill="#d2d2d2"/>
<line x1="110.25" y1="521.2" x2="110.25" y2="523.4" stroke="#1a1a1a" stroke-width="0.8" />
<text transform="translate(112.3,527.2) rotate(-90)" font-size="5.75" text-anchor="end" fill="#111" class="b">JK-312</text>
<line x1="25.4" y1="521.2" x2="121.3" y2="521.2" stroke="#1a1a1a" stroke-width="0.9" />
<text x="200" y="451" font-size="6.1" text-anchor="middle" font-weight="bold" fill="#111" class="b" >SNU668</text>
<line x1="151.8" y1="521.2" x2="151.8" y2="457.9" stroke="#1a1a1a" stroke-width="0.85" />
<line x1="149.8" y1="500.1" x2="151.8" y2="500.1" stroke="#1a1a1a" stroke-width="0.8" />
<line x1="149.8" y1="479" x2="151.8" y2="479" stroke="#1a1a1a" stroke-width="0.8" />
<line x1="149.8" y1="457.9" x2="151.8" y2="457.9" stroke="#1a1a1a" stroke-width="0.8" />
<text x="148.7" y="523.3" font-size="5.8" text-anchor="end" font-weight="normal" fill="#111" class="b" >0</text>
<text x="148.7" y="502.2" font-size="5.8" text-anchor="end" font-weight="normal" fill="#111" class="b" >50</text>
<text x="148.7" y="481.1" font-size="5.8" text-anchor="end" font-weight="normal" fill="#111" class="b" >100</text>
<text x="148.7" y="460" font-size="5.8" text-anchor="end" font-weight="normal" fill="#111" class="b" >150</text>
<text transform="translate(136.2,491.9) rotate(-90)" font-size="6.1" text-anchor="middle" fill="#111" class="b">Migrated cells (%)</text>
<line x1="164.05" y1="484.02" x2="164.05" y2="479.21" stroke="#1a1a1a" stroke-width="0.9" />
<line x1="159.85" y1="479.21" x2="168.25" y2="479.21" stroke="#1a1a1a" stroke-width="0.9" />
<rect x="155.8" y="484.02" width="16.5" height="37.18" fill="#000000"/>
<line x1="164.05" y1="521.2" x2="164.05" y2="523.4" stroke="#1a1a1a" stroke-width="0.8" />
<text transform="translate(166.1,527.2) rotate(-90)" font-size="5.75" text-anchor="end" fill="#111" class="b">DMSO</text>
<line x1="188.15" y1="485.84" x2="188.15" y2="484.02" stroke="#1a1a1a" stroke-width="0.9" />
<line x1="183.95" y1="484.02" x2="192.35" y2="484.02" stroke="#1a1a1a" stroke-width="0.9" />
<rect x="179.9" y="485.84" width="16.5" height="35.36" fill="#a2a2a2"/>
<line x1="188.15" y1="521.2" x2="188.15" y2="523.4" stroke="#1a1a1a" stroke-width="0.8" />
<text transform="translate(190.2,527.2) rotate(-90)" font-size="5.75" text-anchor="end" fill="#111" class="b">Rhosin</text>
<line x1="211.95" y1="508.46" x2="211.95" y2="506.35" stroke="#1a1a1a" stroke-width="0.9" />
<line x1="207.75" y1="506.35" x2="216.15" y2="506.35" stroke="#1a1a1a" stroke-width="0.9" />
<rect x="203.7" y="508.46" width="16.5" height="12.74" fill="#737373"/>
<line x1="211.95" y1="521.2" x2="211.95" y2="523.4" stroke="#1a1a1a" stroke-width="0.8" />
<text transform="translate(214,527.2) rotate(-90)" font-size="5.75" text-anchor="end" fill="#111" class="b">JK-206</text>
<line x1="235.55" y1="500.99" x2="235.55" y2="500.48" stroke="#1a1a1a" stroke-width="0.9" />
<line x1="231.35" y1="500.48" x2="239.75" y2="500.48" stroke="#1a1a1a" stroke-width="0.9" />
<rect x="227.3" y="500.99" width="16.5" height="20.21" fill="#d2d2d2"/>
<line x1="235.55" y1="521.2" x2="235.55" y2="523.4" stroke="#1a1a1a" stroke-width="0.8" />
<text transform="translate(237.6,527.2) rotate(-90)" font-size="5.75" text-anchor="end" fill="#111" class="b">JK-312</text>
<line x1="150.6" y1="521.2" x2="246.6" y2="521.2" stroke="#1a1a1a" stroke-width="0.9" />
</svg>
</body></html>
